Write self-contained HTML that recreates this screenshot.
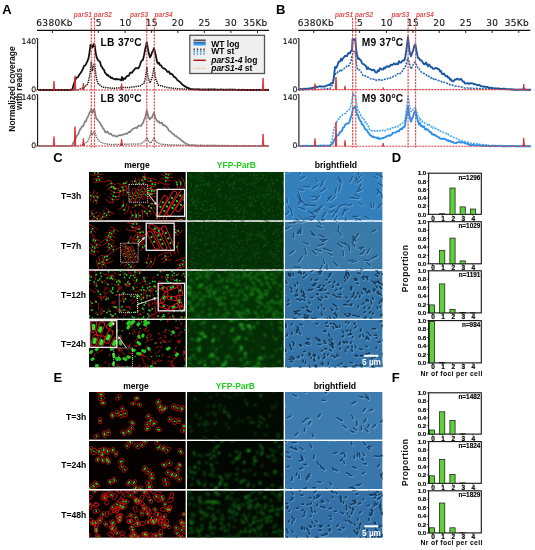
<!DOCTYPE html>
<html><head><meta charset="utf-8"><title>Figure</title>
<style>html,body{margin:0;padding:0;background:#fff;width:535px;height:550px;overflow:hidden}svg{display:block}</style>
</head><body>
<svg width="535" height="550" viewBox="0 0 535 550">
<rect x="0" y="0" width="535" height="550" fill="#fff"/>
<text x="2.3" y="13.8" font-family="'Liberation Sans', Arial, sans-serif" font-size="13" font-weight="bold" font-style="normal" text-anchor="start" fill="#000" >A</text>
<line x1="37" y1="30.4" x2="269" y2="30.4" stroke="#111" stroke-width="1.3"/>
<line x1="52.4" y1="30.4" x2="52.4" y2="33" stroke="#111" stroke-width="0.9"/>
<line x1="98.3" y1="30.4" x2="98.3" y2="33" stroke="#111" stroke-width="0.9"/>
<line x1="125.1" y1="30.4" x2="125.1" y2="33" stroke="#111" stroke-width="0.9"/>
<line x1="151.6" y1="30.4" x2="151.6" y2="33" stroke="#111" stroke-width="0.9"/>
<line x1="177.9" y1="30.4" x2="177.9" y2="33" stroke="#111" stroke-width="0.9"/>
<line x1="204.4" y1="30.4" x2="204.4" y2="33" stroke="#111" stroke-width="0.9"/>
<line x1="230.9" y1="30.4" x2="230.9" y2="33" stroke="#111" stroke-width="0.9"/>
<line x1="257.5" y1="30.4" x2="257.5" y2="33" stroke="#111" stroke-width="0.9"/>
<text x="54.5" y="25.6" font-family="'DejaVu Sans', sans-serif" font-size="9" font-weight="normal" font-style="normal" text-anchor="middle" fill="#111" letter-spacing="0.3" stroke="#111" stroke-width="0.12">6380Kb</text>
<text x="98.7" y="25.6" font-family="'DejaVu Sans', sans-serif" font-size="9" font-weight="normal" font-style="normal" text-anchor="middle" fill="#111" letter-spacing="0.3" stroke="#111" stroke-width="0.12">5</text>
<text x="125.5" y="25.6" font-family="'DejaVu Sans', sans-serif" font-size="9" font-weight="normal" font-style="normal" text-anchor="middle" fill="#111" letter-spacing="0.3" stroke="#111" stroke-width="0.12">10</text>
<text x="151.8" y="25.6" font-family="'DejaVu Sans', sans-serif" font-size="9" font-weight="normal" font-style="normal" text-anchor="middle" fill="#111" letter-spacing="0.3" stroke="#111" stroke-width="0.12">15</text>
<text x="177.9" y="25.6" font-family="'DejaVu Sans', sans-serif" font-size="9" font-weight="normal" font-style="normal" text-anchor="middle" fill="#111" letter-spacing="0.3" stroke="#111" stroke-width="0.12">20</text>
<text x="204.6" y="25.6" font-family="'DejaVu Sans', sans-serif" font-size="9" font-weight="normal" font-style="normal" text-anchor="middle" fill="#111" letter-spacing="0.3" stroke="#111" stroke-width="0.12">25</text>
<text x="230.9" y="25.6" font-family="'DejaVu Sans', sans-serif" font-size="9" font-weight="normal" font-style="normal" text-anchor="middle" fill="#111" letter-spacing="0.3" stroke="#111" stroke-width="0.12">30</text>
<text x="255.5" y="25.6" font-family="'DejaVu Sans', sans-serif" font-size="9" font-weight="normal" font-style="normal" text-anchor="middle" fill="#111" letter-spacing="0.3" stroke="#111" stroke-width="0.12">35Kb</text>
<line x1="37.6" y1="38.5" x2="37.6" y2="90" stroke="#111" stroke-width="1.1"/>
<line x1="36" y1="38.5" x2="37.6" y2="38.5" stroke="#111" stroke-width="0.8"/>
<line x1="36" y1="90" x2="37.6" y2="90" stroke="#111" stroke-width="0.8"/>
<text x="36.2" y="44" font-family="'DejaVu Sans', sans-serif" font-size="7.7" font-weight="normal" font-style="normal" text-anchor="end" fill="#111" stroke="#111" stroke-width="0.12">140</text>
<text x="36.2" y="91.8" font-family="'DejaVu Sans', sans-serif" font-size="7.7" font-weight="normal" font-style="normal" text-anchor="end" fill="#111" stroke="#111" stroke-width="0.12">0</text>
<line x1="37.6" y1="94.5" x2="37.6" y2="146" stroke="#111" stroke-width="1.1"/>
<line x1="36" y1="94.5" x2="37.6" y2="94.5" stroke="#111" stroke-width="0.8"/>
<line x1="36" y1="146" x2="37.6" y2="146" stroke="#111" stroke-width="0.8"/>
<text x="36.2" y="100" font-family="'DejaVu Sans', sans-serif" font-size="7.7" font-weight="normal" font-style="normal" text-anchor="end" fill="#111" stroke="#111" stroke-width="0.12">140</text>
<text x="36.2" y="147.8" font-family="'DejaVu Sans', sans-serif" font-size="7.7" font-weight="normal" font-style="normal" text-anchor="end" fill="#111" stroke="#111" stroke-width="0.12">0</text>
<text x="275.9" y="13.8" font-family="'Liberation Sans', Arial, sans-serif" font-size="13" font-weight="bold" font-style="normal" text-anchor="start" fill="#000" >B</text>
<line x1="298.3" y1="30.4" x2="530.3" y2="30.4" stroke="#111" stroke-width="1.3"/>
<line x1="313.7" y1="30.4" x2="313.7" y2="33" stroke="#111" stroke-width="0.9"/>
<line x1="359.6" y1="30.4" x2="359.6" y2="33" stroke="#111" stroke-width="0.9"/>
<line x1="386.4" y1="30.4" x2="386.4" y2="33" stroke="#111" stroke-width="0.9"/>
<line x1="412.9" y1="30.4" x2="412.9" y2="33" stroke="#111" stroke-width="0.9"/>
<line x1="439.2" y1="30.4" x2="439.2" y2="33" stroke="#111" stroke-width="0.9"/>
<line x1="465.7" y1="30.4" x2="465.7" y2="33" stroke="#111" stroke-width="0.9"/>
<line x1="492.2" y1="30.4" x2="492.2" y2="33" stroke="#111" stroke-width="0.9"/>
<line x1="518.8" y1="30.4" x2="518.8" y2="33" stroke="#111" stroke-width="0.9"/>
<text x="315.8" y="25.6" font-family="'DejaVu Sans', sans-serif" font-size="9" font-weight="normal" font-style="normal" text-anchor="middle" fill="#111" letter-spacing="0.3" stroke="#111" stroke-width="0.12">6380Kb</text>
<text x="360" y="25.6" font-family="'DejaVu Sans', sans-serif" font-size="9" font-weight="normal" font-style="normal" text-anchor="middle" fill="#111" letter-spacing="0.3" stroke="#111" stroke-width="0.12">5</text>
<text x="386.8" y="25.6" font-family="'DejaVu Sans', sans-serif" font-size="9" font-weight="normal" font-style="normal" text-anchor="middle" fill="#111" letter-spacing="0.3" stroke="#111" stroke-width="0.12">10</text>
<text x="413.1" y="25.6" font-family="'DejaVu Sans', sans-serif" font-size="9" font-weight="normal" font-style="normal" text-anchor="middle" fill="#111" letter-spacing="0.3" stroke="#111" stroke-width="0.12">15</text>
<text x="439.2" y="25.6" font-family="'DejaVu Sans', sans-serif" font-size="9" font-weight="normal" font-style="normal" text-anchor="middle" fill="#111" letter-spacing="0.3" stroke="#111" stroke-width="0.12">20</text>
<text x="465.9" y="25.6" font-family="'DejaVu Sans', sans-serif" font-size="9" font-weight="normal" font-style="normal" text-anchor="middle" fill="#111" letter-spacing="0.3" stroke="#111" stroke-width="0.12">25</text>
<text x="492.2" y="25.6" font-family="'DejaVu Sans', sans-serif" font-size="9" font-weight="normal" font-style="normal" text-anchor="middle" fill="#111" letter-spacing="0.3" stroke="#111" stroke-width="0.12">30</text>
<text x="516.8" y="25.6" font-family="'DejaVu Sans', sans-serif" font-size="9" font-weight="normal" font-style="normal" text-anchor="middle" fill="#111" letter-spacing="0.3" stroke="#111" stroke-width="0.12">35Kb</text>
<line x1="298.9" y1="38.5" x2="298.9" y2="90" stroke="#111" stroke-width="1.1"/>
<line x1="297.3" y1="38.5" x2="298.9" y2="38.5" stroke="#111" stroke-width="0.8"/>
<line x1="297.3" y1="90" x2="298.9" y2="90" stroke="#111" stroke-width="0.8"/>
<text x="297.5" y="44" font-family="'DejaVu Sans', sans-serif" font-size="7.7" font-weight="normal" font-style="normal" text-anchor="end" fill="#111" stroke="#111" stroke-width="0.12">140</text>
<text x="297.5" y="91.8" font-family="'DejaVu Sans', sans-serif" font-size="7.7" font-weight="normal" font-style="normal" text-anchor="end" fill="#111" stroke="#111" stroke-width="0.12">0</text>
<line x1="298.9" y1="94.5" x2="298.9" y2="146" stroke="#111" stroke-width="1.1"/>
<line x1="297.3" y1="94.5" x2="298.9" y2="94.5" stroke="#111" stroke-width="0.8"/>
<line x1="297.3" y1="146" x2="298.9" y2="146" stroke="#111" stroke-width="0.8"/>
<text x="297.5" y="100" font-family="'DejaVu Sans', sans-serif" font-size="7.7" font-weight="normal" font-style="normal" text-anchor="end" fill="#111" stroke="#111" stroke-width="0.12">140</text>
<text x="297.5" y="147.8" font-family="'DejaVu Sans', sans-serif" font-size="7.7" font-weight="normal" font-style="normal" text-anchor="end" fill="#111" stroke="#111" stroke-width="0.12">0</text>
<text transform="translate(14.9,89) rotate(-90)" font-family="'Liberation Sans', Arial, sans-serif" font-size="8.5" font-weight="bold" text-anchor="middle" fill="#111"><tspan x="0" y="0">Normalized coverage</tspan><tspan x="0" y="7.1">with reads</tspan></text>
<path d="M38,90 L39,90 L40,90 L41,90 L42,90 L43,90 L44,89.9 L45,90 L46,90 L47,90 L48,89.9 L49,90 L50,89.9 L51,90 L52,90 L53,89.9 L54,90 L55,90 L56,90 L57,90 L58,89.9 L59,89.9 L60,90 L61,89.9 L62,89.9 L63,90 L64,89.9 L65,90 L66,90 L67,90 L68,90 L69,90 L70,90 L71,90 L72,90 L73,90 L74,90 L75,90 L76,90 L77,90 L78,90 L79,89.4 L80,89 L81,88.5 L82,88.3 L83,87.8 L84,87.6 L85,86.5 L86,85.7 L87,84.7 L88,83.4 L89,78.6 L90,74.4 L91.3,62 L92.5,70.5 L93.5,65.9 L94.5,63.5 L96,76.1 L97,80 L98,83.5 L99,84.2 L100,85.1 L101,86.2 L102,86.6 L103,86.9 L104,87.5 L105,87.5 L106,87.6 L107,87.9 L108,87.8 L109,87.9 L110,88 L111,88 L112,88.2 L113,88.1 L114,88.3 L115,88.2 L116,88.1 L117,88 L118,87.8 L119,87.9 L120,87.7 L121,87.4 L122,87.6 L123,87.4 L124,87.5 L125,87.6 L126,87.5 L127,87.4 L128,87.6 L129,87.4 L130,87.4 L131,87.4 L132,87.1 L133,87 L134,86.8 L135,86.6 L136,86.6 L137,86.4 L138,86.3 L139,86.1 L140,86 L141,85.4 L142,84.5 L143,83.8 L144,83.2 L145.5,77.8 L146.8,67.6 L148,77.3 L149,80.2 L150,82.9 L151,80.3 L152,78.2 L153,73.4 L154,67.6 L155.5,78.3 L156.8,81.7 L158,85 L159,85.3 L160,85.4 L161,85.7 L162,86.3 L163,86.3 L164,86.8 L165,86.9 L166,87.3 L167,87.4 L168,87.5 L169,87.7 L170,88.1 L171,88 L172,88.1 L173,88.3 L174,88.5 L175,88.5 L176,88.5 L177,88.8 L178,88.7 L179,88.8 L180,88.9 L181,89 L182,89 L183,89 L184,89.1 L185,89.2 L186,89.2 L187,89.3 L188,89.4 L189,89.5 L190,89.4 L191,89.5 L192,89.5 L193,89.4 L194,89.5 L195,89.5 L196,89.7 L197,89.7 L198,89.8 L199,89.7 L200,89.8 L201,89.8 L202,89.8 L203,89.8 L204,89.9 L205,89.7 L206,89.8 L207,89.9 L208,89.9 L209,89.9 L210,89.9 L211,89.9 L212,89.9 L213,89.8 L214,89.9 L215,89.9 L216,89.9 L217,89.8 L218,89.9 L219,89.9 L220,89.9 L221,89.9 L222,89.8 L223,89.9 L224,89.9 L225,89.8 L226,89.9 L227,90 L228,90 L229,89.9 L230,89.9 L231,89.9 L232,89.9 L233,89.9 L234,90 L235,89.8 L236,90 L237,89.8 L238,89.9 L239,89.9 L240,89.9 L241,90 L242,89.9 L243,89.9 L244,90 L245,89.9 L246,89.8 L247,89.9 L248,90 L249,89.9 L250,89.9 L251,90 L252,90 L253,89.9 L254,90 L255,89.9 L256,90 L257,89.9 L258,90 L259,90 L260,90 L261,90 L262,90 L263,90 L264,90 L265,89.9 L266,90 L267,90 L268,90 L269,90" fill="none" stroke="#111" stroke-width="1.5" stroke-dasharray="1.3,0.9" stroke-linejoin="round" opacity="1"/>
<path d="M38,90 L39,90 L40,90 L41,89.9 L42,89.8 L43,90 L44,89.9 L45,90 L46,90 L47,90 L48,90 L49,90 L50,89.9 L51,90 L52,89.9 L53,90 L54,89.8 L55,90 L56,89.8 L57,90 L58,89.9 L59,90 L60,90 L61,89.8 L62,89.8 L63,90 L64,90 L65,89.8 L66,90 L67,90 L68,89.8 L69,90 L70,89.9 L71.2,89.7 L72.3,89.6 L73.7,84.6 L75,80.7 L76,78.4 L77,77.3 L78,77.1 L79,75.1 L80,73.8 L81,72.5 L82,70.6 L83,68.7 L84,65.8 L85,65.6 L86,64.2 L87.2,61.7 L88.5,58.4 L89.5,52.6 L90.5,44.6 L91.3,45 L92.5,47.5 L93.7,44 L94.5,44.3 L95.5,51.6 L96.5,56.8 L97.7,59.7 L98.8,60.9 L100,61.8 L101,65.8 L102,66.8 L103,68.8 L104,69.9 L105,72.8 L106,73.6 L107,75.3 L108,74.9 L109,76.6 L110,76.6 L111,78.1 L112,77.6 L113,78.7 L114,78.9 L115,79.5 L116,78.7 L117,79.4 L118,79.1 L119,79.3 L120,79.6 L121,80.4 L122,77 L123,80.2 L124,78.3 L125,78.9 L126,77.3 L127,76 L128,76.1 L129,75.5 L130,72.8 L131,72.5 L132,72.9 L133,71.2 L134,70.1 L135,68.8 L136,67.8 L137,68.3 L138,68.3 L139,67.3 L140,65 L141,61.8 L142,60.5 L143,59.7 L144,55.4 L145,50.4 L146.8,42.3 L148.5,52.1 L150,57.4 L151,55.6 L152,52.4 L153,51.2 L154,48 L155.5,54.1 L157,61.5 L158,63.6 L159,62.8 L160,65.2 L161,65.3 L162,67 L163,68.3 L164,68.3 L165,69.1 L166,69.7 L167,71.4 L168,72.1 L169,71.5 L170,73.8 L171,73.6 L172,74.1 L173,75.3 L174,77.1 L175,77.1 L176,78.2 L177,79.6 L178,80.7 L179,81.3 L180,81.9 L181,83 L182,84.2 L183,85 L184,85.7 L185,86.4 L186,86.9 L187,87.7 L188,88 L189,88.2 L190,89.1 L191,89.2 L192,89.2 L193,89.3 L194,89.4 L195,89.3 L196,89.4 L197,89.3 L198,89.2 L199,89.4 L200,89.4 L201,89.7 L202,89.6 L203,89.5 L204,89.6 L205,89.4 L206,89.6 L207,89.6 L208,89.5 L209,89.5 L210,89.5 L211,89.5 L212,89.7 L213,89.5 L214,89.4 L215,89.5 L216,89.7 L217,89.7 L218,89.7 L219,89.8 L220,89.6 L221,89.5 L222,89.7 L223,89.7 L224,89.6 L225,89.8 L226,89.6 L227,89.6 L228,89.7 L229,89.9 L230,89.5 L231,89.7 L232,89.7 L233,89.6 L234,89.7 L235,89.7 L236,90 L237,89.8 L238,89.9 L239,89.7 L240,89.8 L241,89.9 L242,90 L243,89.7 L244,89.8 L245,90 L246,90 L247,89.8 L248,89.9 L249,90 L250,89.9 L251,90 L252,90 L253,90 L254,90 L255,90 L256,89.9 L257,90 L258,89.9 L259,90 L260,89.9 L261,89.9 L262,89.9 L263,89.9 L264,90 L265,89.9 L266,89.8 L267,90 L268,89.9 L269,90" fill="none" stroke="#111" stroke-width="1.8" stroke-linejoin="round" opacity="1"/>
<path d="M38,146 L39,146 L40,146 L41,146 L42,146 L43,146 L44,145.9 L45,146 L46,146 L47,145.9 L48,146 L49,146 L50,146 L51,146 L52,146 L53,146 L54,145.9 L55,146 L56,145.9 L57,146 L58,146 L59,146 L60,146 L61,146 L62,146 L63,146 L64,146 L65,146 L66,146 L67,146 L68,146 L69,146 L70,146 L71,146 L72,146 L73,145.9 L74,146 L75,146 L76,146 L77,146 L78,146 L79,145.8 L80,145.4 L81,145.3 L82,145 L83,144.7 L84,144.4 L85,143.6 L86,142.7 L87,141.9 L88,141 L89,138.5 L90,135.8 L91.3,131 L92.5,134.8 L93.5,132.8 L94.5,130.8 L96,135.9 L97,137.8 L98,140.1 L99,140.9 L100,141.5 L101,142.3 L102,143.1 L103,143.1 L104,143.3 L105,143.6 L106,143.8 L107,144 L108,144 L109,144.3 L110,144.6 L111,144.6 L112,144.5 L113,144.4 L114,144.5 L115,144.4 L116,144.4 L117,144.3 L118,144.5 L119,144.4 L120,144.4 L121,144.3 L122,144.3 L123,144.3 L124,144.3 L125,144.2 L126,144.3 L127,144.2 L128,144.2 L129,144.1 L130,144.2 L131,144.1 L132,144.1 L133,144 L134,144.1 L135,144.1 L136,144.1 L137,143.9 L138,144 L139,144 L140,143.9 L141,143.4 L142,143.1 L143,142.4 L144,141.9 L145.4,139.8 L146.8,137.7 L147.9,139.7 L149,142 L150,142.5 L151,143.1 L152,141.1 L153,139.4 L154,137.7 L155,140 L156,142 L157,142.5 L158,143 L159,143.4 L160,143.9 L161,144.1 L162,144.3 L163,144.4 L164,144.3 L165,144.5 L166,144.7 L167,144.7 L168,144.8 L169,144.9 L170,145 L171,145 L172,145 L173,145 L174,145 L175,145 L176,145 L177,145.1 L178,145.1 L179,145 L180,145.2 L181,145.1 L182,145.1 L183,145.1 L184,145.1 L185,145.1 L186,145.1 L187,145.1 L188,145.2 L189,145.1 L190,145.3 L191,145.2 L192,145.2 L193,145.2 L194,145.2 L195,145.2 L196,145.2 L197,145.3 L198,145.4 L199,145.4 L200,145.2 L201,145.3 L202,145.3 L203,145.4 L204,145.3 L205,145.4 L206,145.4 L207,145.3 L208,145.3 L209,145.4 L210,145.5 L211,145.4 L212,145.4 L213,145.4 L214,145.4 L215,145.5 L216,145.4 L217,145.5 L218,145.5 L219,145.6 L220,145.5 L221,145.6 L222,145.5 L223,145.5 L224,145.6 L225,145.6 L226,145.6 L227,145.5 L228,145.5 L229,145.6 L230,145.7 L231,145.6 L232,145.6 L233,145.7 L234,145.6 L235,145.6 L236,145.6 L237,145.6 L238,145.7 L239,145.6 L240,145.7 L241,145.8 L242,145.8 L243,145.8 L244,145.7 L245,145.8 L246,145.8 L247,145.8 L248,145.8 L249,145.8 L250,145.7 L251,145.8 L252,145.9 L253,145.8 L254,145.8 L255,145.9 L256,145.9 L257,145.8 L258,145.8 L259,145.9 L260,145.9 L261,146 L262,145.9 L263,146 L264,146 L265,145.9 L266,146 L267,146 L268,146 L269,146" fill="none" stroke="#666" stroke-width="1.4" stroke-dasharray="1.3,0.9" stroke-linejoin="round" opacity="1"/>
<path d="M38,145.8 L39,146 L40,146 L41,146 L42,145.9 L43,145.9 L44,146 L45,146 L46,145.9 L47,146 L48,146 L49,146 L50,145.9 L51,145.9 L52,146 L53,145.9 L54,145.9 L55,146 L56,146 L57,145.9 L58,146 L59,146 L60,145.9 L61,146 L62,145.9 L63,145.9 L64,145.8 L65,145.9 L66,146 L67,146 L68,146 L69,146 L70,146 L71,145.9 L72,145.6 L73,143.4 L74,141.8 L75,140 L76,137.6 L77,135.4 L78,134.6 L79,132 L80,129.4 L81,128.4 L82,126.3 L83,126.3 L84,124 L85,121.3 L86,121.5 L87,118 L88,116.8 L89.5,112.8 L90.5,111.6 L91.3,109.2 L92.5,113.1 L93.7,109.4 L94.5,110.4 L95.5,115.5 L96.5,118.8 L97.7,119.9 L98.8,121.3 L100,122.5 L101,125.1 L102,126 L103,128.3 L104,129.3 L105,131.9 L106,132.6 L107,131.5 L108,132.3 L109,133.8 L110,134.1 L111,133.6 L112,135.1 L113,135.9 L114,135.5 L115,135.8 L116,136.5 L117,136.8 L118,135.6 L119,135.4 L120,135 L121,135.5 L122,135 L123,134.5 L124,134.4 L125,133.7 L126,133.5 L127,134.1 L128,132.8 L129,131.7 L130,132.3 L131,130.6 L132,129.8 L133,128.8 L134,128.4 L135,127.9 L136,127.4 L137,128.2 L138,126.2 L139,125.5 L140,125.8 L141,126.1 L142,124.1 L143,123.1 L144,119.9 L145,118.2 L146.8,110.4 L148.5,117.2 L150,119.4 L151,117.6 L152,117.4 L153,114.4 L154,112.6 L155.5,118.2 L157,120.8 L158,121.9 L159,121.3 L160,123.3 L161,123.1 L162,122.6 L163,125.4 L164,125.1 L165,125.7 L166,126.4 L167,127.3 L168,128.8 L169,131 L170,131.1 L171,132.1 L172,133.2 L173,134.1 L174,134.6 L175,135.9 L176,136 L177,136.9 L178,137.8 L179,138.3 L180,139.2 L181,139.8 L182,141.1 L183,141.3 L184,142.4 L185,142.8 L186,143.6 L187,144 L188,144.3 L189,145.1 L190,145.4 L191,145.4 L192,145.2 L193,145.4 L194,145.4 L195,145.5 L196,145.8 L197,145.8 L198,145.5 L199,145.8 L200,146 L201,145.8 L202,145.6 L203,146 L204,145.8 L205,146 L206,146 L207,146 L208,146 L209,145.6 L210,145.9 L211,145.8 L212,145.7 L213,145.8 L214,145.9 L215,145.6 L216,145.8 L217,146 L218,145.9 L219,145.9 L220,145.8 L221,146 L222,145.8 L223,145.9 L224,145.9 L225,145.7 L226,146 L227,145.8 L228,146 L229,146 L230,146 L231,146 L232,145.9 L233,145.9 L234,145.8 L235,146 L236,145.7 L237,145.8 L238,146 L239,146 L240,146 L241,146 L242,145.9 L243,146 L244,145.9 L245,146 L246,145.8 L247,145.9 L248,146 L249,146 L250,145.9 L251,146 L252,146 L253,145.9 L254,145.8 L255,145.8 L256,146 L257,146 L258,145.9 L259,146 L260,145.8 L261,145.9 L262,145.9 L263,145.9 L264,146 L265,145.9 L266,145.8 L267,146 L268,146 L269,145.8" fill="none" stroke="#828282" stroke-width="1.7" stroke-linejoin="round" opacity="1"/>
<path d="M299,89.7 L300,89.8 L301,89.8 L302,89.8 L303,89.7 L304,89.8 L305,89.8 L306,89.7 L307,89.7 L308,89.6 L309,89.5 L310,89.6 L311,89.7 L312,89.5 L313,89.7 L314,89.5 L315,89.5 L316,89.4 L317,89.7 L318,89.6 L319,89.6 L320,89.5 L321,89.2 L322,89.2 L323,89.2 L324,89 L325,89.2 L326,88.8 L327,88.7 L328,88.8 L329,88.4 L330,88.7 L331,87 L332,85.5 L333,83.9 L334,76.4 L335,74.8 L336,73.4 L337,73.6 L338,71.7 L339,71.9 L340,70.1 L341,70.9 L342,70.1 L343,69.2 L344,68.6 L345,67.7 L346,67.4 L347,65.6 L348,65.8 L349,65.9 L350,64.1 L351,60.6 L352,55.7 L353.5,51.4 L355,51.3 L356,59.7 L357,67.8 L358,70 L359,69.8 L360,70.1 L361,71.7 L362,74.1 L363,75.2 L364,75.1 L365,75.7 L366,76.5 L367,77.3 L368,77.1 L369,78.1 L370,78.6 L371,78.9 L372,78.7 L373,78.9 L374,79.4 L375,80.3 L376,80 L377,80.5 L378,80 L379,79.7 L380,79.5 L381,80.2 L382,80 L383,79.4 L384,79.5 L385,79.2 L386,79.2 L387,79.1 L388,78.2 L389,78.7 L390,78.4 L391,77.5 L392,77.5 L393,76.6 L394,76 L395,75.4 L396,75.8 L397,74.2 L398,73.6 L399,74.2 L400,73.7 L401,72.1 L402,71.7 L403,69.2 L404,68.6 L405,67.6 L406,64.8 L407,61.2 L408,57.9 L409,61.5 L410,65.7 L411,69 L412,67 L413,65 L414.1,62.7 L415.3,62.3 L417,66.1 L418,68 L419,68.1 L420,70.1 L421,71.9 L422,72.4 L423,73.2 L424,73.4 L425,73.7 L426,74.6 L427,75.7 L428,75.5 L429,76.5 L430,76.8 L431,78.1 L432,77.5 L433,78.7 L434,79.4 L435,78.6 L436,79.6 L437,80 L438,80.6 L439,80.6 L440,80.7 L441,81.2 L442,82.1 L443,82.4 L444,82.1 L445,82.5 L446,82.9 L447,83.2 L448,84 L449,84 L450,84.8 L451,85 L452,84.9 L453,85.5 L454,85.6 L455,86 L456,86 L457,86.1 L458,86.3 L459,86.6 L460,86.9 L461,87.1 L462,87 L463,87.6 L464,87.9 L465,88.1 L466,88.2 L467,87.9 L468,88.1 L469,88 L470,88.3 L471,88.1 L472,88.4 L473,88.3 L474,88.5 L475,88.4 L476,88.3 L477,88.5 L478,88.5 L479,88.8 L480,88.6 L481,88.7 L482,88.8 L483,88.9 L484,88.6 L485,88.8 L486,88.8 L487,88.9 L488,89.1 L489,88.8 L490,89 L491,88.9 L492,89 L493,88.8 L494,89.1 L495,89.2 L496,89 L497,89 L498,89.3 L499,89 L500,89 L501,89 L502,89.3 L503,89.3 L504,89.2 L505,89.3 L506,89.1 L507,89.3 L508,89.3 L509,89.3 L510,89.3 L511,89.3 L512,89.3 L513,89.3 L514,89.4 L515,89.4 L516,89.5 L517,89.6 L518,89.6 L519,89.5 L520,89.5 L521,89.5 L522,89.6 L523,89.7 L524,89.8 L525,89.5 L526,89.7 L527,89.7 L528,89.8 L529,89.9 L530,89.9 L531,89.8" fill="none" stroke="#2262ac" stroke-width="1.5" stroke-dasharray="2,1.1" stroke-linejoin="round" opacity="1"/>
<path d="M299,89.7 L300,89.2 L301,89 L302,89.5 L303,88.9 L304,88.8 L305,89 L306,88.8 L307,89 L308,88.5 L309,88.9 L310,88.4 L311,88.3 L312,88.2 L313,87.7 L314,87.6 L315,87.2 L316,86.5 L317,87.1 L318,86.8 L319,86.4 L320,86.2 L321,86.7 L322,86.4 L323,86.6 L324,86.4 L325,86.5 L326,85.8 L327,85.6 L328,85.2 L329,84.5 L330,85 L331,83.3 L332,83 L333,82.4 L334,76.3 L335,66.9 L336,68 L337,66.5 L338,63.5 L339,61.5 L340,61.5 L341,58.7 L342,60.4 L343,58.1 L344,57.2 L345,55.9 L346,56 L347,56.1 L348,53.4 L349,53 L350,53.2 L351,51 L352,50.6 L352.6,39.1 L353.5,39.8 L355.2,39.1 L356,48.1 L357,54.7 L358,58.9 L359,58.2 L360,59.8 L361,60.6 L362,63.2 L363,64.1 L364,64.3 L365,65.4 L366,66 L367,69.1 L368,67.4 L369,69.1 L370,69.1 L371,69.5 L372,70.2 L373,70 L374,69.8 L375,71.5 L376,72.5 L377,72.3 L378,70.3 L379,71 L380,68.3 L381,68.7 L382,69.6 L383,69.5 L384,67.6 L385,68.4 L386,66.8 L387,66.5 L388,66.2 L389,67 L390,65.8 L391,64.6 L392,65.1 L393,64.5 L394,63.3 L395,64.3 L396,64.2 L397,63.4 L398,64.3 L399,61.1 L400,62.5 L401,62.6 L402,61.3 L403,60.3 L404,60.7 L405,58.6 L406.5,49.3 L408,37 L409.5,51.5 L411,56.3 L412,53.2 L413,51.1 L414.1,46.7 L415.3,44.2 L416.5,51 L418,58.1 L419,58.2 L420,60.2 L421,60.1 L422,61.1 L423,62.9 L424,64.1 L425,64.4 L426,62.5 L427,64.3 L428,66.4 L429,64.5 L430,65.7 L431,67.3 L432,67.2 L433,68.7 L434,68.8 L435,68.3 L436,67.9 L437,68.4 L438,69.1 L439,69.1 L440,71.5 L441,71 L442,73.9 L443,74.2 L444,73.5 L445,75.3 L446,76.3 L447,75.8 L448,77.5 L449,77.4 L450,79.7 L451,79.2 L452,81.1 L453,81.4 L454,80.8 L455,79.4 L456,79.6 L457,78.7 L458,78.9 L459,79.7 L460,79.5 L461,78.8 L462,80.3 L463,81.6 L464,81.7 L465,83.4 L466,83.6 L467,83.3 L468,83.1 L469,83.9 L470,83.5 L471,83.2 L472,83.4 L473,83.4 L474,84.3 L475,84 L476,84.5 L477,85 L478,85.4 L479,84.9 L480,85.4 L481,86.2 L482,86.4 L483,86.3 L484,86.8 L485,86.7 L486,86.9 L487,87 L488,87.4 L489,87.4 L490,87.8 L491,88.2 L492,87.7 L493,88.1 L494,88.4 L495,88.3 L496,88.4 L497,88.6 L498,88.2 L499,88.9 L500,88.8 L501,89 L502,89 L503,88.6 L504,88.7 L505,88.8 L506,89.1 L507,89.4 L508,89.4 L509,89.2 L510,89.4 L511,89.5 L512,89.3 L513,89.7 L514,89.7 L515,89.6 L516,89.8 L517,89.7 L518,89.7 L519,89.6 L520,89.6 L521,89.6 L522,89.5 L523,89.9 L524,89.6 L525,89.5 L526,89.7 L527,89.6 L528,89.7 L529,89.7 L530,89.6 L531,89.8" fill="none" stroke="#1a58a2" stroke-width="1.9" stroke-linejoin="round" opacity="1"/>
<path d="M299,146.3 L300,146.3 L301,146.3 L302,146.1 L303,146.3 L304,146.2 L305,146.3 L306,146.1 L307,146.1 L308,146.2 L309,146.1 L310,146.2 L311,146 L312,146 L313,146.2 L314,146.1 L315,146.1 L316,146.2 L317,146.1 L318,146 L319,146.2 L320,146.1 L321,146.1 L322,146.1 L323,146.2 L324,146 L325,146.1 L326,146 L327,146.1 L328,146.1 L329,145.9 L330,145.9 L331,143 L332,140.2 L333,134.4 L334,128.5 L335,126.6 L336,123.4 L337,121.1 L338,119 L339,119.2 L340,117.1 L341,116.1 L342,115.2 L343,114.3 L344,113.9 L345,113.6 L346,113.2 L347,111.4 L348,110.5 L349,109.5 L350,108.6 L351,105.1 L352,100.1 L353,93.4 L354,95.2 L355.2,95.8 L356.5,103.4 L358,110.9 L359,111.3 L360,113.6 L361,116 L362,117 L363,119.2 L364,119.1 L365,122.2 L366,121.8 L367,124.3 L368,125.4 L369,128.6 L370,130.2 L371,130.8 L372,130.6 L373,131 L374,130.5 L375,131.3 L376,131.1 L377,130.6 L378,131.7 L379,130.9 L380,130.7 L381,130.3 L382,130.7 L383,130.1 L384,131 L385,130.9 L386,129.5 L387,129.1 L388,129.5 L389,128.6 L390,128.9 L391,129.1 L392,127.8 L393,127.8 L394,128.3 L395,127.2 L396,126.4 L397,126.9 L398,126.2 L399,125.9 L400,124.9 L401,123.6 L402,123.4 L403,122.9 L404,121.7 L405,120.2 L406,112.4 L407,104.8 L408,96.3 L409.5,105.1 L411,111.7 L412,111.5 L413,109.2 L414.1,109.1 L415.3,107.3 L417,113.1 L418,115.8 L419,116.8 L420,120.3 L421,119.3 L422,121.1 L423,121.8 L424,121.9 L425,123.4 L426,123.9 L427,124.4 L428,125.4 L429,124.5 L430,125.8 L431,127 L432,126.3 L433,128.1 L434,127.4 L435,128.7 L436,128.3 L437,129.3 L438,129.7 L439,129.7 L440,131.1 L441,131.2 L442,132 L443,132.2 L444,132.7 L445,133.1 L446,133.3 L447,134.5 L448,134 L449,135.4 L450,135.9 L451,136 L452,136.7 L453,137.1 L454,137.5 L455,137.7 L456,138.2 L457,138.6 L458,139.1 L459,140.1 L460,140 L461,140.5 L462,140.9 L463,141.5 L464,141.5 L465,141.8 L466,141.8 L467,142.1 L468,142.3 L469,142.6 L470,142.9 L471,143.3 L472,143.3 L473,143.2 L474,143.5 L475,143.4 L476,143.8 L477,143.8 L478,144.2 L479,144 L480,144.4 L481,144.3 L482,144.7 L483,144.7 L484,144.6 L485,145 L486,144.9 L487,145.1 L488,145.1 L489,145.5 L490,145.4 L491,145.6 L492,145.5 L493,145.6 L494,145.5 L495,145.4 L496,145.8 L497,145.7 L498,145.5 L499,145.8 L500,145.8 L501,145.6 L502,145.6 L503,145.8 L504,145.6 L505,145.9 L506,145.8 L507,145.9 L508,145.9 L509,146 L510,146 L511,145.9 L512,146 L513,145.9 L514,145.8 L515,145.9 L516,146.1 L517,145.9 L518,146 L519,146 L520,146.1 L521,146.1 L522,146.2 L523,146.1 L524,146.1 L525,146.2 L526,146.3 L527,146.3 L528,146.2 L529,146.3 L530,146.3 L531,146.3" fill="none" stroke="#40a4f2" stroke-width="1.5" stroke-dasharray="2,1.1" stroke-linejoin="round" opacity="1"/>
<path d="M299,146.1 L300,146.1 L301,145.8 L302,146.2 L303,145.8 L304,146 L305,145.7 L306,146 L307,145.7 L308,146 L309,146 L310,146 L311,145.8 L312,146 L313,146.1 L314,145.6 L315,145.8 L316,146 L317,145.9 L318,145.7 L319,145.6 L320,145.9 L321,145.5 L322,145.8 L323,145.9 L324,145.5 L325,145.6 L326,145.6 L327,145.7 L328,145.6 L329,145.8 L330,145.8 L331,144.6 L332,144.1 L333,142.7 L334,140.4 L335,138.8 L336,136.9 L337,135.9 L338,135.3 L339,134.1 L340,132 L341,131.7 L342,130.9 L343,127.6 L344,127.3 L345,125.1 L346,123.9 L347,123.8 L348,123.3 L349,123.1 L350,119.7 L351,116.8 L352,114.3 L353,107.7 L354,108.1 L355.2,106.3 L357,114.4 L358,115.3 L359,118.4 L360,120.4 L361,121.7 L362,124.4 L363,124.9 L364,126.7 L365,129.2 L366,129.4 L367,130.5 L368,132.5 L369,133.4 L370,135.3 L371,135.4 L372,136.8 L373,136.5 L374,137.3 L375,137.3 L376,137.6 L377,138.2 L378,137.4 L379,138.9 L380,138.7 L381,138.6 L382,138.1 L383,138 L384,137.6 L385,137.4 L386,136.6 L387,136.2 L388,135.7 L389,135.3 L390,135.8 L391,135.1 L392,134.3 L393,132.6 L394,132.6 L395,132.6 L396,132.4 L397,131.3 L398,131.2 L399,131.3 L400,129.4 L401,128.8 L402,129 L403,127.1 L404,127.4 L405,125.7 L406,118.8 L407,114.1 L408,106.4 L409.5,115.8 L411,121.7 L412,118.4 L413,117.1 L414.1,112.6 L415.3,110.7 L416.5,116.1 L418,121.4 L419,124.4 L420,123 L421,126.2 L422,125.9 L423,127.1 L424,126.2 L425,129.1 L426,129.7 L427,128.9 L428,129.9 L429,130.7 L430,132.3 L431,132.3 L432,134.2 L433,134.2 L434,135.1 L435,134.8 L436,136 L437,136.2 L438,137.1 L439,137.2 L440,138.6 L441,138.7 L442,139 L443,138.7 L444,138.8 L445,139.1 L446,139.4 L447,140.7 L448,140.3 L449,141.2 L450,140.9 L451,141.7 L452,141.7 L453,142.1 L454,142.8 L455,143.1 L456,143.2 L457,142.5 L458,142.4 L459,142.1 L460,142 L461,142.6 L462,142.1 L463,142.4 L464,142.6 L465,143.3 L466,143.6 L467,143.6 L468,144 L469,144.4 L470,145.2 L471,145.2 L472,144.9 L473,145 L474,145.1 L475,145.3 L476,145.4 L477,145.2 L478,145.3 L479,145.3 L480,145.7 L481,145.6 L482,145.8 L483,145.5 L484,145.8 L485,145.8 L486,146 L487,145.8 L488,145.8 L489,146.1 L490,146.2 L491,146 L492,145.9 L493,145.8 L494,146 L495,146.2 L496,146 L497,146 L498,146.1 L499,145.9 L500,145.9 L501,146.1 L502,146.3 L503,146.3 L504,146 L505,146.2 L506,146.3 L507,146.2 L508,146.1 L509,146 L510,146.2 L511,146.2 L512,146 L513,146 L514,146 L515,146.3 L516,146.3 L517,146.2 L518,146.3 L519,146.3 L520,146.1 L521,146.2 L522,146.2 L523,146.3 L524,146.1 L525,146.3 L526,146.1 L527,146.3 L528,146.3 L529,146.1 L530,146.3 L531,146.1" fill="none" stroke="#2a90e8" stroke-width="1.9" stroke-linejoin="round" opacity="1"/>
<line x1="38" y1="90" x2="269" y2="90" stroke="#e8383a" stroke-width="1.1" stroke-dasharray="2,1"/>
<path d="M53.2,90 L53.9,82 L54,81 L54.1,82 L54.8,90" fill="#d83030" stroke="#d02828" stroke-width="0.8"/>
<path d="M74.2,90 L74.8,76.8 L75,75.8 L75.2,76.8 L75.8,90" fill="#d83030" stroke="#d02828" stroke-width="0.8"/>
<path d="M82.6,90 L83.2,84 L83.4,83 L83.6,84 L84.2,90" fill="#d83030" stroke="#d02828" stroke-width="0.8"/>
<path d="M120.8,90 L121.4,84.6 L121.6,83.6 L121.8,84.6 L122.4,90" fill="#d83030" stroke="#d02828" stroke-width="0.8"/>
<path d="M262.3,90 L263,79 L263.1,78 L263.2,79 L263.9,90" fill="#d83030" stroke="#d02828" stroke-width="0.8"/>
<line x1="38" y1="146" x2="269" y2="146" stroke="#e8383a" stroke-width="1.1" stroke-dasharray="2,1"/>
<path d="M53.2,146 L53.9,137.4 L54,136.4 L54.1,137.4 L54.8,146" fill="#d83030" stroke="#d02828" stroke-width="0.8"/>
<path d="M74.2,146 L74.8,127.6 L75,126.6 L75.2,127.6 L75.8,146" fill="#d83030" stroke="#d02828" stroke-width="0.8"/>
<path d="M82.6,146 L83.2,139.4 L83.4,138.4 L83.6,139.4 L84.2,146" fill="#d83030" stroke="#d02828" stroke-width="0.8"/>
<path d="M120.8,146 L121.4,140 L121.6,139 L121.8,140 L122.4,146" fill="#d83030" stroke="#d02828" stroke-width="0.8"/>
<path d="M262.3,146 L263,135 L263.1,134 L263.2,135 L263.9,146" fill="#d83030" stroke="#d02828" stroke-width="0.8"/>
<line x1="299.3" y1="89.6" x2="530.3" y2="89.6" stroke="#e8383a" stroke-width="1.1" stroke-dasharray="2,1"/>
<path d="M314.2,89.6 L314.9,84.5 L315,83.5 L315.1,84.5 L315.8,89.6" fill="#d83030" stroke="#d02828" stroke-width="0.8"/>
<path d="M335.2,89.6 L335.9,78 L336,77 L336.1,78 L336.8,89.6" fill="#d83030" stroke="#d02828" stroke-width="0.8"/>
<path d="M344.2,89.6 L344.9,86.8 L345,85.8 L345.1,86.8 L345.8,89.6" fill="#d83030" stroke="#d02828" stroke-width="0.8"/>
<path d="M382.4,89.6 L383,88.5 L383.2,87.5 L383.4,88.5 L384,89.6" fill="#d83030" stroke="#d02828" stroke-width="0.8"/>
<path d="M523,89.6 L523.6,85 L523.8,84 L523.9,85 L524.6,89.6" fill="#d83030" stroke="#d02828" stroke-width="0.8"/>
<line x1="299.3" y1="146.3" x2="530.3" y2="146.3" stroke="#e8383a" stroke-width="1.1" stroke-dasharray="2,1"/>
<path d="M314.2,146.3 L314.9,139.4 L315,138.4 L315.1,139.4 L315.8,146.3" fill="#d83030" stroke="#d02828" stroke-width="0.8"/>
<path d="M335.2,146.3 L335.9,123 L336,122 L336.1,123 L336.8,146.3" fill="#d83030" stroke="#d02828" stroke-width="0.8"/>
<path d="M344.2,146.3 L344.9,141.3 L345,140.3 L345.1,141.3 L345.8,146.3" fill="#d83030" stroke="#d02828" stroke-width="0.8"/>
<path d="M382.4,146.3 L383,144 L383.2,143 L383.4,144 L384,146.3" fill="#d83030" stroke="#d02828" stroke-width="0.8"/>
<path d="M523,146.3 L523.6,138.9 L523.8,137.9 L523.9,138.9 L524.6,146.3" fill="#d83030" stroke="#d02828" stroke-width="0.8"/>
<line x1="91.3" y1="18" x2="91.3" y2="147.5" stroke="#e04444" stroke-width="1.15" stroke-dasharray="2.2,1"/>
<line x1="94.5" y1="18" x2="94.5" y2="147.5" stroke="#e04444" stroke-width="1.15" stroke-dasharray="2.2,1"/>
<line x1="146.8" y1="18" x2="146.8" y2="147.5" stroke="#e04444" stroke-width="1.15" stroke-dasharray="2.2,1"/>
<line x1="154.3" y1="18" x2="154.3" y2="147.5" stroke="#e04444" stroke-width="1.15" stroke-dasharray="2.2,1"/>
<text x="91.9" y="17.2" font-family="'Liberation Sans', Arial, sans-serif" font-size="6.5" font-weight="bold" font-style="italic" text-anchor="end" fill="#e05050" >parS1</text>
<text x="93.8" y="17.2" font-family="'Liberation Sans', Arial, sans-serif" font-size="6.5" font-weight="bold" font-style="italic" text-anchor="start" fill="#e05050" >parS2</text>
<text x="148.2" y="17.2" font-family="'Liberation Sans', Arial, sans-serif" font-size="6.5" font-weight="bold" font-style="italic" text-anchor="end" fill="#e05050" >parS3</text>
<text x="154.6" y="17.2" font-family="'Liberation Sans', Arial, sans-serif" font-size="6.5" font-weight="bold" font-style="italic" text-anchor="start" fill="#e05050" >parS4</text>
<line x1="352.6" y1="18" x2="352.6" y2="147.5" stroke="#e04444" stroke-width="1.15" stroke-dasharray="2.2,1"/>
<line x1="355.8" y1="18" x2="355.8" y2="147.5" stroke="#e04444" stroke-width="1.15" stroke-dasharray="2.2,1"/>
<line x1="408.1" y1="18" x2="408.1" y2="147.5" stroke="#e04444" stroke-width="1.15" stroke-dasharray="2.2,1"/>
<line x1="415.6" y1="18" x2="415.6" y2="147.5" stroke="#e04444" stroke-width="1.15" stroke-dasharray="2.2,1"/>
<text x="353.2" y="17.2" font-family="'Liberation Sans', Arial, sans-serif" font-size="6.5" font-weight="bold" font-style="italic" text-anchor="end" fill="#e05050" >parS1</text>
<text x="355.1" y="17.2" font-family="'Liberation Sans', Arial, sans-serif" font-size="6.5" font-weight="bold" font-style="italic" text-anchor="start" fill="#e05050" >parS2</text>
<text x="409.5" y="17.2" font-family="'Liberation Sans', Arial, sans-serif" font-size="6.5" font-weight="bold" font-style="italic" text-anchor="end" fill="#e05050" >parS3</text>
<text x="415.9" y="17.2" font-family="'Liberation Sans', Arial, sans-serif" font-size="6.5" font-weight="bold" font-style="italic" text-anchor="start" fill="#e05050" >parS4</text>
<text x="100.6" y="45.8" font-family="'Liberation Sans', Arial, sans-serif" font-size="10.2" font-weight="bold" font-style="normal" text-anchor="start" fill="#000" letter-spacing="0.3">LB 37<tspan dy="-4.3" font-size="6.6">o</tspan><tspan dy="4.3">C</tspan></text>
<text x="100.6" y="102.3" font-family="'Liberation Sans', Arial, sans-serif" font-size="10.2" font-weight="bold" font-style="normal" text-anchor="start" fill="#000" letter-spacing="0.3">LB 30<tspan dy="-4.3" font-size="6.6">o</tspan><tspan dy="4.3">C</tspan></text>
<text x="361.7" y="45.7" font-family="'Liberation Sans', Arial, sans-serif" font-size="10.2" font-weight="bold" font-style="normal" text-anchor="start" fill="#000" letter-spacing="0.3">M9 37<tspan dy="-4.3" font-size="6.6">o</tspan><tspan dy="4.3">C</tspan></text>
<text x="361.7" y="102.1" font-family="'Liberation Sans', Arial, sans-serif" font-size="10.2" font-weight="bold" font-style="normal" text-anchor="start" fill="#000" letter-spacing="0.3">M9 30<tspan dy="-4.3" font-size="6.6">o</tspan><tspan dy="4.3">C</tspan></text>
<rect x="189.8" y="35.3" width="74.7" height="38.2" fill="#efefef" stroke="#555" stroke-width="1.3"/>
<line x1="193.5" y1="40.2" x2="205.7" y2="40.2" stroke="#222" stroke-width="1.2"/>
<line x1="193.5" y1="41.4" x2="205.7" y2="41.4" stroke="#aaa" stroke-width="0.8"/>
<line x1="193.5" y1="42.9" x2="205.7" y2="42.9" stroke="#1a66bc" stroke-width="1.7"/>
<line x1="193.5" y1="44.6" x2="205.7" y2="44.6" stroke="#2c9cee" stroke-width="1.7"/>
<line x1="194.2" y1="48.4" x2="194.2" y2="50.4" stroke="#333" stroke-width="1.3"/>
<line x1="194.2" y1="51" x2="194.2" y2="55" stroke="#2a8ee6" stroke-width="1.3" stroke-dasharray="1.5,0.7"/>
<line x1="197.5" y1="48.4" x2="197.5" y2="50.4" stroke="#333" stroke-width="1.3"/>
<line x1="197.5" y1="51" x2="197.5" y2="55" stroke="#2a8ee6" stroke-width="1.3" stroke-dasharray="1.5,0.7"/>
<line x1="200.8" y1="48.4" x2="200.8" y2="50.4" stroke="#333" stroke-width="1.3"/>
<line x1="200.8" y1="51" x2="200.8" y2="55" stroke="#2a8ee6" stroke-width="1.3" stroke-dasharray="1.5,0.7"/>
<line x1="204.1" y1="48.4" x2="204.1" y2="50.4" stroke="#333" stroke-width="1.3"/>
<line x1="204.1" y1="51" x2="204.1" y2="55" stroke="#2a8ee6" stroke-width="1.3" stroke-dasharray="1.5,0.7"/>
<line x1="193.5" y1="60.3" x2="205.7" y2="60.3" stroke="#b01010" stroke-width="1.4"/>
<line x1="193.5" y1="68.4" x2="205.7" y2="68.4" stroke="#f0b090" stroke-width="1" stroke-dasharray="1.5,1"/>
<text x="211.2" y="46.7" font-family="'Liberation Sans', Arial, sans-serif" font-size="8.5" font-weight="bold" font-style="normal" text-anchor="start" fill="#000" >WT log</text>
<text x="211.2" y="54.2" font-family="'Liberation Sans', Arial, sans-serif" font-size="8.5" font-weight="bold" font-style="normal" text-anchor="start" fill="#000" >WT st</text>
<text x="211.2" y="62.6" font-family="'Liberation Sans', Arial, sans-serif" font-size="8.5" font-weight="bold" font-style="normal" text-anchor="start" fill="#000" ><tspan font-style="italic">parS1-4</tspan> log</text>
<text x="211.2" y="70.5" font-family="'Liberation Sans', Arial, sans-serif" font-size="8.5" font-weight="bold" font-style="normal" text-anchor="start" fill="#000" ><tspan font-style="italic">parS1-4</tspan> st</text>
<defs><filter id="b3" x="-5%" y="-5%" width="110%" height="110%"><feGaussianBlur stdDeviation="0.35"/></filter><filter id="b6" x="-5%" y="-5%" width="110%" height="110%"><feGaussianBlur stdDeviation="0.6"/></filter><filter id="b9" x="-5%" y="-5%" width="110%" height="110%"><feGaussianBlur stdDeviation="0.9"/></filter></defs>
<clipPath id="c1"><rect x="89" y="172" width="96.8" height="48.5"/></clipPath>
<g clip-path="url(#c1)"><rect x="89" y="172" width="96.8" height="48.5" fill="#030000"/>
<path d="M102.8,181.3Q98.4,182 94,182.3M102.7,177.9Q97.9,178.7 93,178.9M101.3,174.2Q96.6,174.9 91.9,175.2M100.3,170.8Q96.3,171.6 92.1,171.7M99.9,195.1Q96.9,199 96.3,203.9M97.5,192.3Q94,197.1 93.1,202.9M94.5,190.6Q91.3,195.1 90.4,200.6M89.5,192.7Q86.6,196.4 86,201.1M103.6,221.4Q98.5,223.9 93.9,227.3M101.7,218Q97.9,219.6 94.8,222.2M99.8,215.1Q94.9,217.4 90.5,220.6M97.7,212.1Q93,214.3 88.8,217.4M93.4,210.2Q89.4,212 85.9,214.7M116.9,188.2Q111.9,185 107.6,189.1M115.7,184.8Q110.7,181.6 106.4,185.7M112.2,181.8Q107.6,178.6 103.7,182.7M111.6,185.8Q114.3,190.7 119.3,188.2M109.3,189Q113.5,194.3 119.9,192.3M110.8,193.4Q114.2,198.4 119.7,196.1M108.5,196.3Q112.4,201.5 118.6,199.4M105.9,199.5Q108.9,204.4 114.1,202M105.3,207.6Q108.7,212 113.9,213.9M102.9,210.4Q105.7,214.4 110.3,215.9M100,212.7Q102.8,216.6 107.4,218.1M98.2,215.7Q102,220.4 107.5,222.6M96.9,219.5Q100.8,224.2 106.4,226.5M128.2,187.8Q123.9,192.8 117.8,190.4M130.1,183.7Q125.9,188.7 119.9,186.2M127.7,181Q123.6,186 117.5,183.5M129,186.8Q132.6,191.1 129.9,196.1M124.8,184.7Q128.4,189.6 125.8,195.2M121.8,187.3Q125.4,191.3 122.7,196M118.1,189.5Q121.6,193.2 118.9,197.5M128.8,205.8Q129.2,211.5 124.1,214.3M126.6,203Q127.3,208.2 122.5,210.4M123.6,201.4Q124.1,206.9 119.2,209.4M144.6,173.2Q144.4,178.3 148.1,181.9M142.4,176.3Q142.3,181.6 146,185.3M138.7,177.8Q138.8,183.6 142.8,188M135.4,177.9Q135.2,183 138.9,186.5M132.1,180.3Q132.2,186 136,190.1M143.6,205.6Q137.1,203.3 131.9,207.9M144.2,201.7Q138,199.4 133,203.9M138.5,199.4Q133.6,196.8 130.1,201M139.6,195.4Q133.7,193 129,197.5M140.8,191.2Q134.9,188.8 130.3,193.2M142.3,210Q143.6,215.8 141.7,221.5M138.2,212.2Q139.7,216.3 137.8,220.2M135,210.4Q136.4,215.3 134.5,219.9M131.1,210.8Q132.5,215.6 130.6,220.3M145.5,177.5Q151.1,178.2 156.6,179.7M148.3,181.4Q153.8,182 159.1,183.5M147.9,185.4Q152,185.8 156,186.9M145.2,188.1Q150.6,188.8 155.8,190.2M145.5,192.1Q150,192.6 154.3,193.8M149.4,188.3Q153.3,191.6 157.9,189.7M146.4,191.7Q150.9,195.1 156.2,193.3M145.3,195Q150.2,198.4 155.8,196.7M149.1,198.7Q155.2,200.5 157.8,206.4M147.5,202.1Q153.1,203.5 155.2,209M147.5,206.5Q152.7,207.5 154.3,212.6M142.4,206.8Q148.7,208.7 151.4,214.7M141.5,210.8Q146.7,211.7 148.2,216.7M161.5,167.2Q166.3,171 172.2,170M163.5,171.7Q166.9,175.1 171.5,173.7M161.6,174.6Q166.6,178.4 172.9,177.5M161.2,178.1Q165.2,181.6 170.4,180.5M158.6,181.5Q163.5,185.3 169.6,184.3M167.5,186Q169.7,190.8 171.9,195.6M164,186.6Q166.3,191.5 168.5,196.4M162.4,191.7Q164.6,196.4 166.7,201.1M165.6,211Q168.2,215.1 166.4,219.7M162.2,210.3Q164.9,215.6 163.3,221.4M158.4,210.5Q161.2,216.1 159.5,222.2M155.1,212.7Q157.8,216.7 156,221.2M181.3,177.2Q186.2,182 183.6,188.3M177.9,179.3Q182.5,183 179.7,188.3M174.6,180Q179.5,184.6 176.8,190.6M172.2,190.3Q177.3,193.8 183.4,193.2M172.8,194Q176.7,197.2 181.7,196.3M170.8,197.2Q174.6,200.3 179.4,199.5M169.8,200.7Q174.1,204 179.5,203.2M185.1,221.2Q181,225.1 176,222.3M185.8,217.4Q181,221.4 175.3,218.7M185.3,213.5Q181.1,217.5 176,214.7M185.3,209.9Q180.9,213.9 175.7,211.2" fill="none" stroke="#e01818" stroke-width="0.75" stroke-linecap="round" filter="url(#b3)"/>
<path d="M99.4,179.9h0M96.6,180.2h0M98.3,176.6h0M98.1,172.7h0M94.7,173.1h0M97.2,197h0M95.8,200.4h0M93.7,196.7h0M90.5,195.6h0M97.6,223h0M97.2,218.6h0M94,216.4h0M92.1,213.4h0M113.4,186.7h0M111.3,186.9h0M111.3,183.4h0M114.1,188.5h0M115.2,188.8h0M114.2,192.4h0M113.3,196h0M115.7,196.8h0M112.5,199.5h0M108.5,212.2h0M104.2,213.6h0M106.4,215.3h0M102.7,216.9h0M101.5,220.4h0M122.6,187.3h0M125.8,182.9h0M123.8,183.4h0M127.8,192.4h0M123.5,190h0M120.4,191.2h0M124.5,209.9h0M123.4,205.1h0M122.8,206.2h0M144.1,176.9h0M145,179h0M142,180.2h0M143.3,183.3h0M139,183.3h0M134.8,181.2h0M136,184.2h0M139.6,204.5h0M135.6,205.3h0M140.5,200.6h0M137.5,201.2h0M133.3,198.6h0M135.7,194.3h0M131.8,195.1h0M140.2,215.7h0M136.3,215h0M136.2,217h0M132.9,215.5h0M150.8,180.4h0M152.3,184h0M155.2,184.5h0M150.8,187.8h0M148.8,190.6h0M151.7,191.2h0M151.8,190.5h0M154,190.9h0M150.2,194.1h0M151.7,194.4h0M152,203.7h0M148.9,205.8h0M151.3,207.9h0M149.9,211.1h0M144.9,211.4h0M147.2,213.4h0M166.4,170.4h0M166.1,174.2h0M168.4,174.8h0M165.7,177.5h0M167.8,178h0M165.8,181.1h0M167.3,190h0M168.6,192.7h0M164,190.9h0M165.4,194h0M164.2,215.6h0M160.9,215.8h0M157,215.1h0M157.3,217.9h0M180.5,182.1h0M180.8,183.9h0M176.7,182.4h0M177.1,184.6h0M176.2,193.2h0M178.2,193.7h0M176.6,196.9h0M174.7,200.1h0M181,219.9h0M182.5,216h0M178.3,216.6h0M180.5,212.3h0" stroke="#2ad82a" stroke-width="1.8" stroke-linecap="round" filter="url(#b3)"/>
</g>
<clipPath id="c2"><rect x="128.9" y="184.5" width="18.7" height="17.7"/></clipPath><g clip-path="url(#c2)">
<rect x="128.9" y="184.5" width="18.7" height="17.7" fill="#000"/>
<g fill="none" stroke="#d81818" stroke-width="0.7" filter="url(#b3)"><rect x="-8.8" y="-1.6" width="17.7" height="3.1" rx="1.6" transform="translate(130.9,196.3) rotate(-62)"/><rect x="-10.2" y="-1.6" width="20.4" height="3.1" rx="1.6" transform="translate(136.4,194.4) rotate(-60)"/><rect x="-10.2" y="-1.6" width="20.4" height="3.1" rx="1.6" transform="translate(141.8,193.1) rotate(-58)"/><rect x="-8.8" y="-1.6" width="17.7" height="3.1" rx="1.6" transform="translate(147.3,191.7) rotate(-56)"/></g>
<path d="M129.3,199.5h0M130.9,196.3h0M132.6,193.2h0M133.9,198.6h0M135.6,195.8h0M137.2,193h0M138.8,190.1h0M139.2,197.2h0M141,194.4h0M142.7,191.7h0M144.4,188.9h0M145.3,194.7h0M147.3,191.7h0M149.2,188.8h0" stroke="#2ad82a" stroke-width="1.5" stroke-linecap="round" filter="url(#b3)"/>
</g>
<rect x="128.9" y="184.5" width="18.7" height="17.7" fill="none" stroke="#e8e8e8" stroke-width="0.9" stroke-dasharray="1,1"/>
<line x1="147.3" y1="192.5" x2="154.9" y2="202.7" stroke="#f0f0f0" stroke-width="0.9"/>
<path d="M156.8,205.3 L153.6,203.7 L156.2,201.8 Z" fill="#f0f0f0"/>
<clipPath id="c3"><rect x="157.1" y="189.4" width="27.5" height="26.9"/></clipPath>
<g clip-path="url(#c3)"><rect x="157.1" y="189.4" width="27.5" height="26.9" fill="#000"/>
<g fill="none" stroke="#e21a1a" stroke-width="0.95" filter="url(#b3)"><rect x="-13" y="-2.3" width="26" height="4.6" rx="2.3" transform="translate(160.1,207.4) rotate(-62)"/><rect x="-15" y="-2.3" width="30" height="4.6" rx="2.3" transform="translate(168.1,204.4) rotate(-60)"/><rect x="-15" y="-2.3" width="30" height="4.6" rx="2.3" transform="translate(176.1,202.4) rotate(-58)"/><rect x="-13" y="-2.3" width="26" height="4.6" rx="2.3" transform="translate(184.1,200.4) rotate(-56)"/></g>
<path d="M157.3,212.6h0M160.4,206.8h0M162.8,202.3h0M164.3,211.1h0M166.9,206.5h0M169.2,202.4h0M171.9,197.9h0M172.6,208h0M174.4,205.1h0M176.9,201.2h0M180.3,195.7h0M181.1,204.8h0M184.4,200h0M186.5,196.9h0" stroke="#2ee02e" stroke-width="2.3" stroke-linecap="round" filter="url(#b3)"/>
</g>
<rect x="157.1" y="189.4" width="27.5" height="26.9" fill="none" stroke="#ececec" stroke-width="1.3"/>
<clipPath id="c4"><rect x="89" y="221.6" width="96.8" height="47.9"/></clipPath>
<g clip-path="url(#c4)"><rect x="89" y="221.6" width="96.8" height="47.9" fill="#030000"/>
<path d="M88.9,224.3Q93.8,226.1 97.7,229.5M88,227.8Q92.3,229.3 95.7,232.3M87,231.6Q91.7,233.2 95.4,236.5M91.6,236.8Q95.1,239.7 99.6,240.8M92.1,240.9Q96.3,244.2 101.4,245.5M90.4,243.9Q93.9,246.8 98.3,247.8M89,247.4Q93.3,250.7 98.5,252.1M86.7,250.7Q90.6,253.7 95.5,255M102.7,257.6Q103.7,262.8 106.2,267.5M98.6,256.9Q99.8,262.7 102.5,268M96.2,260.2Q97.4,265.9 100.1,271.1M110.9,226.9Q114.9,228.8 118.5,231.5M108.8,229.8Q112.5,231.5 115.7,233.9M106.7,232.4Q111,234.5 114.9,237.4M106.5,236.5Q110.6,238.5 114.3,241.2M119.3,247.5Q114.5,250.2 110.3,253.8M115.3,245.6Q110.6,248.1 106.6,251.7M113.7,242.5Q109.8,244.6 106.5,247.5M112,238.9Q107.4,241.5 103.4,244.9M108.9,236.8Q104.1,239.5 99.9,243.1M112.6,260.9Q108.3,264.5 103.1,262.4M110.8,257.7Q107.1,261.3 102.4,259.1M110.2,253.9Q106.2,257.5 101.3,255.4M137.5,229.1Q132,232.6 126.5,229.1M140.4,225.7Q135.2,229.2 130,225.7M137.4,221.9Q132,225.3 126.6,221.9M133.3,238.8Q132.8,244.9 127.3,247.5M130.7,236.2Q130.4,241.9 125.2,244.1M135.3,265.2Q132.9,269.2 128.9,271.6M134.1,262.1Q131.1,266.7 126.6,269.6M131.4,259.1Q128.7,263.4 124.4,266.1M127.1,258.2Q124.6,262.2 120.5,264.7M144.4,241.3Q139.3,245.4 133.5,242.5M143.2,237.8Q139,241.8 134.1,238.8M146.2,233.6Q142.1,237.6 137.2,234.6M142.9,230.6Q139.2,234.5 134.7,231.5M142.2,226.8Q138.1,230.8 133.2,227.8M149.2,245.2Q143.9,246.4 140.3,250.5M143.7,243.9Q139.3,244.5 136.8,248.1M143.1,240.5Q138.1,241.5 134.8,245.5M143.1,235.9Q137.9,237 134.5,241.1M140.6,233.2Q135.8,234.1 132.7,238M155.2,257.1Q155,263.5 150.3,267.9M150.9,258.3Q151.1,263.9 146.8,267.5M148.7,254.1Q148.9,259.5 144.7,262.9M172,221.4Q174.1,225.4 172.6,229.8M168.3,217.8Q170.5,222.4 169,227.3M164.9,221.3Q167.1,225.9 165.6,230.8M161.1,218.7Q163.3,223.2 161.8,228M171.7,246.6Q167.2,251.1 160.9,250.9M168.7,243.9Q165.9,247.8 161.2,246.9M169.2,240.3Q165.3,244.7 159.5,244.2M169.3,235.9Q165.4,240.2 159.7,239.8M171,259.7Q166.3,259.3 162.7,262.2M169.1,256.7Q164.5,256.3 161,259.2M169,252.6Q163.3,252.5 158.7,255.8M182.5,230.6Q179.1,235.1 173.5,236M178.4,229.2Q175.5,233.3 170.5,233.9M176.3,225.9Q173.5,230.1 168.5,230.7M178.7,242.2Q175.4,247.6 178.7,253M175.1,242Q171.8,248 175.2,254M171.5,244.1Q168.1,250 171.5,255.8M187.6,264.6Q182.7,267.5 177.2,268.4M188.6,260.5Q183.5,263.4 177.6,264.5M184.8,257.4Q180.6,260 175.8,260.7" fill="none" stroke="#e01818" stroke-width="0.75" stroke-linecap="round" filter="url(#b3)"/>
<path d="M92.7,228.7h0M91.2,231.8h0M93.5,239.8h0M95.4,240.7h0M96.5,245.1h0M92.4,246.9h0M94.7,248h0M91.9,250.9h0M94.2,252h0M102.3,261.9h0M103.2,264.3h0M99,263.4h0M113.9,230.8h0M109.9,232.6h0M111.7,233.6h0M108.7,235.7h0M110.6,236.9h0M113.3,249.6h0M111.6,246h0M109.1,247.7h0M108.8,243.8h0M107,240.2h0M106.8,260h0M107.2,256.5h0M104.7,256.9h0M132.4,227.3h0M136.9,223.9h0M133.2,223.9h0M128.6,242.4h0M131,267h0M129,264.7h0M128.1,259.9h0M126.1,261.8h0M139.1,240h0M137.9,236.6h0M143.1,232.1h0M140.3,232.4h0M139,229.2h0M145,245.6h0M142.6,247.1h0M138.7,244.8h0M138.1,241.4h0M137.4,237.3h0M151.1,261.8h0M146.9,262.8h0M170.4,224.4h0M170.5,226.3h0M166.7,220.9h0M167,224.6h0M163.3,224.7h0M163.6,228.2h0M165.2,247.2h0M164.8,243.5h0M163.3,244.1h0M164.6,240.2h0M162.4,241.1h0M165.9,259.4h0M165.2,256h0M178.3,231h0M175.7,232.6h0M174.7,229.3h0M172.7,230.5h0M176.9,246.8h0M173.3,247.4h0M182.7,264.5h0M180,265.5h0M183.1,260.6h0" stroke="#2ad82a" stroke-width="1.8" stroke-linecap="round" filter="url(#b3)"/>
</g>
<clipPath id="c5"><rect x="120.5" y="243.3" width="17.6" height="18.9"/></clipPath><g clip-path="url(#c5)">
<rect x="120.5" y="243.3" width="17.6" height="18.9" fill="#000"/>
<g fill="none" stroke="#d81818" stroke-width="0.7" filter="url(#b3)"><rect x="-5" y="-1.4" width="10.1" height="2.9" rx="1.4" transform="translate(126.8,247.5) rotate(30)"/><rect x="-6.3" y="-1.4" width="12.6" height="2.9" rx="1.4" transform="translate(124.9,255.2) rotate(62)"/><rect x="-7.5" y="-1.4" width="15.1" height="2.9" rx="1.4" transform="translate(129.3,254.5) rotate(64)"/><rect x="-8.2" y="-1.4" width="16.3" height="2.9" rx="1.4" transform="translate(134.3,253.8) rotate(66)"/></g>
<path d="M125.6,246.8h0M127.9,248.2h0M124.1,253.7h0M125.7,256.6h0M128,251.7h0M129.3,254.5h0M130.6,257.2h0M133,250.8h0M134.3,253.8h0M135.7,256.7h0" stroke="#2ad82a" stroke-width="1.5" stroke-linecap="round" filter="url(#b3)"/>
</g>
<rect x="120.5" y="243.3" width="17.6" height="18.9" fill="none" stroke="#e8e8e8" stroke-width="0.9" stroke-dasharray="1,1"/>
<line x1="138.1" y1="243.8" x2="142.9" y2="239" stroke="#f0f0f0" stroke-width="0.9"/>
<path d="M145.2,236.8 L144,240.2 L141.8,237.9 Z" fill="#f0f0f0"/>
<clipPath id="c6"><rect x="146.2" y="223.2" width="28" height="27.1"/></clipPath>
<g clip-path="url(#c6)"><rect x="146.2" y="223.2" width="28" height="27.1" fill="#000"/>
<g fill="none" stroke="#e21a1a" stroke-width="0.95" filter="url(#b3)"><rect x="-8" y="-2.3" width="16" height="4.6" rx="2.3" transform="translate(156.2,229.2) rotate(30)"/><rect x="-10" y="-2.3" width="20" height="4.6" rx="2.3" transform="translate(153.2,240.2) rotate(62)"/><rect x="-12" y="-2.3" width="24" height="4.6" rx="2.3" transform="translate(160.2,239.2) rotate(64)"/><rect x="-13" y="-2.3" width="26" height="4.6" rx="2.3" transform="translate(168.2,238.2) rotate(66)"/></g>
<path d="M155.1,228.6h0M158.8,230.7h0M151.5,237.1h0M154.1,241.8h0M158.4,235.5h0M160.4,239.6h0M162.5,243.8h0M165.9,233.1h0M168.3,238.4h0M170.4,243.1h0" stroke="#2ee02e" stroke-width="2.3" stroke-linecap="round" filter="url(#b3)"/>
</g>
<rect x="146.2" y="223.2" width="28" height="27.1" fill="none" stroke="#ececec" stroke-width="1.3"/>
<clipPath id="c7"><rect x="89" y="270.6" width="96.8" height="48.2"/></clipPath>
<g clip-path="url(#c7)"><rect x="89" y="270.6" width="96.8" height="48.2" fill="#030000"/>
<path d="M94.9,300.1l1.1,2.6M174.9,274.8l-0.5,1.5M109.4,311.8l-1.6,-0.5M99.9,295.9l0.8,1.6M128.3,306.9l-2.7,-0.1M144.7,311.8l-1.7,0.9M124.2,298.9l-2.2,0.1M112.3,283.3l-1.4,1.2M186.4,314.9l-1.7,1.9M116.9,293.7l-0.5,1.6M129.4,281.8l-1,-1.3M168.9,305.1l0.4,1.6M135.9,320.6l0.3,-2.6M158.4,283.8l0.7,2.2M147.2,289.2l-0.9,2.5M93.5,291.8l1.5,0.3M152.2,314.2l-1.5,1.9M110.1,288.8l-0.6,2.3M152.1,288.4l1.2,2M155.1,285.7l0.3,2.5M172.6,296.6l2.6,1.2M105.3,287.6l-0.3,2.7M90.3,300.7l0.6,2.5M121.8,285.9l-1.1,2.2M93.7,270.1l-1.7,0.2M130.2,283.7l-2.4,1.4M115.9,306.4l-1.8,0.5M139.5,289.5l-0.6,2.3M120.1,310.1l-2.6,-0.4M177.2,304.2l1.9,1.4M174.9,317.3l-1.1,1.1M120.6,281.2l-2.2,-0.3M155.3,313.5l-2.4,1.8M165.8,297.3l1.5,0.6M92.3,317.4l0.1,2.7M162.7,310.6l0.1,1.9M111.8,291.2l-1.3,2.3M145.4,293.5l1.1,1.4M154.2,302.7l2.2,2M182.1,274.2l-0.1,1.9M148.8,304.6l-0.5,2.1M164.1,271.3l-1.9,-0.1M89.3,309.9l2.2,1M119.8,287.2l-1.6,1.3M107,274.2l-2.2,0.3M158.5,282.9l1,1.9M119.6,285.5l-1.9,1M98.1,303.6l0.7,1.8M184.3,293.8l2.7,-0.4M157.6,302.1l1.2,0.9M101.3,307.8l1.2,2.1M170,307.5l-0.1,2.9M153.3,317.5l-1.5,0.8M112.5,315.3l-1.9,-1.6M91.4,270.1l-0.6,1.9M89,282.3l0.9,2.7M160.1,311.3l-0.5,1.7M117.4,318.5l0.2,-1.8M116.5,280l-2.1,-1.2M172.8,292.8l2.6,-1.2M165.3,284.2l1.3,1.7M166.6,302.6l1.1,2.4M147.8,282.4l-1.5,1.9M158.7,280.8l1.5,0.7M132.2,299.6l-1.8,1.5M95.9,271.1l-0.9,1.4M119.1,281.3l-1.9,-0.5M170.1,317.4l-1.9,2.3M161.3,269.2l-2.2,1.2M173.5,279l-1.7,0.7M96.9,296l1.5,0.8M89.6,288.8l1.8,2.3M152.8,298.4l-0.2,2M150.6,289.6l-0.1,2.7M114.7,306.6l-2.7,0.1M173,284.4l1.5,1M183.9,299.5l0.5,2.3M117.2,295l-2,0.5M145.2,290.2l0.5,1.9M170.7,307.6l0.3,2.9M102.5,313.5l-2.6,1.1M137.6,277.9l-1.8,-0M187.7,310.5l-0,1.6M157.2,301.6l-1.2,2.5M178.5,306.8l1.4,2.5M130.3,306.6l-2.5,0.9M127.7,311.4l-2,-1.3M136,299.7l-0.8,1.3M157.7,289.3l1,1.2M133.9,302l-1.8,2M141.5,314.6l-1.8,-1.1M153.3,308.6l-1.1,1.2M147.3,286.9l-0.2,1.7M151.2,286.4l-0,3M138.1,286.8l-2,1M112.8,319.2l-0.6,-2.2M164.9,304.3l1.7,2.4M147.3,277.2l-2.2,1M92.8,290.7l1.6,1.5M171.6,308.2l1.3,2.6M165.5,300.8l1.6,-0.6M139.4,297l0.2,1.5M175.2,304.1l2.2,0.2M160.2,297.3l0.8,2.7M137.9,273.3l-1.7,-1.6M181.1,306.4l1.4,0.7M171.5,319l-0.3,2.2M140.6,271l-1.9,-2M151.8,289.5l0.3,2.8M173.6,293.4l1.6,-0.4M132.2,274.1l-1.8,-1.4M128.3,285.5l-2.2,0.8M140.9,314.6l-2.6,0.1M103.5,296.6l0,1.8M136.9,295.2l-2,0M173.1,288l1.8,-0.7M147.1,284.4l-1.5,0.2M186.2,315l0,1.7M153.5,297.7l0.1,1.5M121.8,295.1l-2.7,0.5M128,283.6l-1.7,1.2M96.7,312.4l-1.3,1.3M105.8,280l-2.2,1M144.7,280.5l-2.4,1.2M105,274.5l-1.3,-0.8M149,302.9l-0.6,1.5M184.6,275.7l0.6,1.8M165.5,305l-0,2.6M124.9,283l-1.3,0.9M96.3,282.8l-0.1,1.6M163,319.4l-0.9,1.9M175.3,306.4l1.8,1.5M151.2,316.3l-2.7,0.9M91.4,275.9l-0.3,1.8M125.6,298.7l-2.5,1.2M187.3,314.2l0,2.7M144.1,292.2l-0.8,1.6M123.4,272.2l-0.4,-2.9M129.2,273.4l-0.4,-1.6M154.7,284.6l-0.7,2.4M121.3,288.9l-2.8,0.7M155.1,307.6l0.1,2.6M143.5,285l-1.2,1.4M168.1,312.7l0.1,1.5M165.9,292.1l2,1.2M112,316.5l-0,-1.6M158.2,306.5l0.2,1.9M109.2,308.3l-1.4,1.8M89.7,304.8l1.5,1.7M155.7,300.2l2.5,0.9M114.1,280l-1.5,-0.2M155.6,309.5l-0.5,2.8M186.1,272.5l-1.2,1.2M115.5,273.3l-1.3,-0.8M101.9,297.7l-0.6,1.4M109.1,277.3l-1.6,-0.4M87,295.2l1.4,0.6M171,276.9l0.1,2.1M165,276.2l0.8,2.3M100.7,295.8l-0.5,2.7M141.4,282.8l-2,0.5M106.8,283l-2.4,-0.1M173.3,303.1l1.8,0.2M155,287.3l1,1.6M161.9,316.6l-2,1.7M141.4,272.1l-2.4,-1.2M141.8,293.8l-1.7,1.4M170.3,316l-0.8,1.5M178.6,289.2l1.7,2.1M167,276.6l-0.3,2.6M180.7,318.4l0.3,1.6M176.4,299.2l1.8,1.7M163.9,282.1l1,2.4M90.4,269.7l-2,1.4M137.2,320.4l-0.3,-1.8M167.9,318.4l-2.4,1.7M98.6,306.8l0,2.2M160.2,306.2l0.6,2.1M95.5,288.6l2.1,2M149.1,301.5l-0.7,1.3M121.5,308.9l-1.8,-0.6M101,298.7l0.5,1.9M169.9,309.4l2.5,1.3M181.6,318.7l-2.5,1.3M181.7,292.7l2.3,1M88.8,320.5l-1.7,1.8M92.1,318.9l-1.3,1.8M184.1,316.5l-0,1.7M111.3,277.8l-2.3,-0.6M152.5,308.9l-1.7,2.1M157.7,317.1l-1.7,-1.3M163.6,299.8l2,1.7M154.3,276.7l-1.8,2.1M161.7,284.4l1,1.7M120.1,274.8l-2,-0.2M130.4,313.8l-2,-1.6M101.6,280.4l-1.5,0.8M134.3,288l-1.4,2M173.3,310.2l0.8,1.5M114.3,302.6l-2.3,0.9M139.1,307.6l-1.7,-0.1M158.6,302.7l0.7,2M174,283.2l0.1,1.8M155.3,301.7l1.3,1.4M112.9,275l-2,0.4M166.4,287.7l1.5,2M120.9,300.4l-1.2,1.5M95.7,277.2l-0.2,2.4M139,271.9l-1.3,-1.1M175.9,290.5l2.1,-0.2M152,294.1l1.9,1.6M137.3,291.4l-2.4,-0.2M169.6,289l2.7,0.9M186.8,310.6l-0.2,2.4M152.8,302.4l-0.6,2M106.6,296.3l-0.4,2.9M164.8,286.6l2.3,-0.5M116.2,301l-1.6,0.7M168.2,288.6l1.7,-0.3M135.5,275.3l-0.7,-1.9M122.2,319.6l-0.5,-1.6M103.9,291.7l1.1,2.2M178.5,294.1l2.4,0.2M157.4,311.8l-1.1,1.3M95.4,274.2l-0,2M111,275.6l-2.2,-0.5M114.5,302.6l-0.5,1.7M143.8,295.5l-0.9,2.3M114.4,276.5l-2.4,-1.5M141.9,296.8l-1.9,1.3M181.3,285.8l1.3,1.5M107.4,287l-1.1,2.3M186.6,268.7l-2,1.7M116.8,284.8l-2.3,0.4M105.2,295.1l-0.7,2.7M138.7,301.8l-1.5,1.2M102.5,311.7l-1.4,1.9M165.7,306.6l0.9,1.6M178.3,289.6l2.9,0.1M142.6,297.3l-1.5,2.5M94.7,283.6l-0.3,1.5M180.1,295.2l2.7,0.6M173.6,316.6l-0.1,2.5M181.3,283.5l0.7,2.4M166.8,296.9l0.9,1.3M129.7,283.9l-2.1,-0.4M176.5,318.5l-1.3,0.8M146.1,297l1,2.3M130.5,309.8l-1.1,-2.6M135,297.2l-1.3,0.8M170,311.5l-0.4,1.7M185.1,307.2l0.7,2.7M140.9,310.2l-2.4,-0.3M173.6,286.6l1,1.1M134.7,280.4l-2.7,-0.6M129.8,286l-2,0.1M146.2,294.7l1,2.6M123.4,295.1l-0.6,2.7M162,276l0.1,2.4M113.1,301.3l-1.4,1.8M149.7,304l-0.2,1.6M152.8,314.2l-1.8,0.2M124.2,276.3l-1.2,-2.7M136,282.5l-1.8,1.4M120,288l-1.5,1M120.3,311l-2.4,0.2M173.5,309.8l0.2,2.5M124.8,292.4l-2.1,1.4M113.1,271.6l-1.6,-1.8M90.9,275l-1.9,1.7M162.3,300.3l2.5,1.3M100.7,310.2l-0.8,2.4M163.6,319.3l-1.5,1.7M107.7,291.7l-1.1,2M122.3,311.6l-2,-1.6M125.6,315.7l0.4,-2.8M95.8,283.6l2.1,1.5M154.9,306l0.4,2.2M178.1,272.7l0.2,2.3M89.6,273l-0.2,2.5" fill="none" stroke="#d81414" stroke-width="0.75" stroke-linecap="round" filter="url(#b3)"/>
<path d="M147.4,295.7h0M141.3,270h0M142,318.4h0M148.9,315.8h0M88.5,315.5h0M136.9,298h0M170.6,282.8h0M152.3,308.7h0M181.8,297.4h0M118.8,280.4h0M89.9,280.5h0M89.3,316h0M162.4,319.4h0M152.7,281.4h0M109.8,311.2h0M172.6,275.5h0M155.3,286.7h0M98.1,280.4h0M126.7,275h0M174.1,310.9h0M144.2,278.8h0M157.7,298.2h0M162.9,316.5h0M165.5,310.2h0M164.7,310.6h0M106,299.4h0M129.6,277.8h0M149.9,310.7h0M157.8,274.9h0M113.2,315.8h0M98.3,291.5h0M111.6,278.1h0M166.8,275h0M169.7,288.4h0M149.9,283.3h0M160.8,293.7h0M164.9,299.3h0M175.4,290.9h0M108.6,271.8h0M145.8,303h0M146.9,269.8h0M158.2,315.9h0M133.5,289h0M92.6,318.1h0M122.8,270.2h0M111.6,276.7h0M181.9,311.5h0M176.9,281h0M94.3,281.9h0M154.9,281.5h0M123.7,301.5h0M133.5,275.5h0M116.9,282h0M139.7,273.2h0M107.1,278.1h0M112.8,287.7h0M102.3,282.3h0M138.1,295.6h0M172.8,315.9h0M118.4,284.3h0M145.2,281.4h0M97.5,314.3h0M88.9,276.3h0M174.4,305h0M158,294h0M144.2,305h0M137.4,318.8h0M169.5,283.2h0M174.5,295.3h0M125.6,298.8h0M185.3,306.6h0M131,296h0M124,310h0M120.7,310.8h0M123.9,318.4h0M167.9,277.4h0M117.7,291.4h0M134.2,296.6h0M143.5,309.3h0M130.6,275.6h0M159.8,270.2h0M124.9,270h0M182.4,300.8h0M123.3,293.5h0M100.6,272.9h0M100.6,272.8h0M123.7,292.6h0M156.1,291.1h0M180,280.6h0M108.1,298.4h0M149.7,286.7h0M106.8,312.6h0M107.9,284.4h0M161.5,318.8h0M141.8,302.6h0M124.5,277.6h0M180.6,306.2h0M138.4,318.5h0M141.4,290h0M110.2,278.4h0M164.3,316.6h0M101.4,276.3h0M168.1,275h0M147.8,318.2h0M96.3,274.7h0M166.6,279.9h0M128.5,312h0M135,272h0M185.2,299.4h0M88.6,317.6h0M112.6,289.3h0M178,309.9h0M182.5,301.7h0M185.1,276.7h0M149.8,295.8h0M137.8,311.2h0M176.9,274.9h0M154,286.2h0M111.2,291.4h0M112.2,316.1h0M163.7,314.7h0M112.8,293.1h0M122,306.7h0M115.9,306.9h0M149.3,290.4h0M177.7,307.6h0M184.9,305.6h0M175,280.3h0M186.2,286.7h0M168.8,284h0M147.8,287.8h0M173.6,318.9h0M104.9,318.1h0M181.5,317.2h0M112.5,278.8h0M169,295.8h0M148.7,310.2h0M114.3,307.1h0M141.4,294.6h0M96,301.7h0M181.3,292h0M186,272.4h0M132.5,316.7h0M136.9,279.7h0M134.7,312.1h0M134.2,317.8h0M119.9,282.1h0M184.8,318.4h0M134.8,277.6h0M174.2,273.1h0M183.7,273.7h0M115.3,314.1h0M99.8,278.8h0M110.6,314.6h0M137.4,306h0M116.4,307.7h0M165.7,286.1h0M147.8,314h0M138.7,303.6h0M96.2,302.1h0M167.8,281.7h0M176.9,279.6h0M88.8,277.9h0M92.1,310h0M141.4,299.7h0M172.1,271.5h0M129.7,283.9h0M133.1,287.2h0M91.2,277.1h0M104,311.1h0M100.4,294.3h0M137,295.8h0M96.5,286.1h0M180.6,290.2h0M139.2,296.3h0M125,273.6h0M143.6,317h0M174.5,286h0M136.5,280.9h0M142.4,308.1h0M143.9,277.5h0M120.4,271h0M125.7,284.5h0M92.1,303.2h0M142.5,287.3h0M120.2,274.7h0M143.5,298.1h0M127.8,282.2h0M143.9,290h0M160.3,271.5h0" stroke="#22cc22" stroke-width="1.8" stroke-linecap="round" filter="url(#b3)"/>
</g>
<rect x="119.2" y="294.3" width="18.3" height="18.3" fill="none" stroke="#e8e8e8" stroke-width="0.9" stroke-dasharray="1,1"/>
<line x1="137.5" y1="304.5" x2="154" y2="298.8" stroke="#f0f0f0" stroke-width="0.9"/>
<path d="M157,297.8 L154.5,300.4 L153.5,297.3 Z" fill="#f0f0f0"/>
<clipPath id="c8"><rect x="158.2" y="283.3" width="26.4" height="27.5"/></clipPath>
<g clip-path="url(#c8)"><rect x="158.2" y="283.3" width="26.4" height="27.5" fill="#000"/>
<g fill="none" stroke="#e21a1a" stroke-width="0.95" filter="url(#b3)"><rect x="-5" y="-1.8" width="10" height="3.6" rx="1.8" transform="translate(163.2,288.3) rotate(30)"/><rect x="-5.5" y="-1.8" width="11" height="3.6" rx="1.8" transform="translate(172.2,287.3) rotate(-20)"/><rect x="-5.5" y="-1.8" width="11" height="3.6" rx="1.8" transform="translate(180.2,290.3) rotate(80)"/><rect x="-6" y="-1.8" width="12" height="3.6" rx="1.8" transform="translate(164.2,297.3) rotate(-60)"/><rect x="-5" y="-1.8" width="10" height="3.6" rx="1.8" transform="translate(172.2,298.3) rotate(10)"/><rect x="-6" y="-1.8" width="12" height="3.6" rx="1.8" transform="translate(179.2,301.3) rotate(70)"/><rect x="-5.5" y="-1.8" width="11" height="3.6" rx="1.8" transform="translate(164.2,306.3) rotate(20)"/><rect x="-5.5" y="-1.8" width="11" height="3.6" rx="1.8" transform="translate(173.2,307.3) rotate(-30)"/><rect x="-4.5" y="-1.8" width="9" height="3.6" rx="1.8" transform="translate(183.2,309.3) rotate(40)"/></g>
<path d="M162.7,288h0M170.9,287.8h0M173.3,286.9h0M180.2,290.5h0M163.5,298.5h0M164.6,296.7h0M171.2,298.1h0M178.9,300.4h0M179.6,302.4h0M163.7,306.1h0M172.8,307.5h0M174.4,306.6h0M183.7,309.7h0" stroke="#2ee02e" stroke-width="2.3" stroke-linecap="round" filter="url(#b3)"/>
</g>
<rect x="158.2" y="283.3" width="26.4" height="27.5" fill="none" stroke="#ececec" stroke-width="1.3"/>
<clipPath id="c9"><rect x="89" y="320" width="96.8" height="47.5"/></clipPath>
<g clip-path="url(#c9)"><rect x="89" y="320" width="96.8" height="47.5" fill="#030000"/>
<path d="M159,359.5l-2.5,2.1M98.9,351.7l-1.7,1.3M152.1,362.4l0.5,2.1M149.6,350.4l1.5,1.8M134,345.6l2.5,0.8M97.1,348.8l-3,0.9M170.5,331l-2.2,-0.3M186.9,328.3l-2.5,-2M91.1,352.4l-2.3,1.5M179.1,369.3l-1.7,0.8M139.7,320.1l-1,1.5M150,322.4l-1.8,-0.4M88,359.9l-2.1,1.7M159.3,350.5l-1.5,2.1M140.9,355.1l2.9,0M173.5,363.9l-2.6,-1.8M139.3,344.9l1.4,0.7M179.4,328.3l-2.4,-0.7M132.6,322.8l-0.1,3.1M148.7,333.8l-1.3,2.3M183.7,350.8l-0.7,2.8M108.3,326.4l-1.7,-1.3M104.9,322.4l-0.8,-1.8M167.5,322.3l0.2,-1.9M92.5,344.1l-1.9,0.5M106.8,343.1l-1.6,0.2M176.2,347l-1.6,3M136.8,338.3l0.4,1.9M125.3,357.8l3.3,0.4M100.4,336.3l-3,-0.5M179.2,341.6l-2.3,-0.4M90,336l-3,-1.3M90.8,327.2l-0,-2.1M156,352.8l-1.1,1.1M131.1,324.1l-1.4,1.7M168.9,360.3l-1,1.3M96.6,334.6l-2.1,-1.1M185,352.6l-1.6,3M149.3,330l-2.2,1.5M101.4,365.9l-2.1,0.3M177.1,329.3l-1.7,-2.7M170.5,356.4l-2.5,0.8M101.7,330.3l0.6,-1.7M159.1,318l-1,-1.8M147.8,327.4l-1.8,-1M87.7,354.3l-3,1.8M142,319.8l-0.7,1.9M129,356.2l2.5,1.2M170.8,366.9l-0.9,1.5M139.2,352.8l3.4,0.2M134.4,340.5l0.7,1.5M132.5,331.9l0.7,2.7M169.3,320.4l-1.6,-2.7M166,338l-1.6,-3M172.5,360.2l-0.9,1.5M90.6,318.8l-0.7,-1.4M138.4,366.7l2.9,0.9M182.2,332.2l-2.5,0.1M180.2,335l-1.8,-0.1M107.5,336.5l-1.4,0.7M175.9,336.3l-1.4,-0.6M163.8,341.2l-1.4,-1M127.1,368.8l-0,1.9M146.6,328.2l-2.9,1.3M123.7,366.9l0.2,1.5M91.5,327.4l-0.5,-2.6M142.5,355.4l3.1,1.6M119.4,330.1l-1.9,0.1M184.3,350.8l0.6,1.6M109.7,354l-0.4,2M138.8,364.6l1.6,2.5M162,360.6l-3.2,0.7M145.2,329.6l0.3,1.9M116.6,328.2l-3.1,0.9M96.8,325.8l-1.6,-1.7M162.5,354.4l-0.5,2.2M94.4,353.6l-0.3,2.9M93.3,328.1l-1.9,-0.9M160.2,333.9l-1.9,-0.7M137.1,354.5l3,1.2M97.1,346.4l-1.7,0M152.9,360.5l-0,1.6M95.5,333.8l-1.4,-1M129.5,367.2l1.1,2.4M114.9,367.4l-0.8,1.5M89.4,365.2l-2.6,-0.2M185.9,345.8l-1.3,1.8M103,322.1l-0.5,-2.8M174.8,366.1l-2,-0.1M172.1,365l-1.3,-0.8M106.2,362.7l-1.6,-0.3M147.5,357.7l1.7,2M141.8,357.9l1.9,2.9M142.4,336.6l-0.3,1.7M176.8,352.5l-2.8,-0.7M173.1,360.1l-2.1,2.1M128.9,352.9l3,0.5M147.8,337.5l0,2.4M179.6,321.4l-0,-1.7M173.2,365.4l-2.2,-0.3M122.4,352l1.9,2.7M121.4,342.1l2.1,1.9M161.8,337.7l-2.5,1.2M140.7,331l-1.9,1.1M95.6,330.6l-0.7,-2.6M143.3,361.8l1.4,2.2M121.4,335.9l-0.4,1.8M131.9,325.5l-0.9,2.1M103,349.8l-2.6,1.6M87.2,323.6l-1.3,-1.2M166,332.2l-2.6,-0.1M127.9,346.2l2.8,-0M146.9,346l-0.7,2.9M175.6,358.6l-1.9,-0.4M131.7,348.8l2.2,1.2M145.8,365.2l-1,1.9M121.2,348.6l1.1,1.6M184.9,350.9l-0.9,3M151.2,334.5l-0.7,2.6M148.2,340.1l-2.6,2.1M110,363.1l-1.3,3.2M136.3,345.4l2.2,-0.7M154.8,361.8l-1.3,2.8M90.3,351.2l-0.8,1.6M119.2,347.3l0.5,2.8M165.3,342.7l-3,-0.9M162,346.1l-1.7,2.1M115.5,325.2l-2.6,0.7M180.3,342.2l-1.8,0.4M152.3,356l-0.6,1.8M117,340.9l0.8,3.3M147.6,366l1,1.7M112.5,368l-1.3,1M112.5,339l-0.5,1.5M148,365.1l0.5,2M127.3,349.3l1.7,1.2M91.8,321.4l0.6,-1.7M128.9,356.7l2.2,-0.3M153.3,369.4l-1.1,1.4M157.6,342.6l-2.4,1M118.1,350.1l3,0.4M95.2,324.4l-1.6,-1.7M106.4,327.3l-0.6,-1.6M166.5,342.2l-2.5,-1.7M133.5,329.7l1.5,2.6M152.6,339.2l-2.8,1M102.1,341.9l-2.7,1.6M103.3,332.5l-1.4,-2.2M117,364.5l0,2.1M115,339.2l-0.7,1.3M180.8,339.8l-2.2,1.1M117.7,364.4l0.9,1.6M139.1,332.2l-0.4,3.4M118.4,354.2l1.5,2.6M179.3,341l-1,2.4M110.5,336.5l-3.2,1M118.4,349.1l1.4,2.4M165.2,368.5l-2.1,1.2M121.6,338.5l0.3,3.2M113.6,326l-2.9,0.3M119.2,357l1.4,2M158.9,346.1l-2.8,1.9M181.1,324.6l0.5,-2M128.8,346.8l1.5,-3.1M112.5,333.3l-3.4,-0M133.4,369.2l1.4,1.6M122.8,357.3l1.4,1.4M140.4,355.8l2.8,-1M184.2,357.4l0.3,2.8M170.9,340.5l-2.4,1.5" fill="none" stroke="#d01414" stroke-width="0.8" stroke-linecap="round" filter="url(#b3)"/>
<path d="M141.4,322.1h0M129.6,333.6h0M122.7,320.2h0M171.3,334.8h0M140.3,328.4h0M135.1,356.4h0M151.1,356.5h0M152.9,366.9h0M145.9,326.2h0M96.6,365.8h0M145.4,350h0M159.3,355.9h0M122.2,330.7h0M141.6,336h0M140.2,338.3h0M184.3,365.7h0M155.6,363.2h0M146.9,337.2h0M120.1,335.9h0M143.7,322h0M95.6,367.8h0M104.7,328.9h0M155.3,342.9h0M161,320.2h0M89.8,337h0M165.8,330h0M132.7,358.4h0M160.7,342.8h0M99.3,326.6h0M105.2,339.5h0M184.6,329.7h0M156.9,356.1h0M128.7,358.3h0M101.9,367.4h0M95.5,336.7h0M93,330.8h0M92.8,345.7h0M116.6,367.9h0M139.3,324.1h0M176.1,320.9h0" stroke="#22cc22" stroke-width="1.4" stroke-linecap="round" filter="url(#b3)"/>
<path d="M143.1,335.1l-0.2,1M138.8,323.7l-0.9,1.2M142.7,350.6l1.8,0.9M93.1,358.8l-1.1,0.7M133.7,321.5l-0.6,1M118.7,357.9l1,1.4M173.4,332.6l-0.6,-0.7M132.7,321.6l-0.4,0.6M127,367.9l0.9,1.9M110.1,319.5l-0.6,-0.5M97.4,365.5l-1.1,-0M113.6,363l-0.4,1.5M145.7,321.3l-0.6,0.2M111.6,334.7l-1.4,0.4M148.5,348.2l0.6,1.1M88.5,328.2l-1.4,-2.1M116.6,358.5l0.5,1.1M146.5,323.9l-1.9,0.7M124,358.5l1.9,1.1M113.5,354.3l0.5,2.4M131.8,322.4l-0.8,1.3M116.5,330.9l-2.3,1M97.8,330.4l-0.7,-1.1M111.1,327.7l-1,-0.4M137.6,353.5l2.4,0.3M129,321.8l-1.3,1.8M151.3,366.6l-1,1.9M91.6,351.6l-0.9,0.8M148.5,322.8l-0.6,0.1M137.9,342.4l1.8,1.5M111.7,347.8l-0.2,1.6M132.6,350l1.8,0.2M138.7,336.4l0.2,0.7M93.4,346.2l-1.3,0.6M127.9,356.8l1.2,0.3M120,341.8l0.6,2.3M128.8,326.3l-0.9,1.6M177.4,354l-1.1,1.3M169.1,348.1l-1.7,1M97.2,349.1l-0.8,0.6" stroke="#22cc22" stroke-width="3.0" stroke-linecap="round" filter="url(#b6)"/>
</g>
<rect x="113.7" y="348" width="18.9" height="19" fill="none" stroke="#e8e8e8" stroke-width="0.9" stroke-dasharray="1,1"/>
<line x1="126.5" y1="348" x2="119.9" y2="338.8" stroke="#f0f0f0" stroke-width="0.9"/>
<path d="M118,336.2 L121.2,337.9 L118.6,339.7 Z" fill="#f0f0f0"/>
<clipPath id="c10"><rect x="89.6" y="320.6" width="27.2" height="26.8"/></clipPath>
<g clip-path="url(#c10)"><rect x="89.6" y="320.6" width="27.2" height="26.8" fill="#000"/>
<g fill="none" stroke="#e21a1a" stroke-width="0.95" filter="url(#b3)"><rect x="-6" y="-2.5" width="12" height="5" rx="2.5" transform="translate(93.6,326.6) rotate(-80)"/><rect x="-7" y="-2.5" width="14" height="5" rx="2.5" transform="translate(100.6,328.6) rotate(-70)"/><rect x="-6" y="-2.5" width="12" height="5" rx="2.5" transform="translate(94.6,340.6) rotate(-75)"/><rect x="-6" y="-2.5" width="12" height="5" rx="2.5" transform="translate(101.6,341.6) rotate(-70)"/><rect x="-7" y="-2.5" width="14" height="5" rx="2.5" transform="translate(108.6,336.6) rotate(-65)"/><rect x="-6" y="-2.5" width="12" height="5" rx="2.5" transform="translate(114.6,342.6) rotate(-60)"/><rect x="-5" y="-2.2" width="10" height="4.5" rx="2.2" transform="translate(110.6,324.6) rotate(-50)"/></g>
<path d="M93.2,328.6l0.5,-3M99.8,330.8l1,-2.8M94.2,342.2l0.8,-2.9M100.9,343.7l1,-2.8M107.6,338.7l1.3,-2.7M113.8,344.1l1.5,-2.6M110.2,325.1l1.9,-2.3" stroke="#2ee02e" stroke-width="3.6" stroke-linecap="round" filter="url(#b6)"/>
</g>
<rect x="89.6" y="320.6" width="27.2" height="26.8" fill="none" stroke="#ececec" stroke-width="1.3"/>
<circle cx="113.3" cy="324" r="1" fill="#fff"/>
<clipPath id="c11"><rect x="187" y="172" width="96.8" height="48.5"/></clipPath>
<g clip-path="url(#c11)"><rect x="187" y="172" width="96.8" height="48.5" fill="#043005"/>
<path d="M254,183.9l-3.3,-1M209.4,220.6l0.3,-0.2M231.5,198.2l-2.9,1.6M270.8,185.4l-1.3,1.8M271.5,177.8l-0.1,2.9M266.5,220.4l0.7,0.4M261,193.9l-3.3,0.2M262.5,169.3l0.3,3.3M269.2,183.7l-2.3,2.4M200.6,220.1l1.6,-1.4M186.8,212.5l1.1,0.2M192.2,178.5l0.1,0.3M232.1,185l-3.2,0.2M223.7,175.6l-0,0M257.6,174.7l-2.7,2M261.5,199.3l-1.6,1.2M212.7,217.6l1,-0.3M198.5,199.3l2.2,2.1M282.7,189.5l0.1,0.8M232.4,174.9l-1.5,1.5M206.8,184.2l0.5,2.7M279.8,202.3l0.8,0.6M279.8,200.6l1.3,1.4M225.4,212.9l0.7,0.9M201.1,188.2l0.2,1.1M200.5,176l2.1,1.3M208.5,215.9l2,-1M269.7,205l0.1,0.2M266,170.8l0.5,1.4M269.9,197.3l-0.8,3.1M236.7,209.9l-0.4,1.3M219.2,202.7l0.5,1.6M220,211.1l1.2,0.7M279.7,196.3l0.5,1.4M280.8,197.4l0.6,1.2M246.5,196.5l-0.1,-0M208.4,184.3l0.3,2.1M231.8,191.8l-1.2,-0.1M264.6,188.6l-0.6,0.2M205.1,211.6l1,-0.4M218.8,177l0,0.1M281,171.4l0.9,0.1M208.3,182.6l0.7,2.9M190,220.4l1.6,-0.5M234.7,196.9l-3.1,0.2M201.4,194.8l0.2,0.6M257.1,181.9l-3,-0M242.5,220.3l-0.6,3.2M251.6,170.4l-0.8,1M253.9,198.3l-2.1,-0.1M198.9,175.5l1.5,0.8M256.4,170.1l-1.3,2.4M216,186.2l-0.7,1.9M246.9,179.6l-2.3,-0.3M270.3,185.8l-2.2,2.4M265.9,213.4l1.6,1.1M245,170.2l-1.2,1.2M285.7,221.1l0.1,-0.1M283.1,178.6l0.9,1.1M201.7,180l1.2,1.8M270.2,188.1l-1.8,1.9M236.8,179.3l-0.4,0M268,192.8l-2.6,2.1M214.6,174l1.8,2.5M263.3,221.4l0.8,0.8M272.8,178.8l-0.1,3M250.9,184.8l-0.5,-0.2M239.7,204.5l-1.5,1M276.8,180.1l0.3,1.3M190.3,175.3l1.8,2.2M264.9,208.2l0.6,1.3M239,179.6l-0.2,-0M260.3,178.3l-2.3,1.3M275.4,172.3l0.9,0.6M196.8,178.3l2,2.6M251.7,203.3l-1.2,0.6M248.3,196.6l-0.7,-0.3M208.7,181.3l0.4,1M235.6,201.5l-0.5,0.2M213.5,207.4l1.9,0.8M193.9,192.1l0.2,2.2M273,180.8l-0,0.5M244.6,212.8l-0,0.1M215,203.6l0.8,0.9M188.4,217.4l2.3,-0.5M208.3,174.2l0.9,0.4M245.5,206.2l-2.6,2.3M185.9,199.2l0.3,2.8M198.3,181.9l1.2,3M248.3,216.9l-0.1,0.8M272.1,216.5l1.6,-0M185.1,216.4l2.8,0.1M267.9,202.8l0.4,2.4M196.6,172.6l3.1,0.6M250.6,202l-2.3,0.5M202.8,211.5l3,-1.1M274.9,189l-0.2,0.6M244,179l-3,-0.2M285.3,190.6l0.4,2.1M279.9,197.9l1.1,2M274,195.1l-0.3,3M187.4,203.9l2,2.1M234.9,184.1l-3.1,-0.3M254.7,171.3l-0.1,0.1M270.6,170.5l1.7,1.6M228.6,216l0.3,0.4M271.5,196.7l-0.5,2.1M221.8,185.1l-1,1.1M189.3,191.5l-0.4,1.4M230.1,217.2l1.3,2.7" stroke="#083e0a" stroke-width="2.2" stroke-linecap="round" filter="url(#b9)"/>
<path d="M202.4,202.5l0.6,0.3M261.4,187.9l-0.5,0.1M237.8,197.7l-0.1,-0M240.6,209.7l-0.5,0.8M253.5,191.5l-0.6,-0.3M227.9,215.4l0.4,0.6M277.5,179.1l0.5,1.4M185,175.4l0.1,0.4M237.9,198l-1.1,-0.1M263.1,202.4l-0.1,0.1M272.7,183.1l-0.4,1.3M250.4,174.5l-0.6,0.3M278.4,198.2l0.3,0.6M281.4,218.2l0.3,-0.2M211.1,212.7l0.6,-0.1M266,170.7l0.1,0.3M219.7,207.6l1,1.1M204.8,170.5l1.2,-0.1M230.9,204.2l-0.4,0.6M209.3,193.8l0,0.3M258.2,180.9l-0.1,0M275.7,218.2l0.1,-0M259.4,193.2l-0.2,0M273.3,171.5l0.2,0.1M200.8,177.3l0.1,0.1M249.9,196.9l-0.9,-0.3M207.2,219.5l0.2,-0.2M246.2,178.4l-0,-0M248.1,171.7l-0.5,0.4M250.6,198l-1.2,-0.2M266,195.4l-0.7,0.6M259.8,191.2l-0.2,-0M268.5,210.3l1,0.8M194.9,203.5l0.5,0.3M268.4,209l0.5,0.6M185.2,206.9l0.7,0.7M283.1,202.2l0.5,0.4M282.6,221.5l0.8,-0.6M193.8,201l1,1M254.4,171.5l-0.6,0.8M189.7,212.1l1.4,-0.1M192.5,203.2l0.9,0.7M244.1,211.5l-0.4,0.9M228.6,202.1l-0.2,0.2M285.6,187.3l0.1,0.5M203.6,220.7l0.6,-0.5M202.2,204.4l1.2,0.3M243.9,214l-0,0M275.4,218.4l0.1,-0M192.7,197.2l0.2,0.8M233.1,188.7l-0.8,-0.2M252.7,202.5l-0.6,0.2M238,212.5l-0.1,0.5M263.9,170.5l0.1,0.2M278.3,205.8l1.2,0.5M230,199.1l-0.8,0.5M239.4,211.4l-0.3,0.9M221.2,194.5l-0.2,0.3M273.1,215.2l0.2,0M283.5,212.2l1.3,-0.6M236.5,211.7l-0,0.1M199.8,214.2l0.5,-0.3M267.5,189.9l-0,0M202.9,183.5l0.5,1.3M207.4,210l0.8,-0.1M264,213.3l0.7,0.8M188.1,174.1l0.7,0.9M197.3,204.6l0.9,0.3M219.1,188.7l-0.5,0.8M211.1,205l1,0.6M190.3,177.3l0.1,0.1M202.2,172.2l0.1,0M263.4,211.3l0.8,1.2M279.7,190.1l-0,0M244,220.4l-0,0.2M186,171.8l0.4,0.4M200.2,180.1l0.5,0.8M235.1,188.5l-0.4,-0.1M189.1,204.6l0.3,0.3M201.6,204.8l1.2,0.3M226.1,211.5l0.4,0.6M285.1,206.4l0.4,0M185.5,178.2l-0,1.4M210.8,209.7l1.2,0M188.5,211.3l0.3,0M188.8,195.4l-0.1,1.5M278.5,192.9l0,1.3M207.2,183.8l0.2,0.7M190.1,217.7l0.8,-0.2M186,196.9l-0.1,0.4M196.8,175.9l0.7,0.4M282.1,174.2l0.2,0.1M284.4,177.4l0.1,0M210.8,185.9l0,0.2M276.6,179.5l0.3,1.1M225.6,170.2l0.2,0.6M277.3,215.1l0.9,-0.3M271.2,188.9l-0.9,1.2M269.5,170l0.7,0.7M185.6,199.1l-0,0.5M215.8,179.9l0,0.1M255.7,213l0,0.7M197.3,198.2l0.8,1.1M195.7,206.2l0.9,0.2M212.9,173l0.3,0.2M234.6,204.8l-0.8,0.9M194.6,189.6l0,1.4M254.5,215.2l0.1,1M233,187.9l-0.3,-0.1M227.8,180.3l-0.4,0.3M197,213.4l0.5,-0.2M239.6,204.4l-0.3,0.2M186.2,195.3l-0,0.1M265.2,220.5l0.3,0.2M194.9,188l0,1.3M253.8,196.3l-0.9,-0.2M250.7,193.1l-0.4,-0.2M227.6,182.6l-0.5,0.3M282.6,214.2l0.7,-0.4M195.2,208.5l0.9,-0M190.9,199.4l0.4,0.9M258.4,216l0.1,0.4M233.5,183.1l-0.2,-0M277.7,194.8l0,0.5M187.5,194.5l-0.3,1.2M206.5,183.3l0.4,1.2M235.5,178.6l-0.2,0.1M221.3,173.2l0.2,0.7M246.9,193.3l-0.2,-0.1M243.9,216l-0.2,1.2M188.8,181.6l-0,1.1M236.5,190.2l-0.2,-0.1M281.9,181.7l0.4,1.1M283.3,204.9l0.4,0.1M250.1,204.9l-0.3,0.2M251.3,198.5l-0.8,-0.1M239.6,217.2l-0,0M242.8,218.7l-0.1,0.9M201.7,213.5l0.2,-0.1M276,192.7l-0,0.1M240.2,222.1l-0.1,0.5M243.9,173l-0.7,0.4M218.9,213.4l0.1,0M240.6,180l-1.4,-0.2M190.3,215.6l0,-0M262.8,174.5l-0.3,0.9M263.5,195l-0.9,0.4M208.6,216.6l0.7,-0.4M243.9,195l-1.1,-0.6M223.7,182.2l-0.2,0.2M207.8,218.6l0.7,-0.5M279.7,209.6l1.5,-0.1M225,218.9l0,0M256.1,200.7l-1.1,0.4M263.6,206.9l0.1,0.8M234.8,181.6l-0.7,0M219.3,195.1l-0.4,0.9M192.2,198.2l0.5,1.1M213.2,183.6l-0,0.1M270.5,171.9l0.3,0.4M262.1,205.2l-0.1,0.5M219.2,195.9l-0.1,0.1M226.1,197.5l-0.3,0.2M266.4,178.8l-0.4,0.8M217,219.6l1,-0M259.8,196.8l-0.8,0.2M191.1,175.2l0.2,0.2M235.5,207.8l-0.4,0.8M254.9,183.8l-0.6,-0.1M251.5,205.2l-1.1,0.8M266.9,194.6l-0.9,0.8M219.3,171.6l0,0M284.2,172.3l0.3,0M233.3,174.8l-1.1,1M213,214.2l1,-0.2M257.7,174.9l-1,0.9M284.7,207.6l0.6,-0M217.5,190.8l-0.6,1.2M265,180.7l-0.4,0.4M222.6,181.9l-0.4,0.6M232.7,175.4l-1.1,1M257.5,196.8l-1.1,0.1M280.9,216l0.2,-0.1M201.4,172.9l1.3,0.2M244.3,199.8l-0.2,-0M185.6,182.5l-0.3,0.7M186.1,213.2l0.9,0.2M263.8,175.4l-0.3,0.9M241.9,199.3l-0.8,-0.1M214.8,199.5l0,0.1M254.1,186.1l-0.1,-0M196.4,213.7l0.1,-0M272.8,206.3l0.7,0.6M202.3,172.6l1.4,0.2M220,189.6l-0.6,0.7M215.3,175.8l0.6,1.2M230.5,177.6l-0.5,0.4M194.1,205.4l0.7,0.3M204.3,184.7l0.3,0.9M278,199.5l0.1,0.2M204,180.7l0.5,0.9M249.5,203.6l-0.6,0.2M234.2,183l-0.7,-0M191.7,177.7l0,0.1M195.6,185.7l0.1,0.9M194.4,213.4l0.1,-0.1M185.4,201.8l0,0.1M252.4,213.8l-0.1,1.2M262.8,197l-0.1,0.1M240.1,173l-0.8,0.5M229.7,186.9l-0.6,0M211.1,208.8l0.3,0M266.4,190.7l-0.4,0.3M217.6,219.2l0.1,-0M247.4,212.2l-0.2,0.4M203.9,209.6l0.8,-0.2M216.8,214.2l0.3,0M241.1,190l-0.7,-0.5M269.7,193.7l-0.8,1.1M191.4,183.5l0,0.9M229.4,210.8l0.1,0.3M261.5,203.4l-0.4,0.9M197.1,189.7l0,0.1M234.9,216.3l0.2,1.2M220.9,216.3l0.5,0.2M207.4,201.8l0.4,0.3M214.7,216.9l0.6,-0.1M254.2,198.8l-0.4,0M198,191.8l0.1,0.8M272.7,211l0.4,0.1M253.2,175.8l-0.2,0.1M236.9,207.4l-0.7,1.1M264.8,197.7l-0.5,0.5M225.8,173.7l-0.2,1.2M285.7,188l0.1,0.3M187.6,186.5l-0.4,1M256.8,178.6l-0.8,0.3M197.6,178.3l0.4,0.4M257.1,189.6l-0.2,-0M226.4,194.8l-0.2,0.1M244.4,182.5l-1,-0.4M218.4,193.5l-0.2,0.4M215.7,171.1l0.4,0.3M264,207.5l0.1,0.7M230.1,184.8l-0.7,0.1M192.3,201.9l0.7,0.8M214.6,209.6l1.3,0.4M276.7,207.6l0.9,0.3M261.3,178.4l-0.5,0.4M229.7,176.9l-0.5,0.5M204.4,200.6l0.8,0.7M200.5,208.5l1.4,-0.2M218.4,184.4l-0.5,1.1M253.5,205.4l-0.4,0.4M244.9,209.3l-0.5,0.7M228.1,204.1l-0.2,0.6M218.7,209.7l0,0M255,174.8l-0.9,0.6M185.5,174l0.3,0.5M194.7,200.9l0.6,0.7M197.5,216.8l0.8,-0.6M236.4,173l-0.1,0.1M197.5,184.7l0.3,1.1M204.9,200.8l0.9,0.8M280.7,212.9l1.2,-0.4M236.9,201.9l-0.2,0.1M198.8,189.1l0.2,1.3M276.1,220.9l0.1,-0M273.6,182.7l-0.1,0.7M197.6,201.4l1.2,0.9M221.3,197.5l-0.3,0.7M285.3,218l0.6,-0.5M240,188.3l-0.5,-0.3M266.8,175.6l-0.1,0.7M216,213.2l0.9,0.1M271.6,190.9l-0.5,0.8M282.3,177.4l1.1,1M235.1,170.1l-0.4,0.9M262.5,177.5l-0.4,0.5M283.6,203.8l1,0.4M201.2,189.5l0.3,1.3M213.8,207.6l1.2,0.5M208.4,183.5l0.3,1.2M191.3,185.7l-0.1,1.3M269.2,173.2l0.4,1.1M274.7,190.4l-0.5,1.4M254.3,178.2l-1.1,0.2M247.8,184.7l-1.2,-0.7M205.1,192.7l0.3,1.4M200.5,184.9l0.2,0.5M262.4,218.3l0,0M232,206.1l-0.2,0.4M192,204.5l0.2,0.1M253.6,186.3l-0.3,-0.1M227.4,219.9l0.8,1M284.7,188.9l0.1,0.9M194,176.2l0.5,0.4M185.5,202.8l0.5,1.1M262.7,177.9l-0.2,0.3M222.8,170.7l0.3,0.5M233.4,175.8l-0.2,0.2M197,222.2l0.9,-0.6M215.5,174.9l0.8,1.2M225.5,198.6l-0.1,0.1M244,219.1l-0.1,0.5M210.5,205.5l0.4,0.2M255.7,187.6l-0.4,-0.1M260.1,173.8l-0.5,0.9M197.6,208.2l0,-0M220.7,216.1l0.3,0.1M218.9,188.4l-0.8,1.2M204,178.3l0,0M215,210.7l0.2,0M187.4,186.7l-0.5,1.1M280.8,202l0.2,0.1M274.8,174.3l0.1,0.1M280.4,175.9l0.3,0.2M194.8,199.7l0.1,0.2M196.7,185.8l0.2,1.1M250.6,218.6l-0.1,1.4" stroke="#0d500f" stroke-width="1.3" stroke-linecap="round" filter="url(#b3)"/>
</g>
<clipPath id="c12"><rect x="187" y="221.6" width="96.8" height="47.9"/></clipPath>
<g clip-path="url(#c12)"><rect x="187" y="221.6" width="96.8" height="47.9" fill="#042e05"/>
<path d="M189.5,239.7l-1.4,1M262.6,235.6l1.1,3.2M196.4,253.7l-0.1,-0.1M207.3,224.5l-0.3,3.4M253.6,246.8l-0.2,3M282.3,238.4l-2.6,1.5M215.7,256.3l-2.9,-0.4M224.1,252.8l-2,1.6M194.2,259.4l-0.5,-0.5M214.1,231.6l0.3,1M281.6,241.8l-2.9,0.6M198.8,232.5l-0,0M232.1,268.2l1.1,1.5M257.4,228.1l0.2,0M208.7,268.7l-2.3,0.7M279.1,260.1l-0.7,-0.6M204.5,251.5l-0.4,-0.3M233.7,247.1l0.2,0.9M283.6,221.2l-1.5,2.9M189.7,269.6l-1.3,0.5M201.2,252.9l-1.8,-1.7M225,243.1l-0,2.3M212.8,234.6l-0.4,2.4M231,262.1l-0.1,1.6M258.3,247.5l-0.3,0.8M222.3,247.9l-1.1,1.2M256.7,253.6l-1.4,2M211.2,264.7l-3.2,-0.1M221.5,265.7l-0.8,1.5M212.2,221.6l0.3,2.4M254.7,253.1l-0.7,1.3M195.4,218.9l-1.3,1.7M250.1,267.9l1.7,2.3M240.2,270.3l0,0M280.2,246.4l-1.6,-0.4M246.2,237.7l1.7,0.3M275.2,256.2l-2.8,-1.5M233.9,229.5l1.6,-0.6M259.9,235l1.4,1.7M252.7,238.5l0,0M254.9,234.4l3.1,1.6M187.2,256.5l-1.9,-0.9M275.7,263.7l-3,-0.6M259.1,252.8l-1.8,1.9M259,243.9l-0.2,1.3M203,239.6l-1.7,0.8M276.1,230.5l-0.7,3M263.4,236.7l0.5,2.3M284.9,266l-2.5,-0.9M218.9,238.8l0,1.4M214.3,242.2l-2.3,1.8M258.1,233.6l1.9,1.3M243.4,224.9l0.7,-0.4M210.8,222.5l0.1,2.4M247.6,238l3.1,1.1M225.3,229.4l1.5,0.3M226.4,228.8l1.2,0.1M255.9,251.9l-0.2,0.3M251.7,250.3l-0,0.3M215.1,256.8l-2.7,-0.4M263.7,235.5l0.8,3M238.9,253.1l0,1M217.2,226.7l0.3,0.4M255,224l2.3,0.4M226.7,235.8l1.4,0.8M271.6,251.1l-1.5,-0.2M243.9,249.4l0,0.1M209.2,265.6l-2.8,-0.2M254.3,268.4l1,2.2M250.3,264.5l0.1,0.6M229.6,259.3l-0.2,0.6M250.8,223.4l0.2,-0M221,255.9l-2.6,1M230.4,253.8l-0.5,1.3M218,228.8l0.9,1M280.7,252.5l-1.2,-1M242,249.8l0.4,2.6M237,247.2l0.4,1M260.7,266.2l-0.6,2M196,238.1l-2,1.2M203.6,265.2l-0.4,-0.1M277.8,258.8l-1.6,-1.2M241.8,265.3l0.9,1.4M277.1,270.6l-0.4,0.2M278.9,246.7l-2.9,-0.5M200.6,262.6l-1.4,-1M255.3,239.7l0.2,0.3M242,266.9l0.8,1M219.4,256.5l-1.5,0.4M186.8,240.2l-0.5,0.5M272.2,255.4l-2.1,-0.7M231.1,234l1.5,0M262.6,236l0.8,2.2M208.9,234.1l-1.5,3.1M213.7,234.1l0,1.8M265.2,267.6l-0.5,0.8M284,245.6l-0.7,-0.2M189.7,227l-0.1,1.2M224.6,250.9l-2.1,2.1M284.3,270.2l-2.5,0.5" stroke="#083e0a" stroke-width="2.2" stroke-linecap="round" filter="url(#b9)"/>
<path d="M249.7,260.5l-0.1,1.4M217.3,247.2l-0.1,0.1M257.2,269.2l0.4,1.4M238,249.7l0.2,1.2M211.3,265.4l-0.5,0.1M268.3,241.3l-0.5,0.8M277.5,223.4l-0.3,1.1M209.8,251.2l-0.5,-0.2M235.5,226.9l1,-0.4M264.6,230.7l0.6,0.8M279.6,242.2l-0.4,0.1M194.3,243.4l-1.4,0.1M281.5,240.6l-1,0.3M188.7,234.9l-0.5,1.1M274.8,253.5l-0.3,-0.2M230,230.2l0.1,-0M240.8,256.1l0,0.6M196.8,264.1l-1.1,-0.6M226.2,222.3l0.5,0.1M235.6,224.8l1.1,-0.5M185.7,268.9l-0.9,0.5M195.1,267.1l-0.5,-0.1M209,269.3l-0.1,0.1M240.7,240.2l0.6,0.2M236.6,236.5l0.5,0M264.5,228.6l0.8,0.9M227.6,264.4l-0.1,1.3M200.1,256.9l-0.1,-0.2M258.1,251.8l-0.7,0.9M186.6,227l0.1,1.2M196.7,247.5l-0.1,-0.1M198.9,270l-0.9,0.1M236.1,259.2l-0,0.2M208.5,251.1l-1.3,-0.5M238.3,269.9l0.1,0.1M246.8,249l0.1,0.8M266.4,245.1l-1.1,1M195,219.8l-0.1,0.2M232.7,251.1l-0,0.2M246.5,233.1l0.2,-0M245.1,250.7l0.1,0.7M206.3,228.2l-0.2,1.1M271.7,252.7l-1.4,-0.3M199.1,256.2l-0.8,-1M216.5,220.9l0.1,0.3M238.1,220.6l1.4,-0.3M273.3,233.3l-0.2,1.2M235.8,236.1l0.7,0M217.4,243.6l-0.6,0.7M231.6,221.5l0.3,-0M284.8,248.2l-0.6,-0.3M202,228l-0.4,1.3M248.8,247.2l0,0.1M232.6,237l0.5,0.1M186.8,247.9l-0.1,-0M226.1,250.1l-0.4,0.7M231.9,223.5l1,-0.2M189.9,237.3l-0.2,0.2M189.1,222.4l-0.2,0.8M206.5,243.8l-0.9,0.1M252.6,234.9l0.2,0M200.1,239.2l-0.3,0.2M244.8,224.2l1.2,-0.5M206.5,232.1l-0,0.1M268.3,221.1l0.2,0.7M204.9,244.3l-1,0M261.6,237.1l0.3,0.7M194.7,262.6l-0.5,-0.3M245.8,224.7l1.1,-0.5M283.6,270.4l-0.3,0.1M193.5,247.8l-0.3,-0.1M193.6,223.5l-0.4,1.2M285.6,265.9l-0,-0M256.2,244.4l0,0.2M201.2,240.5l-0.8,0.3M276.5,243.3l-0.1,0M225.4,230.2l0,0M278.6,229.1l-0.1,0.3M229.7,258.1l-0.2,0.5M280.2,261.1l-0.2,-0.2M235.9,250.4l0,0.2M259.5,257.1l-1,0.9M219.4,232.6l0.8,1M205.9,245.3l-0.5,-0M192.1,244.8l-0.8,-0M264.1,246.1l-1,1.1M238.2,258.8l0,0.1M204.9,259.5l-0.8,-0.6M185.8,222.1l-0,0.8M280.3,223.7l-0.4,1.1M275,244.7l-0.7,0.1M193.2,252.9l-1,-0.8M208.9,257.6l-0,-0M283.6,224.8l-0.1,0.2M230,242.3l0.5,0.8M216,248.5l-0.5,0.2M278.3,260.9l-0.8,-0.5M202,225.8l-0.3,1.1M263.7,225.6l0.3,0.3M253.9,244.4l0.2,1M264.7,239.2l-0.1,1.2M276.5,248.4l-0.6,-0.2M230.6,254.2l-0.5,1.4M214.4,242.4l-0.8,0.8M210.6,230.8l0,1M260.1,222.8l1.1,0.8M276.1,240.4l-1,0.6M215.8,254.6l-1.2,-0M186.1,260.1l-0.6,-0.2M268.1,226.9l0.3,0.7M231.8,237.8l0.6,0.2M192.3,265l-0.9,-0.3M246.3,240l1,0.4M257.5,268.9l0.1,0.5M244.2,259.5l0,0.7M239.1,256.6l-0,1.3M245.4,265.6l0.1,0.2M276.2,229.1l-0.1,1M264.5,245.4l-0.2,0.2M265.8,237.3l0,0.7M242,266.8l0.8,0.9M247,242.7l0.5,0.5M202.5,270.1l-0.3,0.1M200.5,226.3l-0.1,0.2M270.3,234.1l0,0M253.2,271l0,0M238,260.3l0.1,0.8M270.5,224.4l0.3,1.4M209.6,228.1l0,0.4M192.9,263.8l-0.6,-0.3M187.6,230.5l-0,0.5M277.3,246.3l-0.8,-0.1M258,249.4l-0.1,0.2M273.1,256.7l-0.2,-0.1M194.7,243.3l-1.4,0.1M237.7,241.1l0.6,0.3M190,242.9l-1.4,0.4M205.4,223.5l-0.3,1.1M271.4,222.7l0.1,0.8M186.4,256.4l-1,-0.5M233.2,236.3l1.1,0.1M229.7,247.2l-0,1.2M256,239.1l0,0M267.4,253.9l-0.4,0M271.2,222.2l0.1,0.7M242.5,221.2l1.1,-0.3M251.6,257.9l-0.4,1.4M285,249l-0.4,-0.3M243.1,241.9l0.2,0.1M231.1,245.4l0.3,1.2M232.5,224.8l0.6,-0.2M186,242.1l-0.1,0.1M196.6,270.5l-0.3,0.1M260.1,268.7l-0,0.6M214,229l0.2,0.5M276.9,265.6l-1.5,-0.2M243.6,264.6l0.3,0.6M247.9,234.9l0.5,-0M250.4,234.4l0.6,0M214.3,235.9l-0,0.3M245,259.1l0,0.4M233.3,248.5l0.1,1.2M249.6,235.2l1.3,0.1M193.8,258.3l-0.9,-0.9M276.8,251.7l-0.4,-0.3M263.1,231.4l0.6,0.7M252.6,228.9l0.7,-0.1M249.9,245.4l0,0M283,232.2l-0.6,1.1M230.3,236.2l0.1,0M264.7,219.6l0.6,1.3M270.7,261.3l-1,-0.1M186.1,254.8l-1.2,-0.5M226.6,260.9l-0.5,0.9M264.3,222.4l0.3,0.4M189,267.6l-0.4,0.1M272.9,268.5l-1.2,0.6M264.8,244.2l-0.8,1.1M283.3,259.1l-0,-0M284,234.8l-0.2,0.3M267.2,242l-0.8,1.1M204.4,269.5l-1,0.2M236.2,232.3l0.2,-0.1M267.2,260.8l-0.7,0.1M260.7,251.5l-0,0M195.9,248.7l-0.6,-0.3M186.4,259.6l-0.5,-0.2M195.1,243.4l-0.9,0M213.4,258.7l-0.8,-0.1M281.4,250.3l-0.1,-0.1M252.6,267.3l0.2,0.5M203.7,268.2l-0.2,0M191,235.9l-0.8,1M218,268.2l-0.1,0.2M255,222.3l0.9,0.2M231.9,271.1l0.7,0.5M250.8,232.1l0.5,-0.1M266.7,220.6l0.3,0.8M248,257.1l-0.1,1.4M204.6,220.7l-0.3,0.6M231.9,258.4l-0.2,1M241.1,222l0.5,-0.2M235.4,255.2l-0.1,0.6M208.4,235l-0,0.1M256.3,261.6l-0.3,0.6M241.3,221.3l0.6,-0.2M222,248.4l-0.8,0.8M197.4,232.7l-0.2,0.4M221.3,225.4l1.1,0.7M214.4,269.9l-0.8,1M220.5,235.1l0,0M247.2,233.1l0.5,-0.1M241.6,255.7l0,0.5M231.7,265.5l0.1,0.5M207.7,243.5l-1.1,0.2M250.3,233.6l0.8,-0M192.4,230.5l-0.3,0.8M243.6,269.2l1,0.7M198.8,248.9l-0.3,-0.2M220,259.3l-0.7,0.3M204,254.8l-0.6,-0.6M191.3,258.9l-0.1,-0.1M213,262l-0.6,-0M274,232.5l-0.1,0.7M195.4,227l-0.1,0.3M193.2,222.8l-0.4,1.1M231.4,266.7l0.6,1.3M243.1,231.7l0.1,-0M192.4,262.9l-0.4,-0.2M260.9,233.2l0.6,0.6M202.9,232.6l-0.4,0.9M206.6,219.3l-0.4,0.8M279.1,235.1l-0.9,1.2M277,266.6l-0.1,-0M276.3,255.1l-1.1,-0.8M196.6,241.1l-0.6,0.2M270.3,269.8l-0.4,0.4M202.3,266.6l-0.2,-0M206.4,239.7l-1.1,0.7M213,231.3l0.2,0.8M226.7,265.5l-0,0.2M279.6,265l-0.7,-0.2M223.2,257.4l-0.2,0.1M279.4,251.1l-1,-0.6M258.2,231.3l1.1,0.5M255.8,258.2l-0.4,0.7M239.1,268.7l0,0M254.6,267.3l0,0.1M278,231.9l-0.2,0.6M275.7,237.4l-0,0M233.9,244.7l0.4,0.8M255.8,219.7l1.3,0.6M190.1,240.1l-0.5,0.3M194.4,241.4l-0.5,0.1M195.8,237.7l-0.8,0.6M254.3,255l-0.6,1.2M220,227.3l0.5,0.3M241.7,247.2l0.5,1.3M238.8,242.6l1,0.8M242.5,231.2l0.1,-0" stroke="#0c4a0e" stroke-width="1.3" stroke-linecap="round" filter="url(#b3)"/>
</g>
<clipPath id="c13"><rect x="187" y="270.6" width="96.8" height="48.2"/></clipPath>
<g clip-path="url(#c13)"><rect x="187" y="270.6" width="96.8" height="48.2" fill="#043205"/>
<path d="M210.9,295.8l0.3,-0.5M225.7,309.8l1.2,-0.1M210.6,297.4l0.5,-0.9M245.1,274.7l-0.4,0.4M234.3,316.4l0.9,0.9M253.1,282.5l-0.2,1.4M208,286.3l0.2,-0.1M244,309.7l0.7,0.8M267.9,305.2l1,0.2M209.7,319.1l1.2,-0.8M258.7,320l0.3,1.3M272.8,308.1l1.2,-0M255.1,274.8l-0.8,0.9M219.9,302.5l1.2,-0.7M234.6,282.3l0.2,0.8M272.5,312.4l1.5,0.2M276.1,310.7l0.7,-0.1M203.4,317.3l0,-0M280.3,302.1l0.3,-0.2M201.7,306.1l0,-0.1M228.5,274.1l-0,0.2M210.3,302.7l0,-0M270.9,301.5l0.4,0M257.2,271.8l-0.3,0.2M235.4,312.9l0.8,0.6M188.9,318.8l0.1,-0.2M203.6,298.8l0,-0.1M226.3,279.3l0.3,0.6M220,290.6l0.5,-0.1M233.1,302.8l0.6,0.2M238.3,283.8l0.1,0.6M192.8,292.9l0.2,-0.7M200.8,285.4l0.6,-0.6M233.8,301.5l0.4,0.1M267.8,275.7l-0.2,1.4M219.1,282.6l0.5,0.2M279.8,305.2l1.2,-0.8M284.4,293.2l1,-0.6M189.4,311.2l0,-0.4M218.4,303.8l0.6,-0.5M240.6,285l0.1,0.6M277.7,270l0,0M250,272.8l-0.3,0.2M212.2,269.8l0.4,0.4M283.1,313.5l0.1,-0M284.1,316l1.2,-0.6M202.8,285.3l0.2,-0.2M259.2,306l0.3,0.3M281.3,306.9l0.9,-0.6M227.3,313.2l0.8,0.2M263.5,316.3l0.1,0.1M189.2,281.3l1.2,-0.7M217.7,288.3l0.8,-0.1M239.9,291.6l0.7,1M231.6,308.5l0.2,0.1M260.3,292.6l0.5,0.6M198.6,314.1l0.1,-0.2M262,295.8l0,0M281.4,307.7l0.1,-0.1M202.8,317.7l0.4,-0.6M242.4,290.5l0,0M192.5,282.7l0.2,-0.1M225.3,288.8l1.1,0.4M188,303.6l-0,-0.4M248.2,286.4l0,0.1M258.1,271.8l-0.9,0.8M217.4,274.2l0.6,0.7M252.8,320.1l0,0.3M194.7,317.1l0.1,-0.4M247.5,297.6l1,1.1M244.8,310.8l0.2,0.2M264.7,293.5l0.9,0.7M249.4,275.6l-0.4,0.5M246.9,278.2l-0.2,0.4M213.8,293l1.1,-0.8M279.5,302.4l0.9,-0.5M279,313.7l0.8,-0.2M188.5,286.8l0.3,-0.3M246.6,289.3l0.1,0.2M250.9,290.3l0.2,0.7M273.8,311.1l0.2,0M236.1,304.3l0.3,0.1M217.8,310.4l1.2,-0.8M256,290.2l0.4,0.9M275.5,273.3l0,0.1M245.9,317.1l0.4,1.3M207.3,287.3l0.9,-0.7M225.8,277.1l0.2,0.7M245,283l-0.1,1.1M242.9,292.4l0.2,0.3M282.6,271.5l0.2,0.4M223.3,292.8l0.4,-0M275.7,282.6l0.9,0.8M240.9,306.3l1,0.8M228.8,270.2l-0.2,0.6M186.8,269.2l0.1,0M196.9,315.2l0.3,-1.1M210.2,272.7l0,0M227.7,291.9l1.3,0.4M223.5,298l0.9,-0.2M206,281.4l0.3,-0.1M220.3,301.2l0.5,-0.3M272.2,300.5l0.3,-0M218.8,315.5l0,-0M224.5,293.1l0.2,0M262.4,317.9l0.2,0.4M222.5,281.7l0.8,0.7M185.4,293l0,-0.1M255.3,299.1l0.6,0.6M254.9,275.8l-0.8,1.1M272.7,282.1l0.5,0.7M238.7,315.8l0.5,0.8M234.5,278.3l-0,0.4M237.3,268.5l-0.4,0.4M219.3,303.2l0.8,-0.6M194,284.3l0.9,-0.9M190.4,287.7l0.1,-0.1M211.8,319.5l0.6,-0.3M275.4,271.9l0.1,0.9M238.4,280.9l-0.1,1.1M200.1,302.3l-0,-1M193.9,299.4l-0,-0.4M277.2,317l0.4,0M277.3,288.9l0.7,0.1M241.5,304.6l0.7,0.6M281.5,284.7l1.3,0.2M194.7,293l0,-0.2M203.6,317.7l0.2,-0.3M275,303.5l0.6,-0.1M236,297.1l0.4,0.2" stroke="#0b4e0e" stroke-width="2.6" stroke-linecap="round" filter="url(#b9)"/>
<path d="M220.1,304.8l0.6,-0.3M198.8,286.3l0.3,-0.4M271,273.9l-0.1,0.8M258.2,297.4l0.1,0.1M209.8,309.5l0.3,-0.6M200.6,298.8l0,-0.4M264.7,272.3l-0.2,0.2M203.5,304.6l0.1,-0.8M281.9,291.7l0.5,-0.2M278.3,318.1l0.6,0.1M205.1,296.6l0.2,-0.6M266.6,277.4l-0.1,0.7M254,282.7l-0,0.2M284.3,286.9l0.5,-0.1M207.9,268.5l0.4,0.3M253.7,282.6l-0.1,0.4M265,290.5l0.3,0.3M214.7,298.3l0.7,-0.7M209.1,293l0.1,-0.2M200.5,286.6l0.3,-0.4M243.4,299.6l0.5,0.5M201.1,276.9l0.2,-0M196.7,279.1l0.1,-0.1M266.5,293.6l0.7,0.4M261.5,295.3l0.7,0.6M236.5,284.5l0.2,0.8M215.3,290.9l0.6,-0.3M242.1,278l-0.1,0.2M280.8,303.2l0.7,-0.5M186.6,272.9l0.7,0.1M262.2,311.3l0.2,0.1M276,276.6l0.1,0.3M233.9,290.1l0.3,0.3M205.6,288.4l0.5,-0.5M284.7,282.3l0.5,0.1M192.6,308.5l-0,-0.8M223,315.4l0.3,0M222.1,304.1l0.8,-0.4M231.5,273.4l-0.2,0.9M210.6,288.4l0.5,-0.3M219.7,304.8l0.3,-0.2M210.7,291.2l0.1,-0.1M190.7,305.8l-0,-0.2M255.3,288.4l0.1,0.2M207.6,291.2l0.6,-0.7M256.1,278.1l-0.3,0.5M251.2,277.3l-0.4,0.6M227.2,319.7l0.6,0.4M206.5,273.6l0.7,0.2M241.8,289.5l0,0.1M285.5,319.3l0.2,-0.1M246.3,287.1l0.1,0.8M248.7,312.4l0.4,0.7M281.6,299.8l0.3,-0.2M242.6,270.5l-0.1,0.1M198.3,287.4l0,-0M269,285.8l0,0M202.4,312.3l0.1,-0.3M237.9,300.6l0.1,0.1M225,308.5l0.1,-0M225,304.4l0.6,-0.1M258,290.2l0.2,0.4M283.8,294.8l0.7,-0.5M269.7,308l0.4,0.1M232.6,308l0.2,0.1M244.6,294.9l0.4,0.5M276.9,302.4l0.8,-0.3M273.4,279.1l0,0.1M238.6,312.9l0.4,0.5M271.4,300.7l0.7,0M191.3,308.6l-0,-0.1M189.2,295.1l0.2,-1M282.3,269.7l0.4,0.9M206.6,269.9l0.1,0.1M285,279.1l0.9,0.3M267.6,290.9l0.2,0.2M209.7,318.8l0.3,-0.2M254.9,278.3l-0,0M232.3,295l0.2,0.1M231.4,273.4l-0.2,0.8M227.6,280.7l0.4,0.7M241.3,319.4l0.2,0.7M283.8,279.7l0.1,0M250.9,287.8l0,0.1M211.1,273.2l0.3,0.2M255.3,285.9l0,0.2M283.5,296.2l0.6,-0.5M229.9,291.5l0.2,0.1M220.4,318.6l0.5,0M197.8,304.6l-0,-0.8M205.2,276.3l0.7,0.1M216.3,313.8l0.7,-0.4M207.3,270.5l0.4,0.2M193.2,299.2l-0,-0.7M222.8,286.8l0.1,0M277,312.7l0.7,-0.1M246,314l0,0M202.5,300l0,-0.3M202.1,285l0.4,-0.3M254.9,312l0.5,0.7M284.3,306.3l0,-0M262.5,315.6l0.1,0.1M273.5,313.9l0.4,0.1M188.2,292.9l0.1,-0.4M199,316.9l0.3,-0.7M252.7,289.6l0.2,0.7M210.2,295.7l0,-0M266.7,282.5l0.1,0.3M269.9,307.6l0.5,0.1M209.1,296.3l0.1,-0.2M274.2,282.4l0.6,0.6M226.4,286.8l0.6,0.4M200.4,284.2l0.2,-0.2M284.8,291.4l0,-0M254.9,268.8l-0.2,0.1M266.8,312l0.6,0.3M213.7,270.8l0.1,0.2M195.4,274.1l0.7,-0M244.9,274.5l-0.2,0.2M248.4,310.4l0.2,0.3M199.4,275.4l0.7,-0M257.8,316l0.4,0.8M232.7,274.4l-0.1,0.4M271.6,319.5l0.3,0.3M213.7,318.8l0.5,-0.2M189.9,310.5l0,-0.1M265.2,306.7l0.8,0.3M238.8,274.7l-0,0M186.7,288.9l0.4,-0.5M238.3,276.9l-0.3,0.8M189.6,293.1l0.2,-0.8M232,281.5l0.1,0.4M246,295.5l0.3,0.4M224.6,297.9l0.6,-0.1M260.1,280.1l-0.1,0.5M220.4,280.7l0.1,0M186,273.6l0.9,0.1M281.3,300.2l0.4,-0.3M231.3,303l0.3,0.1M265.2,275.3l-0.2,0.6M231.9,303.2l0.1,0M229.6,277.4l0.1,0.6M238.6,314.9l0.4,0.5M188.4,275.9l0.7,-0.1M265.3,294.3l0.5,0.3M210.5,285.1l0.7,-0.2M189.3,287.1l0.2,-0.3M252.3,293.8l0.5,0.8M251.7,272.7l-0.7,0.5M223.8,293.6l0,-0M273.4,302.8l0.6,-0.1M196.7,295l0,-0.3M274.1,315.1l0.2,0M225.7,316.9l0.8,0.3M193.5,311.7l0,-0.4M244.7,271l-0.8,0.6M272.2,274l-0,0.4M258.6,291.2l0.5,0.8M261.9,284.6l0.2,0.9M228.5,313.2l0.9,0.2M280.7,319.7l0.9,0M208.5,314.7l0.3,-0.4M269.9,287.5l0.6,0.6M261.6,303.6l0.5,0.3M279.1,273l0.1,0.3M190.2,295.4l0,-0.2M240.9,317.4l0.2,0.5M237.7,295l0.7,0.6M279.5,285.3l0.7,0.2M208.1,278.2l0.3,0M282.7,320.5l0.2,-0M258.2,298.4l0,0M191.2,280.2l0.5,-0.2M265.5,278.7l-0,0.3M202.2,271.2l0.7,0.2M267.6,303.1l1,0.2M219.2,276.1l0.6,0.7M250.3,294.1l0.4,0.7M236.9,303.1l0.2,0.1M241.4,312.8l0.3,0.4M210.8,314.5l0.5,-0.5M237,270.8l-0.4,0.4M246.3,299l0.4,0.4M231.1,290.8l0.1,0.1M200.3,299.5l0,-0M189,302l-0,-0M237.1,311.6l0.4,0.3M189.2,318.8l0.5,-0.8M213.7,293.8l0.6,-0.5M248.5,275.1l-0.4,0.5" stroke="#1a861c" stroke-width="2.0" stroke-linecap="round" filter="url(#b9)"/>
<path d="M192,308.9l-0,-0.4M227,286.9l0,0M216.5,281.3l0.5,0.2M225.2,270.4l-0,0.7M280.5,319.9l0,0M202.8,295.7l0,-0.1M196.7,297l0,-0.1M277.9,269.4l0,0.3M259.8,302.4l0.3,0.2M198.5,272.5l0.1,0M234.2,301.1l0,0M284.5,307l0.4,-0.5M263.7,271l-0,0M188.9,292.1l0,-0.1M217.2,300l0.3,-0.3M258.1,274.1l-0.4,0.5M252.1,292.6l0,0.1M259.4,296.8l0.3,0.3M276.7,296.2l0.5,-0.1M250.7,279.6l-0.1,0.2M199.3,293l0.2,-0.6M222.2,279.2l0.4,0.5M257.8,307.6l0.1,0.1M190,302.9l-0,-0.7M238.6,291.4l0,0M282.1,314l0.1,-0M191.1,272.8l0,0M261.5,283.1l0,0.1M231.3,295.5l0,0M234,269.7l-0.1,0.1M207.7,275.9l0.7,0.1M247.1,310l0.4,0.5M257.8,301.1l0.5,0.4M267.8,282.9l0.1,0.2M256,313.6l0.1,0.1M243,313.2l0.4,0.6M232.6,279.4l0,0.3M190.7,288.6l0.1,-0.1M195.9,306l-0,-0.2M269.4,310l0.3,0.1M190.5,292.2l0,-0M244.7,275.5l-0.3,0.4M225.6,313.7l0,0M196.9,278.4l0.6,-0.2M214,293.5l0.4,-0.4M219.1,299.5l0.5,-0.3M220.5,297.2l0.1,-0M274.2,317l0.6,0.2M270.5,279l0,0.2M234.6,276.1l-0,0.1M261.4,297.7l0.6,0.4M261.6,272.9l-0.3,0.4M258.5,289.3l0.1,0.3M193.2,296.2l0,-0.1M241.8,317.9l0.2,0.4M260.3,292.9l0.3,0.4M258.2,280.3l-0.2,0.6M185.4,294l0,-0.1M187.8,287l0.5,-0.6M207.4,269.7l0.2,0.1" stroke="#22a024" stroke-width="1.8" stroke-linecap="round" filter="url(#b9)"/>
</g>
<clipPath id="c14"><rect x="187" y="320" width="96.8" height="47.5"/></clipPath>
<g clip-path="url(#c14)"><rect x="187" y="320" width="96.8" height="47.5" fill="#042c05"/>
<path d="M252.7,334.3l-0.6,-1M208.2,356.9l0,0.1M214.1,365.8l0.1,0.1M224.6,327.4l-0.6,0.5M242.1,366.2l-0.3,1.9M215.8,357.1l0.8,0.5M195.3,332.1l-0.3,-0.6M224.6,368.7l0.8,1.4M194.9,347.8l-0.6,0.1M211.2,362.9l0.1,0.1M259.1,363.7l-0,0M214.6,358.7l0.1,0.1M222.5,329.6l-1.4,1M267,357.3l-0.5,0.2M196.5,364.4l-0.3,0.3M207.6,322.1l-1.6,0.1M230,327.1l-0,0M231.2,320.1l-0,0M232.9,346.5l0.2,1.1M277.6,320.3l-0.1,-0.1M195,349.3l-1.2,0.5M207.9,347.5l-0,0.1M198,332.3l-0.2,-0.2M212.4,333.1l-0.8,0.3M272.3,356.7l-1.5,0.6M200.9,358.5l-0.1,0.7M277.3,349.7l-1.3,0.3M244.4,319.1l-0.6,0M203.4,332l-1.3,-0.7M225.7,324.4l-1.2,1.1M214.1,323.4l-0.7,0.4M220.5,345.3l0.4,1.2M264.5,348.4l-0.9,-0.2M215.1,352l1,1.1M276.4,351.6l-1.7,0.5M187.4,334.8l-0,-0.6M252.1,360.9l-0.8,1M211.5,348.4l0.1,0.4M239.6,319.4l-1.5,0.7M282.1,328.4l-0.6,-1.2M191.2,324.1l-0.3,-1.2M191.9,339.6l-0.6,-0.7M264.9,364.7l-0.9,0.1M188.4,335l-0,-0.3M236.9,334.6l-0.6,0.2M236.7,338.5l-0.2,0.1M273,336.5l-0.1,-0.3M227.3,358.2l0.6,0.3M190.9,349.7l-1.6,0.2M248.4,340.6l-0.4,-0.1M191.6,350l-0.3,0.1M280.2,336.6l-0.6,-0.8M200.6,346l-0.8,0.5M261.6,368.2l-0.3,-0M272.9,330.1l0.1,-1M274.4,337.9l-0.2,-0.6M229.7,335.8l-0.5,0.5M229.8,348l0.6,1.1M194.6,327l-0.2,-0.6M219.1,339.4l-0.4,1M285.7,359.9l-0.5,1.7M218.9,336.8l-0.9,1.2M193.5,365.8l-1,0.5M218.6,360.5l1.4,0.8M248.3,360.2l-0.3,0.7M205.6,327.6l-1.9,-0.7M224.6,368.3l1,1.5M286.1,337.8l-1.6,-0.7M232,338.9l-0.6,0.9M265.9,326l0,-0.2M250.7,364.4l-1.2,1.4M253.9,324l-0.5,-1M202.2,319.4l-1.1,-0.2M214,335.2l-0.3,0.2M247.9,334l-0.7,-0.6M206.3,327.8l-1,-0.3M262.5,364.6l-1.4,0.2M192.2,358.3l-1.2,0.9M249.2,334.7l-1.1,-1M232.9,345.7l0,0.1M271.5,326l0.1,-0.6M274.4,364.9l-1.7,0.4M269.4,368l-0.1,-0M219.1,326l-0.1,0M284.4,348.5l-1,0.8M188.5,343l-0.6,-0.5M284.9,339.4l-0.4,-0.1M253.6,341l-0.5,-0.3M251.6,350l-1,0.7M261.4,355.7l-1.6,0.6M267.6,321.7l-0,-0.1M212.9,346l-0,0M189.3,330.5l0,-1.9M258.4,345.4l-0.1,-0.1M242.1,368.7l-0.1,0.2M243.2,325.3l-1.5,-0.4M205.6,319.3l-0.5,0.1M247.1,326.9l-0.9,-0.8M272.3,319.9l-0.7,-1.7M254.1,360.5l-0.9,0.9" stroke="#083e09" stroke-width="2.8" stroke-linecap="round" filter="url(#b9)"/>
<path d="M235.6,342.3l-0.3,0.5M222.5,332.9l-0.1,0.1M199.4,347l-1.6,0.9M271.2,323.8l0,-0.1M190.3,363.1l-0.9,0.4M212.7,361.6l1,1.1M261.4,368.8l-0.9,-0.2M247.3,318.7l-0.8,-0.1M193.2,320.9l-1.2,-1.6M245.2,356.9l-0.1,1.2M276.3,339.8l-0.8,-1.1M281.7,348.6l-0.8,0.4M212.7,341.1l-0.5,0.9M246.9,319.7l-1.2,-0.2M216.1,349.1l0.4,0.7M246.9,338.7l-1.8,-0.3M212,355l0.4,0.5M257.9,323.5l-0.4,-1.5M240.8,346l-0.6,1.7M231.4,359.5l0.2,0.1M258.5,366.5l-0.5,0.1M200,348l-0.6,0.5M209.9,355.7l0.5,0.7M217.1,358.3l1.2,0.7M233.5,328.2l-0.4,0.1M200.9,362l-0.1,0.4M240.7,359l0.5,1.7M230.5,319.5l-1,1.3M195.5,358.8l-0.1,0.1M279.4,361.3l-0.6,0.6M265.2,355.6l-0.2,0M263.4,348.1l-0.7,-0.2M272.4,356.1l-0.1,0M280.7,329.5l-0.7,-1.8M225.9,356.8l0.5,0.2M199.8,361.5l-0.8,1.8M241.9,326.6l-1.5,-0.3M209.4,355.7l0.8,1.4M238.9,351.7l0.1,0.2M285.4,334.1l-0.4,-0.3M228.5,355.8l1.3,0.8M265,335.4l0,-1.2M262.8,358.3l-1.2,0.4M198.9,319.1l-0.3,-0.1M251.5,327.7l-0,-0.1M210.9,367.8l0.2,1.1M250.2,330.7l-0.3,-0.5M193.9,355.2l-0.9,0.8M283.7,331.2l-0.2,-0.3M192.9,339.4l-0.6,-0.7M205,360.3l0.1,0.5M201.1,323.9l-0.4,-0.2M236.3,319.4l-0.7,0.5M281.3,323.4l-1,-1.4M238.3,368.9l-0,0.4M197.9,341l-1.2,-0.4M254.5,327.7l-0.4,-1.5M239,338.4l-1.7,1M244.6,364.2l-0.2,0.7M200.2,334.2l-0.6,-0.5" stroke="#147016" stroke-width="2.4" stroke-linecap="round" filter="url(#b9)"/>
<path d="M245.6,352.9l-0.4,1.7M225.9,361.4l0.2,0.1M214.6,326.6l-0.6,0.2M213.8,339.3l-0.9,1.2M189.5,358.4l-0.4,0.2M260.3,357.9l-1.6,0.8M247.4,362.8l-0.1,0.3M250.2,326.9l-1.2,-1.6M199.6,340.1l-0.5,-0.1M256.3,367.2l-2.2,0.5M206.1,336.8l-2.4,-0M258.9,362.9l-1,0.4M241.8,347.5l-0.6,2.1M205,364.6l-0.1,1.4M222.1,364.9l1.5,1.2M239.7,337.2l-1.6,0.6M211.7,354.2l1.4,1.7M200.2,339.1l-1.7,-0.6M242.5,324.7l-2.5,-0.3M203.7,322.8l-0.4,-0.1M199.6,349.7l-0.9,1M243.6,329l-1.4,-0.5M203.1,333.9l-1.5,-0.7M232.4,330.3l-1,0.5M185.1,364.4l-0.1,0M249.4,327.3l-1.4,-1.6M232.4,320l-0.6,0.7M234.4,339.5l-0,0M195.9,318.7l-1.9,-1.2M224.6,363.5l0.7,0.5" stroke="#26a428" stroke-width="2.4" stroke-linecap="round" filter="url(#b9)"/>
</g>
<clipPath id="c15"><rect x="285" y="172" width="97.6" height="48.5"/></clipPath>
<g clip-path="url(#c15)"><rect x="285" y="172" width="97.6" height="48.5" fill="#3480bc"/>
<path d="M324.9,218.6l-4.5,4.7M352.5,176.7l-2.3,5.1M378.1,208.3l3.3,-5M354.7,197.6l-5.2,0.2M281.1,206.6l4.2,-3.3M315.9,205.5l-6.3,-0.2M299.7,199.7l-2.6,-4.3M300.4,197.5l-2.6,-6.1M323.8,180.5l-3.1,6.1M344.8,209l-2.4,6.2M347.9,209.3l-3.6,1.8M316.8,196.9l-5.6,-0.5M337,216l-3,5.6M323.2,205.5l-4.9,3.6M358.2,168.9l0.5,5.9M356.2,220.4l-4.8,3.8M301.3,202.4l-1.5,-4.2M287.4,202.9l-0.4,-4.3M347,203.9l-6.4,1.9M346.5,217.8l-1.5,3.9M301.8,169.9l-2.1,4.2M369,218.6l-4.5,-2.5M351.7,204.5l-4.4,1.2M287.8,171.6l-6.6,2M358.9,215.8l-6.5,1.2M334.9,210l-4.4,2.9M351,167.7l2.3,5M384,225.1l-2.4,-4.1M285.7,214.8l3.3,-3M310.8,218.9l-6.1,-0.1M302.3,167.3l-2.7,3.6M382,197.7l-1.4,-5.5M360.9,184.9l-2.5,4.7M311.6,220.3l-5.2,2.5M281.5,215l1.4,-4.1M313.9,214.6l-5.7,-2.9M303.1,190.3l-4.5,-0.9M315,177.5l2.4,3.8M373.3,207.5l0.6,-4.4M318.6,219.9l-3.4,3.1M292.3,215.8l-0.9,-6.1M304.1,220.6l-4,-4.8M379.6,192.3l-3,-3.4M381.1,175.1l-4.7,-0.5M304.7,176.5l-3.9,2.8M335.9,211.3l-3.2,6M377.2,194.4l1.8,-4.9M384,186.3l-5.7,-2.9M305.1,209.6l-6.5,-2.5M318.6,212.7l-4.3,-2.4M360.6,219.7l-5.6,-1.4M339.6,206l-3.3,6.1M335.1,205.6l-5.3,2.1M361.8,189.4l-4.8,2.3M371.4,207.2l-0.4,-4.4M340.5,185.9l-1.8,5.2M360.2,197.3l-5.5,-2.9M300.5,222l-4.6,-2.6M335.3,196.1l-4.6,4.5M322.7,219l-1,4.8M315.2,217l-5.3,4.1M294.8,167.5l-5.5,3.6M319.6,195.9l-4.1,3.9M356.3,176.6l-0.4,4.8M361.7,179.2l-4.8,3.7M309.9,187.3l-6.5,-0.9M330.7,197.2l-3.3,3.7M305.9,205.8l-2.6,-3.5M358.6,198.7l-5.9,-0.9M360.8,175.4l-3.7,4.3M322,219.3l-2.4,4.8M311.7,205.6l-6.1,-1.3M336.4,187.8l-1.2,5.5M299,204.4l1.6,-6.7M316.6,199.7l-4.7,0.4M338.2,176l2.9,4.6M365,221.8l-4.6,-0.4M331.9,195.9l-3.8,2.4M384.2,177.7l-3.8,-1.5M377.6,178.7l-4.4,-2.6M320.4,209.6l-4.8,0.7M316,216l-6.2,0.9M326,188.3l-5.3,3.4M303.4,202.5l-3.9,-4.1M337,178.3l4.6,4.8M362.4,204.9l-4,-2.2M317.3,185.8l-4.9,3.2M315.1,211.9l-5.8,0.3M291.4,210.2l-3.3,-4.5M326.1,212.2l-3.6,5.2" stroke="#62aade" stroke-width="2.5" stroke-linecap="round" fill="none" filter="url(#b6)" opacity="0.7" transform="translate(0.5,0.6)"/>
<path d="M324.9,218.6l-4.5,4.7M352.5,176.7l-2.3,5.1M378.1,208.3l3.3,-5M354.7,197.6l-5.2,0.2M281.1,206.6l4.2,-3.3M315.9,205.5l-6.3,-0.2M299.7,199.7l-2.6,-4.3M300.4,197.5l-2.6,-6.1M323.8,180.5l-3.1,6.1M344.8,209l-2.4,6.2M347.9,209.3l-3.6,1.8M316.8,196.9l-5.6,-0.5M337,216l-3,5.6M323.2,205.5l-4.9,3.6M358.2,168.9l0.5,5.9M356.2,220.4l-4.8,3.8M301.3,202.4l-1.5,-4.2M287.4,202.9l-0.4,-4.3M347,203.9l-6.4,1.9M346.5,217.8l-1.5,3.9M301.8,169.9l-2.1,4.2M369,218.6l-4.5,-2.5M351.7,204.5l-4.4,1.2M287.8,171.6l-6.6,2M358.9,215.8l-6.5,1.2M334.9,210l-4.4,2.9M351,167.7l2.3,5M384,225.1l-2.4,-4.1M285.7,214.8l3.3,-3M310.8,218.9l-6.1,-0.1M302.3,167.3l-2.7,3.6M382,197.7l-1.4,-5.5M360.9,184.9l-2.5,4.7M311.6,220.3l-5.2,2.5M281.5,215l1.4,-4.1M313.9,214.6l-5.7,-2.9M303.1,190.3l-4.5,-0.9M315,177.5l2.4,3.8M373.3,207.5l0.6,-4.4M318.6,219.9l-3.4,3.1M292.3,215.8l-0.9,-6.1M304.1,220.6l-4,-4.8M379.6,192.3l-3,-3.4M381.1,175.1l-4.7,-0.5M304.7,176.5l-3.9,2.8M335.9,211.3l-3.2,6M377.2,194.4l1.8,-4.9M384,186.3l-5.7,-2.9M305.1,209.6l-6.5,-2.5M318.6,212.7l-4.3,-2.4M360.6,219.7l-5.6,-1.4M339.6,206l-3.3,6.1M335.1,205.6l-5.3,2.1M361.8,189.4l-4.8,2.3M371.4,207.2l-0.4,-4.4M340.5,185.9l-1.8,5.2M360.2,197.3l-5.5,-2.9M300.5,222l-4.6,-2.6M335.3,196.1l-4.6,4.5M322.7,219l-1,4.8M315.2,217l-5.3,4.1M294.8,167.5l-5.5,3.6M319.6,195.9l-4.1,3.9M356.3,176.6l-0.4,4.8M361.7,179.2l-4.8,3.7M309.9,187.3l-6.5,-0.9M330.7,197.2l-3.3,3.7M305.9,205.8l-2.6,-3.5M358.6,198.7l-5.9,-0.9M360.8,175.4l-3.7,4.3M322,219.3l-2.4,4.8M311.7,205.6l-6.1,-1.3M336.4,187.8l-1.2,5.5M299,204.4l1.6,-6.7M316.6,199.7l-4.7,0.4M338.2,176l2.9,4.6M365,221.8l-4.6,-0.4M331.9,195.9l-3.8,2.4M384.2,177.7l-3.8,-1.5M377.6,178.7l-4.4,-2.6M320.4,209.6l-4.8,0.7M316,216l-6.2,0.9M326,188.3l-5.3,3.4M303.4,202.5l-3.9,-4.1M337,178.3l4.6,4.8M362.4,204.9l-4,-2.2M317.3,185.8l-4.9,3.2M315.1,211.9l-5.8,0.3M291.4,210.2l-3.3,-4.5M326.1,212.2l-3.6,5.2" stroke="#1e5488" stroke-width="1.3" stroke-linecap="round" fill="none" filter="url(#b3)"/>
</g>
<clipPath id="c16"><rect x="285" y="221.6" width="97.6" height="47.9"/></clipPath>
<g clip-path="url(#c16)"><rect x="285" y="221.6" width="97.6" height="47.9" fill="#3a7aa8"/>
<path d="M321.8,241.9l5.2,-2.8M300.8,258l-2.1,4.1M344.7,242.8l3.7,3M352.2,242.8l2.7,4M370.3,260.2l-5.9,0.1M310.5,231.2l3.6,3.3M322.4,265.3l-3,5.4M339.3,232.1l2.4,3.4M353,235.6l0,5.6M353.8,259.9l-5.9,1.3M323.3,248.5l5.1,1.3M303.4,242.1l5.3,2.2M306.2,220.6l-6.2,1.5M319.4,235.2l5,2M370.3,265.7l-3.4,-3.2M295.2,222.7l-6.1,0.3M323.3,259.1l1.2,4.5M369.8,248.8l-2.9,4.5M299.5,221.7l-6,-0.1M348.9,245.7l0.7,5.2M340.3,241.9l5,2.3M354,236.9l1.9,4.6M338.7,216l-2.2,5.8M302.5,256.4l-3.7,4.2M299.4,229.9l-2,3.9M320,239.9l6.1,-0.6M327.9,253l4.1,2.4M300.4,267.4l-6.4,-0.4M333.7,262l3.9,4M290.6,226.5l-5.6,2.9M373,220.3l-5.8,-0.4M364.8,250.4l-4.6,4.2M343,250.9l0.4,4.7M315.6,249.4l5.7,1.7M301,227.9l-0.4,5.7M338.9,225.7l-0.9,5.9M365.4,271.7l-4.9,-3.5M300.5,229.8l-2,3.7M355,237.9l-2.1,4.1M304.9,248.3l1.2,6.4M316.6,225.9l5.5,1.8M385.7,243.9l-0.4,4.3M365.9,273.2l-3.8,-2.9M356.9,260.8l-5.3,1.5M294.1,250.7l-4.6,3.2M358.8,233.5l-4,4.9M361.9,246.2l-0.9,3.9M375.8,229.9l-3.9,2.2M293.8,232.8l-0.3,4.7M312.4,250.8l4,3.8M377.3,255.7l-5.7,3M326.8,264.4l0.2,6.5M319.5,245.3l4.8,-1.5M318,245.8l5.8,-1.9M364.6,249.8l-2.5,4.1M363.8,247.5l-5.6,0.7M311.2,234.1l3.9,1.8M326.5,249.7l5.3,1.4M337.8,243.6l4.7,3.4M318.2,220.2l2.7,4.3" stroke="#6ca8d2" stroke-width="2.5" stroke-linecap="round" fill="none" filter="url(#b6)" opacity="0.7" transform="translate(0.5,0.6)"/>
<path d="M321.8,241.9l5.2,-2.8M300.8,258l-2.1,4.1M344.7,242.8l3.7,3M352.2,242.8l2.7,4M370.3,260.2l-5.9,0.1M310.5,231.2l3.6,3.3M322.4,265.3l-3,5.4M339.3,232.1l2.4,3.4M353,235.6l0,5.6M353.8,259.9l-5.9,1.3M323.3,248.5l5.1,1.3M303.4,242.1l5.3,2.2M306.2,220.6l-6.2,1.5M319.4,235.2l5,2M370.3,265.7l-3.4,-3.2M295.2,222.7l-6.1,0.3M323.3,259.1l1.2,4.5M369.8,248.8l-2.9,4.5M299.5,221.7l-6,-0.1M348.9,245.7l0.7,5.2M340.3,241.9l5,2.3M354,236.9l1.9,4.6M338.7,216l-2.2,5.8M302.5,256.4l-3.7,4.2M299.4,229.9l-2,3.9M320,239.9l6.1,-0.6M327.9,253l4.1,2.4M300.4,267.4l-6.4,-0.4M333.7,262l3.9,4M290.6,226.5l-5.6,2.9M373,220.3l-5.8,-0.4M364.8,250.4l-4.6,4.2M343,250.9l0.4,4.7M315.6,249.4l5.7,1.7M301,227.9l-0.4,5.7M338.9,225.7l-0.9,5.9M365.4,271.7l-4.9,-3.5M300.5,229.8l-2,3.7M355,237.9l-2.1,4.1M304.9,248.3l1.2,6.4M316.6,225.9l5.5,1.8M385.7,243.9l-0.4,4.3M365.9,273.2l-3.8,-2.9M356.9,260.8l-5.3,1.5M294.1,250.7l-4.6,3.2M358.8,233.5l-4,4.9M361.9,246.2l-0.9,3.9M375.8,229.9l-3.9,2.2M293.8,232.8l-0.3,4.7M312.4,250.8l4,3.8M377.3,255.7l-5.7,3M326.8,264.4l0.2,6.5M319.5,245.3l4.8,-1.5M318,245.8l5.8,-1.9M364.6,249.8l-2.5,4.1M363.8,247.5l-5.6,0.7M311.2,234.1l3.9,1.8M326.5,249.7l5.3,1.4M337.8,243.6l4.7,3.4M318.2,220.2l2.7,4.3" stroke="#1a4870" stroke-width="1.3" stroke-linecap="round" fill="none" filter="url(#b3)"/>
</g>
<clipPath id="c17"><rect x="285" y="270.6" width="97.6" height="48.2"/></clipPath>
<g clip-path="url(#c17)"><rect x="285" y="270.6" width="97.6" height="48.2" fill="#3272a4"/>
<path d="M358.4,292.9l-1,1.1M369.8,307l-0.8,1.9M373.8,288.9l1.8,0.5M350.6,314.8l-1.9,0.9M375.6,275l2.3,1.3M382.6,298.5l-0.4,1.4M364.6,306.2l-0.1,2.4M361.9,319.9l-2.6,0.4M358.5,267l1.6,1.6M356.6,282.9l1.8,1M319.6,287.5l-2.5,-0.2M381.9,274.1l1.6,-0.2M335.9,314.6l-2.1,-1.2M340.8,297.4l-1.9,-0.8M354.2,292.6l-0.9,2.3M358.6,272.9l1.6,0.7M299.3,271.1l0.3,1.4M358.5,305.6l-0.5,2.1M336.5,306.4l-2,-1.1M379.5,301.9l-0.3,1.5M320.8,285.3l-1.3,0.7M297.1,294.3l-1.8,1.4M288.5,275.4l1.7,1M321.1,300.7l-0.8,-1.4M346.7,272.3l-0.9,1.8M372,281.2l1.5,0.8M377.9,282.3l2,0.5M344.6,276.5l-0.1,1.7M321.8,306l-0.4,-1.6M305.2,318.2l-1.2,-1M285.8,281l1.1,2.3M373.3,312.5l-0.5,1.8M322.1,315.4l-0.7,-2.4M359.3,316.4l-2.6,-0.2M323.1,288.1l-2.1,1.1M332.4,310.7l-1.1,-2M314.1,319l-2.4,-1.1M351.7,288.1l-0.9,2.1M304.7,272.4l-1.3,1.3M334.7,295.2l-2.4,-0.7M327.9,321l-0.5,-2.4M366.6,276.9l1.4,-0M380.9,300.1l0.5,1.6M370.9,311.6l-1.5,1.7M290,267.4l0.4,2.2M301.9,289.8l-0.6,2.4M346.5,315.2l-2.1,-1.3M305.6,297l-1.4,0.7M283.1,298.9l-0.6,2.2M366.5,299.2l-0.1,2.5M372.6,297.8l0.6,1.7M296.8,311.1l-1.7,0.6M349.2,300.6l-1.7,1.3M299.9,266.6l-0.8,2.2M297.2,282.4l0.6,1.6M368.2,290.8l1.9,1.5M333.5,285.4l-0.6,1.9M371.2,317.9l-0.9,1.6M324.4,309.4l-1,-1.5M304.7,294l-1.5,1M356.4,296.2l-1.5,1.9M336.7,317l0.2,-2M376.5,271l1.6,1.3M283.5,321.2l-2,1.2M377.2,292.8l1.8,1.4M301.9,299.2l-1.9,1.3M309.1,310.8l-1.1,-1M365.9,291.3l1.4,1M305.2,300.6l-1.6,-0.8M329.4,293.6l-1.7,-0.1M327.3,279.8l-1.6,0.2M335.5,321.8l-1.5,-2M337.1,289.4l-1.8,1M282.1,282.5l2.3,0.9M357.9,272.6l1.2,0.9M376.5,281.8l2.5,-0.6M348.4,316.6l-1.6,-0.7M355.1,267.6l-1.1,1.6M380.5,306.1l-0.3,1.6M367.1,292.1l0.8,1.1M382.1,314.3l-1.8,1.7M281.5,293.6l1.4,1.2M350.6,313.7l-1.8,-0.5M348.4,272.5l-0,1.4M345.8,268.7l0.7,2.1M314.5,285.1l-1.4,0.9M290.1,287l1.7,1.9M346.6,273.5l0,2.4M368.3,290.4l1.2,0.8M311.1,311.9l-1.8,-0.1M306.9,274.3l-1.3,1M356.4,278.2l0.5,1.9M321.9,290.4l-2.3,0.1M320.3,270.9l-2.2,1.3M307.5,318.2l-1.8,-1.2M351,286.6l-0.3,1.6M288.1,274.3l1.1,1.1M363,289.1l1.3,0.8M317.6,279.5l-2.1,0.8M309.6,289.2l-1.1,1.3M308,311.5l-1.3,-2M318.4,294.1l-1.7,0.3M326.1,289.5l-2,0.7M341.5,294.3l-2.5,0.3M298.8,299.1l-2.2,0.1M304.3,294.2l-0.7,1.7M321,289.7l-2.3,0.6M300.7,272l0.5,2.5M319.2,300l-0.9,-2.3M290.6,273.4l0.1,2.5M363.5,276.3l1.5,0.6M322.8,298l-1.7,-0.9M304,308l-2.3,-0.6M352.3,321.5l-1.4,-0.3M313.2,270.2l-2.1,1.5M375.7,270.5l1.5,0.3M283.3,286.9l0.2,2.4M314.4,284.4l-1.1,1.4M296.7,313.4l-2.1,0.6M291.4,290.7l0.5,1.5M362.3,277.3l1.4,1.9M313,297.1l-1.9,0.5M303.1,295.2l-1.2,0.9M304.4,276.8l-1.3,1M315,285.1l-2.4,0.3M316.1,283.4l-1.9,0.3M300.2,315l-1.7,-1.2M307.6,307.3l-1.8,-0.8M353.5,295.6l-1.7,1.7M365.5,311.5l-1.6,1.1M347.8,304.7l-1.6,-0.4M318.5,308.5l0.1,-1.6M335.9,267l-1.3,1.3M379.7,286.6l1.6,1.8M338.7,285.1l-1.5,0M363.8,288.8l0.9,1.2M330.1,281.8l-1.6,0.6M288.7,273.1l1.5,1.7M366.9,320.4l-0.9,1.3M293,273.4l0.5,2.1M359.3,269.4l2.2,1.3M377.2,291.1l1.6,1M299.8,310.6l-1.9,0.4M349.6,267.2l-1,2.4M322.7,267.6l-1.8,1.4M294.7,284.5l0.9,1.9M351.9,303.9l-1.9,0.8M379.4,283.3l2.5,0.5M348.1,277l-0.8,1.7M347.3,297.6l-1.5,-0.3M355.3,315.4l-2.5,-0.1M284.3,292.8l0.7,1.5M330.6,319.1l-0.9,-2.4M384.1,292.9l0,1.8M308.8,316.8l-1.2,-1.2M345,304.9l-1.5,-0.2M356.4,268.5l1,1.9M377.5,273.2l2,0.4M348.6,273.5l0.7,2M309.7,303.5l-1.1,-1.4M331.3,273.5l-1.7,1.1M297.3,289.9l-0.9,2M376.1,285.9l1,1.8M314.4,319.9l1.2,-2.1M283.1,319l-2,0.3M352,286.9l-1.4,0.9M364.2,288.4l2,0.7M374.1,283l1.3,0.8M351.5,305.4l-1.4,-0.1M321.8,270.7l-1.6,1.7M303.6,291.2l-0.4,1.9M337.3,297l-1.6,-0.4M345.6,279.7l-0.6,1.8M312.8,289.1l-2.2,1.1M320.8,273.6l-1.8,0.6M382.2,284.6l1.6,0.8M316.1,268.6l-2.5,0M281.7,283.7l1.7,1.3M361.9,292.4l0.4,1.8M377.3,306.8l0.4,2M367.5,299.5l1,1.7M346.2,273.6l0,2.3M375.1,281.7l1.9,0M355.6,279l1.6,1.1M334.2,319.4l0.4,-1.6M327,297.1l-1.5,0.1M329.8,275.5l-1,1.5M305.7,315.7l-1.2,-1.1M334.8,305.2l-1.7,-1.4M297.7,295l-2.4,0.9M300.3,272.1l-2.1,1.1M363.9,303.1l-1.8,1.2M371.2,301.4l0.3,2.5M296,318.7l-2.4,-0.1M334.9,281.3l-1,1.7M311.8,278.5l-0.2,1.6M338.8,283.8l-1,1.4M341.5,287.8l-0.9,1.3M337.5,309.6l-0.8,-1.2M380.2,293.7l1.2,1.3M366.5,316.9l-1.9,1.1M335.8,315.2l-0.2,-2.4M324.4,285.5l-1.3,0.6M359.8,295.1l-0.2,2.3M296.5,312.3l-2.5,-0.6M354.5,278.2l0.7,2.1M289,299.9l-1.2,1.3M366.6,277.9l1.4,2M373.4,290l1,1.4M289.3,303.6l-1.7,1.3" stroke="#62a0cc" stroke-width="2.8" stroke-linecap="round" fill="none" filter="url(#b6)" opacity="0.7" transform="translate(0.5,0.6)"/>
<path d="M358.4,292.9l-1,1.1M369.8,307l-0.8,1.9M373.8,288.9l1.8,0.5M350.6,314.8l-1.9,0.9M375.6,275l2.3,1.3M382.6,298.5l-0.4,1.4M364.6,306.2l-0.1,2.4M361.9,319.9l-2.6,0.4M358.5,267l1.6,1.6M356.6,282.9l1.8,1M319.6,287.5l-2.5,-0.2M381.9,274.1l1.6,-0.2M335.9,314.6l-2.1,-1.2M340.8,297.4l-1.9,-0.8M354.2,292.6l-0.9,2.3M358.6,272.9l1.6,0.7M299.3,271.1l0.3,1.4M358.5,305.6l-0.5,2.1M336.5,306.4l-2,-1.1M379.5,301.9l-0.3,1.5M320.8,285.3l-1.3,0.7M297.1,294.3l-1.8,1.4M288.5,275.4l1.7,1M321.1,300.7l-0.8,-1.4M346.7,272.3l-0.9,1.8M372,281.2l1.5,0.8M377.9,282.3l2,0.5M344.6,276.5l-0.1,1.7M321.8,306l-0.4,-1.6M305.2,318.2l-1.2,-1M285.8,281l1.1,2.3M373.3,312.5l-0.5,1.8M322.1,315.4l-0.7,-2.4M359.3,316.4l-2.6,-0.2M323.1,288.1l-2.1,1.1M332.4,310.7l-1.1,-2M314.1,319l-2.4,-1.1M351.7,288.1l-0.9,2.1M304.7,272.4l-1.3,1.3M334.7,295.2l-2.4,-0.7M327.9,321l-0.5,-2.4M366.6,276.9l1.4,-0M380.9,300.1l0.5,1.6M370.9,311.6l-1.5,1.7M290,267.4l0.4,2.2M301.9,289.8l-0.6,2.4M346.5,315.2l-2.1,-1.3M305.6,297l-1.4,0.7M283.1,298.9l-0.6,2.2M366.5,299.2l-0.1,2.5M372.6,297.8l0.6,1.7M296.8,311.1l-1.7,0.6M349.2,300.6l-1.7,1.3M299.9,266.6l-0.8,2.2M297.2,282.4l0.6,1.6M368.2,290.8l1.9,1.5M333.5,285.4l-0.6,1.9M371.2,317.9l-0.9,1.6M324.4,309.4l-1,-1.5M304.7,294l-1.5,1M356.4,296.2l-1.5,1.9M336.7,317l0.2,-2M376.5,271l1.6,1.3M283.5,321.2l-2,1.2M377.2,292.8l1.8,1.4M301.9,299.2l-1.9,1.3M309.1,310.8l-1.1,-1M365.9,291.3l1.4,1M305.2,300.6l-1.6,-0.8M329.4,293.6l-1.7,-0.1M327.3,279.8l-1.6,0.2M335.5,321.8l-1.5,-2M337.1,289.4l-1.8,1M282.1,282.5l2.3,0.9M357.9,272.6l1.2,0.9M376.5,281.8l2.5,-0.6M348.4,316.6l-1.6,-0.7M355.1,267.6l-1.1,1.6M380.5,306.1l-0.3,1.6M367.1,292.1l0.8,1.1M382.1,314.3l-1.8,1.7M281.5,293.6l1.4,1.2M350.6,313.7l-1.8,-0.5M348.4,272.5l-0,1.4M345.8,268.7l0.7,2.1M314.5,285.1l-1.4,0.9M290.1,287l1.7,1.9M346.6,273.5l0,2.4M368.3,290.4l1.2,0.8M311.1,311.9l-1.8,-0.1M306.9,274.3l-1.3,1M356.4,278.2l0.5,1.9M321.9,290.4l-2.3,0.1M320.3,270.9l-2.2,1.3M307.5,318.2l-1.8,-1.2M351,286.6l-0.3,1.6M288.1,274.3l1.1,1.1M363,289.1l1.3,0.8M317.6,279.5l-2.1,0.8M309.6,289.2l-1.1,1.3M308,311.5l-1.3,-2M318.4,294.1l-1.7,0.3M326.1,289.5l-2,0.7M341.5,294.3l-2.5,0.3M298.8,299.1l-2.2,0.1M304.3,294.2l-0.7,1.7M321,289.7l-2.3,0.6M300.7,272l0.5,2.5M319.2,300l-0.9,-2.3M290.6,273.4l0.1,2.5M363.5,276.3l1.5,0.6M322.8,298l-1.7,-0.9M304,308l-2.3,-0.6M352.3,321.5l-1.4,-0.3M313.2,270.2l-2.1,1.5M375.7,270.5l1.5,0.3M283.3,286.9l0.2,2.4M314.4,284.4l-1.1,1.4M296.7,313.4l-2.1,0.6M291.4,290.7l0.5,1.5M362.3,277.3l1.4,1.9M313,297.1l-1.9,0.5M303.1,295.2l-1.2,0.9M304.4,276.8l-1.3,1M315,285.1l-2.4,0.3M316.1,283.4l-1.9,0.3M300.2,315l-1.7,-1.2M307.6,307.3l-1.8,-0.8M353.5,295.6l-1.7,1.7M365.5,311.5l-1.6,1.1M347.8,304.7l-1.6,-0.4M318.5,308.5l0.1,-1.6M335.9,267l-1.3,1.3M379.7,286.6l1.6,1.8M338.7,285.1l-1.5,0M363.8,288.8l0.9,1.2M330.1,281.8l-1.6,0.6M288.7,273.1l1.5,1.7M366.9,320.4l-0.9,1.3M293,273.4l0.5,2.1M359.3,269.4l2.2,1.3M377.2,291.1l1.6,1M299.8,310.6l-1.9,0.4M349.6,267.2l-1,2.4M322.7,267.6l-1.8,1.4M294.7,284.5l0.9,1.9M351.9,303.9l-1.9,0.8M379.4,283.3l2.5,0.5M348.1,277l-0.8,1.7M347.3,297.6l-1.5,-0.3M355.3,315.4l-2.5,-0.1M284.3,292.8l0.7,1.5M330.6,319.1l-0.9,-2.4M384.1,292.9l0,1.8M308.8,316.8l-1.2,-1.2M345,304.9l-1.5,-0.2M356.4,268.5l1,1.9M377.5,273.2l2,0.4M348.6,273.5l0.7,2M309.7,303.5l-1.1,-1.4M331.3,273.5l-1.7,1.1M297.3,289.9l-0.9,2M376.1,285.9l1,1.8M314.4,319.9l1.2,-2.1M283.1,319l-2,0.3M352,286.9l-1.4,0.9M364.2,288.4l2,0.7M374.1,283l1.3,0.8M351.5,305.4l-1.4,-0.1M321.8,270.7l-1.6,1.7M303.6,291.2l-0.4,1.9M337.3,297l-1.6,-0.4M345.6,279.7l-0.6,1.8M312.8,289.1l-2.2,1.1M320.8,273.6l-1.8,0.6M382.2,284.6l1.6,0.8M316.1,268.6l-2.5,0M281.7,283.7l1.7,1.3M361.9,292.4l0.4,1.8M377.3,306.8l0.4,2M367.5,299.5l1,1.7M346.2,273.6l0,2.3M375.1,281.7l1.9,0M355.6,279l1.6,1.1M334.2,319.4l0.4,-1.6M327,297.1l-1.5,0.1M329.8,275.5l-1,1.5M305.7,315.7l-1.2,-1.1M334.8,305.2l-1.7,-1.4M297.7,295l-2.4,0.9M300.3,272.1l-2.1,1.1M363.9,303.1l-1.8,1.2M371.2,301.4l0.3,2.5M296,318.7l-2.4,-0.1M334.9,281.3l-1,1.7M311.8,278.5l-0.2,1.6M338.8,283.8l-1,1.4M341.5,287.8l-0.9,1.3M337.5,309.6l-0.8,-1.2M380.2,293.7l1.2,1.3M366.5,316.9l-1.9,1.1M335.8,315.2l-0.2,-2.4M324.4,285.5l-1.3,0.6M359.8,295.1l-0.2,2.3M296.5,312.3l-2.5,-0.6M354.5,278.2l0.7,2.1M289,299.9l-1.2,1.3M366.6,277.9l1.4,2M373.4,290l1,1.4M289.3,303.6l-1.7,1.3" stroke="#143858" stroke-width="1.6" stroke-linecap="round" fill="none" filter="url(#b3)"/>
</g>
<clipPath id="c18"><rect x="285" y="320" width="97.6" height="47.5"/></clipPath>
<g clip-path="url(#c18)"><rect x="285" y="320" width="97.6" height="47.5" fill="#3474a8"/>
<path d="M315.7,337.9l1.6,0.6M351.7,342.2l-1.1,1M336.7,326l0.9,1.2M299.9,324.5l2.2,0.2M333.6,323.3l1.7,1.6M287.6,334.2l-1.6,2M365.9,345.9l1.3,0.7M290.9,370.2l1.8,-0.5M359.7,349l2.5,0.4M292.3,358.9l2.2,-0.5M367.1,332l1.8,1.6M350.9,329.7l-0.5,1.5M302.3,370.6l0.2,-1.9M307.6,344.2l2.4,-0.2M301.5,319.7l1.8,-0.8M282.3,369.3l1.8,0.9M294,343.3l-0.4,2.4M374.5,368.7l-1,-2.1M351.9,345.7l0.2,1.5M378.3,342.5l2,-1M356.4,326l-1.5,2M382.8,340l1.7,-0.1M307,338.6l2.5,0.6M324,354.8l1,-1.4M306.8,342.2l2.4,0M292.2,323.5l-0.6,1.5M323.6,358.7l1.3,-2.2M325.7,323.7l1.8,-1.7M334.3,357.6l2.1,-1.2M329.8,344.4l1.8,1.3M375.9,338.2l1.5,-0.7M383.5,366.6l-1,-1.3M319,341.1l1.4,-0.5M324.8,348.9l2,-0.3M318.4,344.4l2.3,0M354.8,316.6l-0.6,2.3M313.2,355.7l0.9,-1.6M289.5,344.1l1,2.3M285.9,323.5l-0.6,2.2M315.7,323.7l2.1,-0.1M331.6,356.2l2.2,-0.4M283.3,343.1l-1.7,1.1M283,354.1l1,1.9M366.2,336.9l-0.3,2.4M284.4,323.8l-1.3,1.6M370.3,366.9l0,-2.5M309.2,354.6l-0,-2.3M317.2,340.1l2.4,-0.8M383.7,356.1l-0.4,-1.7M323.7,340.8l1.6,0.2M351.8,349.1l0.4,2.3M298.1,357.9l0.8,-1.6M343.7,341.3l-0.7,1.2M342.4,330.7l1.2,2.3M290.8,347.9l0.9,1.9M383.5,364.3l-0.1,-1.6M297.2,326.9l1.4,1.3M297.4,329.1l1.4,1.5M331.6,343.5l1.3,1.3M339.9,325.3l-0.4,1.8M310,367.6l-0.7,-1.6M367.9,353.8l2.1,-1M383,354.9l0.1,-1.6M336.8,354.2l1.8,1.9M331.7,346.3l1.4,1.4M340.8,363.8l1.5,-0.5M324.8,330.8l1.2,0.9M314,360.3l0.2,-1.4M330.1,323.5l1.8,0.3M366.3,353.7l1.7,0.1M290.6,357.1l2.4,-0.3M334.3,369.1l1,-1.8M339.4,343.7l-0.5,1.3M356.2,355.1l1.3,0.7M373.6,357.1l0.6,-1.5M303.7,351.7l1.7,-0.6M361.4,366.9l1.2,-2M349,322.3l-1.1,1.3M353,369.6l1.2,0.9M321.4,351.2l1.4,-1M289.1,359.2l1.6,0.2M328.2,364.7l0.4,-2.5M343.7,335.6l-1.5,1.6M283.1,368.8l0.7,1.3M350.4,333.2l-1.6,1.9M361.2,329l-0.7,2.1M298.7,368.6l1.9,-1.7M369.6,334.8l1.2,0.9M346.4,321.2l-1,1.3M345.6,341.8l-1.2,1.2M315,361.5l-1.5,-1.8M360.6,329.5l0.1,1.7M348,330.4l-1.8,0.6M292.5,341.5l1.1,1.4M343.9,317.4l0.4,2.2M297.1,357.3l2.3,-0.6M332.7,346.5l0.9,1.3M362.8,334.4l0.7,2.4M332.9,326.6l0.7,2M328.9,339.6l1.4,2.1M367.9,338.2l1.1,1.3M331.1,338.2l1,1.9M384.5,333.2l1.5,0.5M364.7,355.4l1.8,-0.3M355.4,346.1l0.3,1.8M372.7,368.7l-0.6,-2.5M381.9,319l0.5,-2.5M340.3,341.8l-0.4,2.4M337.8,365.3l1.4,-0M296.6,330.3l0.4,2.6M328.7,334.1l1,2.2M337.9,369l2.2,0.4M300.2,344.4l1.3,1.2M338.5,369.1l2.4,-1.1M355.5,365.7l2,-0.4M331.7,342.3l1.8,1.5M354.9,355.4l1.8,0.9M291.9,332.3l0.1,2.1M347.4,341.2l-0.1,1.8M353.4,369.5l2.3,-0.2M343.9,366.6l2.5,0.5M287.8,367.3l2.5,0.4M314.3,356.7l1.2,-1.9M305.7,343.5l1.6,-1M355,322.6l-0.5,1.6M286,325.1l0.4,1.6M309.2,356l1.2,-2M360.3,335.2l-0.6,1.7M373.6,329l2.2,-0.2M319.1,358.6l-0.5,-2M285.6,349.5l0.2,1.6M305.3,363.6l0.4,-2.2M322.5,365l-1.7,-1.5M379.7,365.6l-1.5,-2M335.4,325l0.8,2.3M352.8,366.5l2,1.3M372.1,328.7l2.6,-0M366.9,336.9l1.5,1M323,364.2l-0.2,-1.9M329.3,369.9l0.1,-2.3M354.9,317.5l0,2.1M290.4,361.5l2.1,-0.1M284.6,326.8l0.4,1.7M315.7,367.8l-0.4,-2.1M303.3,362l-0.4,-2M299.3,345.2l2.1,0.7M380,321.9l1.7,-1M339.9,347.6l0.3,1.9M299.6,332.4l1.1,1.9M353,336.4l-0.8,1.5M351.9,333.8l-2,0.8M317,366.3l-1.6,-1.5M350.1,362.3l2.2,0.6M381.8,326.7l1,-1.9M348.6,346.9l-1.4,1.4M374.3,335.2l2.4,-0.1M324.2,342.7l1.9,0.6M323.9,331.2l1.8,-0.3M360.1,355.9l2.6,-0.3M325.8,326.2l2.3,0.2M310.7,358.6l0.7,-1.3M312.3,319.9l0.7,-1.5M345.4,349.7l0.2,2.2M371.9,359l0.6,-1.8M327.5,355.3l0.8,-1.6M302.1,355.9l0.8,-1.3M375.9,348.5l0.8,-1.4M374.8,357.7l0.2,-2.1M329.3,349.9l2.2,1.1M359.7,365.7l1.2,-1.3" stroke="#62a0cc" stroke-width="2.8" stroke-linecap="round" fill="none" filter="url(#b6)" opacity="0.7" transform="translate(0.5,0.6)"/>
<path d="M315.7,337.9l1.6,0.6M351.7,342.2l-1.1,1M336.7,326l0.9,1.2M299.9,324.5l2.2,0.2M333.6,323.3l1.7,1.6M287.6,334.2l-1.6,2M365.9,345.9l1.3,0.7M290.9,370.2l1.8,-0.5M359.7,349l2.5,0.4M292.3,358.9l2.2,-0.5M367.1,332l1.8,1.6M350.9,329.7l-0.5,1.5M302.3,370.6l0.2,-1.9M307.6,344.2l2.4,-0.2M301.5,319.7l1.8,-0.8M282.3,369.3l1.8,0.9M294,343.3l-0.4,2.4M374.5,368.7l-1,-2.1M351.9,345.7l0.2,1.5M378.3,342.5l2,-1M356.4,326l-1.5,2M382.8,340l1.7,-0.1M307,338.6l2.5,0.6M324,354.8l1,-1.4M306.8,342.2l2.4,0M292.2,323.5l-0.6,1.5M323.6,358.7l1.3,-2.2M325.7,323.7l1.8,-1.7M334.3,357.6l2.1,-1.2M329.8,344.4l1.8,1.3M375.9,338.2l1.5,-0.7M383.5,366.6l-1,-1.3M319,341.1l1.4,-0.5M324.8,348.9l2,-0.3M318.4,344.4l2.3,0M354.8,316.6l-0.6,2.3M313.2,355.7l0.9,-1.6M289.5,344.1l1,2.3M285.9,323.5l-0.6,2.2M315.7,323.7l2.1,-0.1M331.6,356.2l2.2,-0.4M283.3,343.1l-1.7,1.1M283,354.1l1,1.9M366.2,336.9l-0.3,2.4M284.4,323.8l-1.3,1.6M370.3,366.9l0,-2.5M309.2,354.6l-0,-2.3M317.2,340.1l2.4,-0.8M383.7,356.1l-0.4,-1.7M323.7,340.8l1.6,0.2M351.8,349.1l0.4,2.3M298.1,357.9l0.8,-1.6M343.7,341.3l-0.7,1.2M342.4,330.7l1.2,2.3M290.8,347.9l0.9,1.9M383.5,364.3l-0.1,-1.6M297.2,326.9l1.4,1.3M297.4,329.1l1.4,1.5M331.6,343.5l1.3,1.3M339.9,325.3l-0.4,1.8M310,367.6l-0.7,-1.6M367.9,353.8l2.1,-1M383,354.9l0.1,-1.6M336.8,354.2l1.8,1.9M331.7,346.3l1.4,1.4M340.8,363.8l1.5,-0.5M324.8,330.8l1.2,0.9M314,360.3l0.2,-1.4M330.1,323.5l1.8,0.3M366.3,353.7l1.7,0.1M290.6,357.1l2.4,-0.3M334.3,369.1l1,-1.8M339.4,343.7l-0.5,1.3M356.2,355.1l1.3,0.7M373.6,357.1l0.6,-1.5M303.7,351.7l1.7,-0.6M361.4,366.9l1.2,-2M349,322.3l-1.1,1.3M353,369.6l1.2,0.9M321.4,351.2l1.4,-1M289.1,359.2l1.6,0.2M328.2,364.7l0.4,-2.5M343.7,335.6l-1.5,1.6M283.1,368.8l0.7,1.3M350.4,333.2l-1.6,1.9M361.2,329l-0.7,2.1M298.7,368.6l1.9,-1.7M369.6,334.8l1.2,0.9M346.4,321.2l-1,1.3M345.6,341.8l-1.2,1.2M315,361.5l-1.5,-1.8M360.6,329.5l0.1,1.7M348,330.4l-1.8,0.6M292.5,341.5l1.1,1.4M343.9,317.4l0.4,2.2M297.1,357.3l2.3,-0.6M332.7,346.5l0.9,1.3M362.8,334.4l0.7,2.4M332.9,326.6l0.7,2M328.9,339.6l1.4,2.1M367.9,338.2l1.1,1.3M331.1,338.2l1,1.9M384.5,333.2l1.5,0.5M364.7,355.4l1.8,-0.3M355.4,346.1l0.3,1.8M372.7,368.7l-0.6,-2.5M381.9,319l0.5,-2.5M340.3,341.8l-0.4,2.4M337.8,365.3l1.4,-0M296.6,330.3l0.4,2.6M328.7,334.1l1,2.2M337.9,369l2.2,0.4M300.2,344.4l1.3,1.2M338.5,369.1l2.4,-1.1M355.5,365.7l2,-0.4M331.7,342.3l1.8,1.5M354.9,355.4l1.8,0.9M291.9,332.3l0.1,2.1M347.4,341.2l-0.1,1.8M353.4,369.5l2.3,-0.2M343.9,366.6l2.5,0.5M287.8,367.3l2.5,0.4M314.3,356.7l1.2,-1.9M305.7,343.5l1.6,-1M355,322.6l-0.5,1.6M286,325.1l0.4,1.6M309.2,356l1.2,-2M360.3,335.2l-0.6,1.7M373.6,329l2.2,-0.2M319.1,358.6l-0.5,-2M285.6,349.5l0.2,1.6M305.3,363.6l0.4,-2.2M322.5,365l-1.7,-1.5M379.7,365.6l-1.5,-2M335.4,325l0.8,2.3M352.8,366.5l2,1.3M372.1,328.7l2.6,-0M366.9,336.9l1.5,1M323,364.2l-0.2,-1.9M329.3,369.9l0.1,-2.3M354.9,317.5l0,2.1M290.4,361.5l2.1,-0.1M284.6,326.8l0.4,1.7M315.7,367.8l-0.4,-2.1M303.3,362l-0.4,-2M299.3,345.2l2.1,0.7M380,321.9l1.7,-1M339.9,347.6l0.3,1.9M299.6,332.4l1.1,1.9M353,336.4l-0.8,1.5M351.9,333.8l-2,0.8M317,366.3l-1.6,-1.5M350.1,362.3l2.2,0.6M381.8,326.7l1,-1.9M348.6,346.9l-1.4,1.4M374.3,335.2l2.4,-0.1M324.2,342.7l1.9,0.6M323.9,331.2l1.8,-0.3M360.1,355.9l2.6,-0.3M325.8,326.2l2.3,0.2M310.7,358.6l0.7,-1.3M312.3,319.9l0.7,-1.5M345.4,349.7l0.2,2.2M371.9,359l0.6,-1.8M327.5,355.3l0.8,-1.6M302.1,355.9l0.8,-1.3M375.9,348.5l0.8,-1.4M374.8,357.7l0.2,-2.1M329.3,349.9l2.2,1.1M359.7,365.7l1.2,-1.3" stroke="#143858" stroke-width="1.6" stroke-linecap="round" fill="none" filter="url(#b3)"/>
</g>
<clipPath id="c19"><rect x="89" y="392" width="96.8" height="47.8"/></clipPath>
<g clip-path="url(#c19)"><rect x="89" y="392" width="96.8" height="47.8" fill="#070000"/>
<g fill="none" stroke="#c81212" stroke-width="0.8" filter="url(#b3)"><rect x="-2.8" y="-1.9" width="5.5" height="3.7" rx="1.9" transform="translate(102.9,403) rotate(172)"/><rect x="-3.4" y="-1.9" width="6.7" height="3.8" rx="1.9" transform="translate(101.4,398.4) rotate(161)"/><rect x="-3.1" y="-1.7" width="6.3" height="3.4" rx="1.7" transform="translate(101.1,394.4) rotate(173)"/><rect x="-2.7" y="-1.7" width="5.4" height="3.4" rx="1.7" transform="translate(98.6,390.2) rotate(161)"/><rect x="-3.1" y="-1.7" width="6.3" height="3.4" rx="1.7" transform="translate(100.1,420.7) rotate(90)"/><rect x="-2.9" y="-1.7" width="5.8" height="3.4" rx="1.7" transform="translate(96.6,436.1) rotate(144)"/><rect x="-3.3" y="-2" width="6.5" height="4" rx="2" transform="translate(118.6,397.6) rotate(149)"/><rect x="-3.4" y="-1.9" width="6.8" height="3.7" rx="1.9" transform="translate(125.3,413.5) rotate(88)"/><rect x="-3.2" y="-1.7" width="6.4" height="3.4" rx="1.7" transform="translate(121.1,414.7) rotate(77)"/><rect x="-3" y="-1.9" width="5.9" height="3.8" rx="1.9" transform="translate(117.2,413.3) rotate(78)"/><rect x="-3" y="-1.8" width="6" height="3.6" rx="1.8" transform="translate(112.3,415.3) rotate(75)"/><rect x="-2.9" y="-1.6" width="5.9" height="3.2" rx="1.6" transform="translate(108.5,432.3) rotate(76)"/><rect x="-3.3" y="-1.7" width="6.6" height="3.4" rx="1.7" transform="translate(104.5,434.2) rotate(77)"/><rect x="-2.5" y="-1.6" width="5.1" height="3.2" rx="1.6" transform="translate(133.2,403.6) rotate(167)"/><rect x="-2.6" y="-1.8" width="5.2" height="3.5" rx="1.8" transform="translate(136.7,398.4) rotate(169)"/><rect x="-2.6" y="-1.7" width="5.2" height="3.4" rx="1.7" transform="translate(122.4,408.7) rotate(63)"/><rect x="-3.2" y="-1.6" width="6.4" height="3.2" rx="1.6" transform="translate(132.3,422.7) rotate(28)"/><rect x="-2.7" y="-1.6" width="5.4" height="3.2" rx="1.6" transform="translate(131.6,427.8) rotate(40)"/><rect x="-3.3" y="-1.9" width="6.7" height="3.9" rx="1.9" transform="translate(128.9,431.4) rotate(36)"/><rect x="-3" y="-2" width="6" height="4" rx="2" transform="translate(123.5,433) rotate(37)"/><rect x="-2.7" y="-1.7" width="5.4" height="3.4" rx="1.7" transform="translate(139.5,404.7) rotate(39)"/><rect x="-3.4" y="-1.8" width="6.9" height="3.7" rx="1.8" transform="translate(153.9,423.5) rotate(152)"/><rect x="-3.4" y="-1.8" width="6.7" height="3.7" rx="1.8" transform="translate(150.5,420.7) rotate(132)"/><rect x="-2.7" y="-1.7" width="5.3" height="3.4" rx="1.7" transform="translate(148.1,416.2) rotate(144)"/><rect x="-3" y="-1.9" width="5.9" height="3.9" rx="1.9" transform="translate(147.5,428.7) rotate(158)"/><rect x="-2.5" y="-1.8" width="5" height="3.7" rx="1.8" transform="translate(147.1,424.3) rotate(157)"/><rect x="-2.9" y="-1.9" width="5.8" height="3.8" rx="1.9" transform="translate(164.8,408.5) rotate(137)"/><rect x="-3.2" y="-1.9" width="6.4" height="3.8" rx="1.9" transform="translate(160.1,406.8) rotate(124)"/><rect x="-2.9" y="-2" width="5.8" height="3.9" rx="2" transform="translate(158.2,401.8) rotate(123)"/><rect x="-3.1" y="-1.8" width="6.1" height="3.7" rx="1.8" transform="translate(161.6,410.1) rotate(100)"/><rect x="-2.9" y="-1.9" width="5.8" height="3.8" rx="1.9" transform="translate(158.5,429.5) rotate(21)"/><rect x="-3.3" y="-1.6" width="6.5" height="3.3" rx="1.6" transform="translate(181.9,408.8) rotate(111)"/><rect x="-3.1" y="-1.6" width="6.2" height="3.3" rx="1.6" transform="translate(177.3,407.9) rotate(117)"/><rect x="-2.8" y="-1.6" width="5.6" height="3.3" rx="1.6" transform="translate(173.6,406.5) rotate(111)"/><rect x="-2.7" y="-1.9" width="5.4" height="3.9" rx="1.9" transform="translate(178.9,420.9) rotate(102)"/><rect x="-3.4" y="-1.8" width="6.7" height="3.6" rx="1.8" transform="translate(174.5,421.4) rotate(87)"/><rect x="-2.5" y="-1.9" width="5.1" height="3.8" rx="1.9" transform="translate(169.9,419.3) rotate(87)"/><rect x="-3.5" y="-1.6" width="6.9" height="3.3" rx="1.6" transform="translate(183.8,430.6) rotate(174)"/><rect x="-2.8" y="-2" width="5.6" height="3.9" rx="2" transform="translate(184.5,426) rotate(174)"/></g>
<path d="M103.6,402.9h0M102.3,403h0M101.4,398.4h0M101.8,394.3h0M100.4,394.4h0M99.2,390h0M98,390.4h0M100.1,420.7h0M96.6,436.1h0M118.6,397.6h0M125.3,413.5h0M121.1,414.7h0M117.2,413.3h0M112.1,414.7h0M112.5,416h0M108.5,432.3h0M104.3,433.4h0M104.7,434.9h0M133.2,403.6h0M137.3,398.2h0M136.1,398.5h0M122.4,408.7h0M131.7,422.4h0M133,423.1h0M131.6,427.8h0M128.3,431h0M129.6,431.9h0M123,432.6h0M124.1,433.5h0M139.5,404.7h0M154.6,423.1h0M153.2,423.9h0M151,420.1h0M150,421.3h0M148.1,416.2h0M148.1,428.4h0M146.8,428.9h0M147.1,424.3h0M165.3,408h0M164.3,408.9h0M160.5,406.2h0M159.7,407.4h0M158.6,401.3h0M157.8,402.4h0M161.6,410.1h0M157.9,429.3h0M159.2,429.8h0M182.1,408.1h0M181.6,409.5h0M177.3,407.9h0M173.6,406.5h0M178.9,420.9h0M174.5,421.4h0M169.9,419.3h0M183.8,430.6h0M185.1,425.9h0M183.8,426h0" stroke="#22d822" stroke-width="1.8" stroke-linecap="round" filter="url(#b3)"/>
</g>
<clipPath id="c20"><rect x="89" y="441" width="96.8" height="48.1"/></clipPath>
<g clip-path="url(#c20)"><rect x="89" y="441" width="96.8" height="48.1" fill="#060000"/>
<g fill="none" stroke="#c81212" stroke-width="0.8" filter="url(#b3)"><rect x="-2.9" y="-1.7" width="5.7" height="3.4" rx="1.7" transform="translate(102.2,454.6) rotate(113)"/><rect x="-3.2" y="-2" width="6.4" height="4" rx="2" transform="translate(99.1,451.5) rotate(115)"/><rect x="-3.3" y="-2" width="6.7" height="4" rx="2" transform="translate(94,451.3) rotate(106)"/><rect x="-2.9" y="-1.7" width="5.9" height="3.4" rx="1.7" transform="translate(90.7,449.3) rotate(112)"/><rect x="-2.9" y="-2" width="5.8" height="3.9" rx="2" transform="translate(106.9,459.6) rotate(83)"/><rect x="-2.8" y="-1.6" width="5.7" height="3.2" rx="1.6" transform="translate(102.7,460.2) rotate(81)"/><rect x="-2.5" y="-1.9" width="5.1" height="3.8" rx="1.9" transform="translate(97.7,459.4) rotate(92)"/><rect x="-3.4" y="-1.7" width="6.8" height="3.5" rx="1.7" transform="translate(96.6,483.8) rotate(43)"/><rect x="-3.1" y="-2" width="6.1" height="4" rx="2" transform="translate(93.6,486.1) rotate(52)"/><rect x="-3.3" y="-1.7" width="6.7" height="3.3" rx="1.7" transform="translate(89.1,487.9) rotate(34)"/><rect x="-3.2" y="-1.9" width="6.3" height="3.9" rx="1.9" transform="translate(86.5,491.8) rotate(52)"/><rect x="-2.7" y="-1.6" width="5.3" height="3.2" rx="1.6" transform="translate(116.1,453.9) rotate(110)"/><rect x="-2.6" y="-1.9" width="5.3" height="3.8" rx="1.9" transform="translate(112.7,450.1) rotate(105)"/><rect x="-3.2" y="-1.8" width="6.4" height="3.7" rx="1.8" transform="translate(107.5,451.1) rotate(97)"/><rect x="-2.6" y="-2" width="5.2" height="4" rx="2" transform="translate(103.8,449.7) rotate(98)"/><rect x="-2.6" y="-1.8" width="5.2" height="3.6" rx="1.8" transform="translate(108.6,461.7) rotate(93)"/><rect x="-2.8" y="-2" width="5.7" height="4" rx="2" transform="translate(114.2,480.2) rotate(66)"/><rect x="-2.6" y="-1.9" width="5.2" height="3.7" rx="1.9" transform="translate(110.1,482) rotate(63)"/><rect x="-2.9" y="-2" width="5.8" height="4" rx="2" transform="translate(130.1,441.9) rotate(61)"/><rect x="-2.6" y="-2" width="5.2" height="3.9" rx="2" transform="translate(127.3,445.9) rotate(63)"/><rect x="-3.2" y="-1.7" width="6.4" height="3.4" rx="1.7" transform="translate(124.7,469.7) rotate(134)"/><rect x="-2.7" y="-1.7" width="5.4" height="3.5" rx="1.7" transform="translate(121.6,466.7) rotate(138)"/><rect x="-3.4" y="-2" width="6.7" height="4" rx="2" transform="translate(121.2,461.5) rotate(147)"/><rect x="-2.8" y="-1.7" width="5.7" height="3.5" rx="1.7" transform="translate(140.6,488.5) rotate(118)"/><rect x="-3.1" y="-2" width="6.1" height="3.9" rx="2" transform="translate(135.6,488) rotate(121)"/><rect x="-2.9" y="-1.7" width="5.9" height="3.3" rx="1.7" transform="translate(134,482.4) rotate(127)"/><rect x="-3.3" y="-1.8" width="6.6" height="3.6" rx="1.8" transform="translate(128.8,482.6) rotate(128)"/><rect x="-3.2" y="-1.8" width="6.3" height="3.6" rx="1.8" transform="translate(144.7,441.1) rotate(35)"/><rect x="-2.5" y="-1.7" width="5.1" height="3.3" rx="1.7" transform="translate(141.9,444.8) rotate(40)"/><rect x="-3.4" y="-2" width="6.7" height="3.9" rx="2" transform="translate(137.3,446.1) rotate(39)"/><rect x="-3" y="-1.7" width="6" height="3.5" rx="1.7" transform="translate(148.1,471.6) rotate(131)"/><rect x="-3" y="-1.9" width="6" height="3.9" rx="1.9" transform="translate(144.7,468.7) rotate(124)"/><rect x="-3.2" y="-1.6" width="6.4" height="3.3" rx="1.6" transform="translate(149.4,487) rotate(177)"/><rect x="-3.1" y="-1.9" width="6.3" height="3.8" rx="1.9" transform="translate(148.9,482.9) rotate(174)"/><rect x="-2.9" y="-1.9" width="5.9" height="3.9" rx="1.9" transform="translate(151.8,477.9) rotate(193)"/><rect x="-2.6" y="-1.9" width="5.1" height="3.8" rx="1.9" transform="translate(151.4,474.2) rotate(190)"/><rect x="-3.4" y="-1.7" width="6.9" height="3.5" rx="1.7" transform="translate(167.6,450.1) rotate(136)"/><rect x="-3.1" y="-1.7" width="6.1" height="3.4" rx="1.7" transform="translate(163.4,448.3) rotate(131)"/><rect x="-3.1" y="-1.7" width="6.1" height="3.4" rx="1.7" transform="translate(158.9,447.3) rotate(135)"/><rect x="-3.2" y="-1.7" width="6.4" height="3.5" rx="1.7" transform="translate(157.2,441.5) rotate(129)"/><rect x="-3.2" y="-2" width="6.3" height="4" rx="2" transform="translate(169.3,463.2) rotate(41)"/><rect x="-2.8" y="-1.8" width="5.6" height="3.7" rx="1.8" transform="translate(164,464.9) rotate(23)"/><rect x="-3.4" y="-1.8" width="6.7" height="3.5" rx="1.8" transform="translate(166.2,483.8) rotate(180)"/><rect x="-3.1" y="-1.8" width="6.3" height="3.7" rx="1.8" transform="translate(165.2,480) rotate(179)"/><rect x="-3.4" y="-1.7" width="6.7" height="3.5" rx="1.7" transform="translate(180.8,451.6) rotate(58)"/><rect x="-2.6" y="-1.7" width="5.2" height="3.4" rx="1.7" transform="translate(179.8,464.9) rotate(35)"/><rect x="-2.7" y="-1.7" width="5.5" height="3.3" rx="1.7" transform="translate(178.1,469) rotate(40)"/><rect x="-2.7" y="-1.8" width="5.4" height="3.5" rx="1.8" transform="translate(179.4,479.4) rotate(117)"/><rect x="-3.5" y="-1.9" width="7" height="3.8" rx="1.9" transform="translate(176.1,475.7) rotate(121)"/><rect x="-2.7" y="-1.7" width="5.5" height="3.3" rx="1.7" transform="translate(172.1,474.5) rotate(120)"/><rect x="-2.7" y="-1.8" width="5.5" height="3.6" rx="1.8" transform="translate(167.8,472.5) rotate(128)"/></g>
<path d="M102.5,454h0M101.9,455.2h0M99.4,450.8h0M98.8,452.1h0M94,451.3h0M90.7,449.3h0M106.8,458.9h0M107,460.3h0M102.6,459.6h0M102.8,460.9h0M97.7,458.8h0M97.6,460h0M96.1,483.2h0M97.2,484.3h0M93.1,485.6h0M94,486.7h0M88.5,487.4h0M89.8,488.3h0M86.5,491.8h0M116.1,453.9h0M112.9,449.5h0M112.6,450.7h0M107.6,450.4h0M107.4,451.8h0M103.9,449.1h0M103.7,450.3h0M108.6,461.1h0M108.6,462.3h0M114,479.6h0M114.5,480.8h0M109.8,481.4h0M110.4,482.5h0M129.8,441.3h0M130.4,442.5h0M127.3,445.9h0M124.7,469.7h0M121.6,466.7h0M121.9,461.1h0M120.6,461.9h0M140.6,488.5h0M136,487.4h0M135.3,488.6h0M134.4,481.9h0M133.6,483h0M129.3,482h0M128.4,483.2h0M144.1,440.7h0M145.3,441.5h0M141.9,444.8h0M137.3,446.1h0M148.1,471.6h0M145.1,468.2h0M144.3,469.3h0M150.2,487h0M148.7,487h0M148.9,482.9h0M152.4,478.1h0M151.1,477.8h0M151.4,474.2h0M167.6,450.1h0M163.9,447.8h0M162.9,448.9h0M159.4,446.8h0M158.4,447.8h0M157.2,441.5h0M169.3,463.2h0M163.4,464.7h0M164.6,465.2h0M166.2,483.8h0M165.2,480h0M180.4,450.9h0M181.2,452.3h0M179.3,464.5h0M180.3,465.2h0M178.1,469h0M179.4,479.4h0M176.5,475h0M175.6,476.4h0M172.4,474h0M171.7,475.1h0M167.8,472.5h0" stroke="#22d822" stroke-width="1.8" stroke-linecap="round" filter="url(#b3)"/>
</g>
<clipPath id="c21"><rect x="89" y="490.4" width="96.8" height="47.4"/></clipPath>
<g clip-path="url(#c21)"><rect x="89" y="490.4" width="96.8" height="47.4" fill="#060000"/>
<g fill="none" stroke="#d01414" stroke-width="0.8" filter="url(#b3)"><rect x="-2.9" y="-1.5" width="5.8" height="3" rx="1.5" transform="translate(110.5,534.5) rotate(23)"/><rect x="-2.5" y="-1.4" width="4.9" height="2.8" rx="1.4" transform="translate(147.5,513.8) rotate(221)"/><rect x="-2.6" y="-1.7" width="5.2" height="3.4" rx="1.7" transform="translate(114.9,510.5) rotate(107)"/><rect x="-2.5" y="-1.6" width="5" height="3.2" rx="1.6" transform="translate(183.9,526.4) rotate(96)"/><rect x="-3.2" y="-1.5" width="6.4" height="3" rx="1.5" transform="translate(89.9,506.2) rotate(248)"/><rect x="-2.9" y="-1.5" width="5.8" height="3" rx="1.5" transform="translate(148.3,521.9) rotate(189)"/><rect x="-2.9" y="-1.4" width="5.8" height="2.9" rx="1.4" transform="translate(156.3,496.2) rotate(160)"/><rect x="-2.6" y="-1.7" width="5.3" height="3.4" rx="1.7" transform="translate(105.7,524.2) rotate(73)"/><rect x="-2.6" y="-1.4" width="5.1" height="2.9" rx="1.4" transform="translate(89.7,497) rotate(186)"/><rect x="-2.5" y="-1.6" width="5" height="3.3" rx="1.6" transform="translate(117.1,532.9) rotate(-4)"/><rect x="-2.9" y="-1.8" width="5.8" height="3.5" rx="1.8" transform="translate(171.6,495.6) rotate(105)"/><rect x="-2.5" y="-1.6" width="5.1" height="3.1" rx="1.6" transform="translate(134.5,491.9) rotate(194)"/><rect x="-3" y="-1.5" width="5.9" height="2.9" rx="1.5" transform="translate(95.8,522.8) rotate(127)"/><rect x="-2.7" y="-1.6" width="5.4" height="3.2" rx="1.6" transform="translate(119.6,520) rotate(104)"/><rect x="-2.8" y="-1.4" width="5.6" height="2.8" rx="1.4" transform="translate(147.1,494.8) rotate(217)"/><rect x="-2.3" y="-1.8" width="4.6" height="3.5" rx="1.8" transform="translate(181.9,523) rotate(80)"/><rect x="-2.8" y="-1.6" width="5.6" height="3.1" rx="1.6" transform="translate(154.1,536.7) rotate(99)"/><rect x="-2.9" y="-1.4" width="5.8" height="2.8" rx="1.4" transform="translate(150.4,535.2) rotate(138)"/><rect x="-2.5" y="-1.8" width="5.1" height="3.5" rx="1.8" transform="translate(181.7,529.9) rotate(38)"/><rect x="-2.3" y="-1.6" width="4.6" height="3.3" rx="1.6" transform="translate(167,521.4) rotate(76)"/><rect x="-2.3" y="-1.8" width="4.7" height="3.6" rx="1.8" transform="translate(176.3,527.7) rotate(15)"/><rect x="-2.3" y="-1.7" width="4.6" height="3.5" rx="1.7" transform="translate(106.9,502.5) rotate(120)"/><rect x="-2.9" y="-1.8" width="5.7" height="3.5" rx="1.8" transform="translate(164.6,525) rotate(92)"/><rect x="-2.6" y="-1.5" width="5.3" height="3" rx="1.5" transform="translate(129.1,517.9) rotate(188)"/><rect x="-3" y="-1.7" width="6" height="3.3" rx="1.7" transform="translate(122.1,507.4) rotate(185)"/><rect x="-2.5" y="-1.4" width="5.1" height="2.9" rx="1.4" transform="translate(131.7,537.5) rotate(107)"/><rect x="-3.2" y="-1.5" width="6.5" height="2.9" rx="1.5" transform="translate(119.5,515.6) rotate(151)"/><rect x="-3.1" y="-1.8" width="6.1" height="3.6" rx="1.8" transform="translate(170.6,500.1) rotate(147)"/><rect x="-3.2" y="-1.7" width="6.4" height="3.3" rx="1.7" transform="translate(150.2,500.3) rotate(239)"/><rect x="-2.6" y="-1.7" width="5.2" height="3.3" rx="1.7" transform="translate(115.4,539.3) rotate(-7)"/><rect x="-3.1" y="-1.4" width="6.1" height="2.9" rx="1.4" transform="translate(135.7,517.5) rotate(238)"/><rect x="-3" y="-1.4" width="6" height="2.8" rx="1.4" transform="translate(132.6,535.8) rotate(120)"/><rect x="-2.3" y="-1.5" width="4.5" height="3.1" rx="1.5" transform="translate(122.6,533.1) rotate(31)"/><rect x="-3.2" y="-1.5" width="6.3" height="3" rx="1.5" transform="translate(145.9,534.8) rotate(110)"/><rect x="-2.9" y="-1.6" width="5.9" height="3.2" rx="1.6" transform="translate(136.1,499.4) rotate(226)"/><rect x="-3.1" y="-1.5" width="6.2" height="3.1" rx="1.5" transform="translate(149.2,511.9) rotate(252)"/><rect x="-2.5" y="-1.8" width="5.1" height="3.5" rx="1.8" transform="translate(123.4,501.6) rotate(139)"/><rect x="-3.1" y="-1.6" width="6.2" height="3.2" rx="1.6" transform="translate(151.4,489.3) rotate(170)"/><rect x="-2.7" y="-1.7" width="5.4" height="3.4" rx="1.7" transform="translate(112.4,523.5) rotate(49)"/><rect x="-2.3" y="-1.4" width="4.6" height="2.8" rx="1.4" transform="translate(146.3,489.7) rotate(198)"/><rect x="-2.8" y="-1.6" width="5.6" height="3.2" rx="1.6" transform="translate(138.2,537.5) rotate(133)"/><rect x="-2.8" y="-1.7" width="5.5" height="3.3" rx="1.7" transform="translate(156.6,519.7) rotate(167)"/><rect x="-2.6" y="-1.5" width="5.2" height="3.1" rx="1.5" transform="translate(120.1,500.6) rotate(155)"/><rect x="-2.3" y="-1.5" width="4.5" height="3.1" rx="1.5" transform="translate(167.7,509.5) rotate(128)"/><rect x="-2.5" y="-1.7" width="4.9" height="3.4" rx="1.7" transform="translate(173.6,539.1) rotate(0)"/><rect x="-2.3" y="-1.7" width="4.6" height="3.5" rx="1.7" transform="translate(97.7,536) rotate(31)"/><rect x="-2.4" y="-1.7" width="4.8" height="3.3" rx="1.7" transform="translate(103.5,494.9) rotate(89)"/><rect x="-3" y="-1.7" width="6" height="3.5" rx="1.7" transform="translate(114.6,496.7) rotate(115)"/><rect x="-3" y="-1.5" width="5.9" height="2.9" rx="1.5" transform="translate(91.4,488.9) rotate(154)"/><rect x="-2.5" y="-1.8" width="5" height="3.5" rx="1.8" transform="translate(129.9,521.6) rotate(168)"/><rect x="-2.6" y="-1.5" width="5.2" height="3.1" rx="1.5" transform="translate(144.4,534) rotate(177)"/><rect x="-3.1" y="-1.4" width="6.3" height="2.8" rx="1.4" transform="translate(130.2,521.4) rotate(168)"/><rect x="-2.3" y="-1.5" width="4.5" height="3" rx="1.5" transform="translate(122.6,496.8) rotate(125)"/><rect x="-2.9" y="-1.7" width="5.9" height="3.4" rx="1.7" transform="translate(111,511.6) rotate(117)"/><rect x="-2.9" y="-1.6" width="5.7" height="3.2" rx="1.6" transform="translate(124.2,491.6) rotate(160)"/><rect x="-3.2" y="-1.6" width="6.4" height="3.1" rx="1.6" transform="translate(144.3,491.9) rotate(208)"/><rect x="-2.3" y="-1.6" width="4.6" height="3.3" rx="1.6" transform="translate(117.7,489.8) rotate(107)"/><rect x="-3.2" y="-1.8" width="6.5" height="3.6" rx="1.8" transform="translate(137.6,524.5) rotate(173)"/><rect x="-2.4" y="-1.7" width="4.8" height="3.4" rx="1.7" transform="translate(131,515.1) rotate(218)"/><rect x="-2.5" y="-1.8" width="5" height="3.5" rx="1.8" transform="translate(155.1,509.5) rotate(202)"/><rect x="-3.1" y="-1.6" width="6.2" height="3.1" rx="1.6" transform="translate(105.9,496.4) rotate(95)"/><rect x="-2.8" y="-1.5" width="5.7" height="2.9" rx="1.5" transform="translate(169.6,509.7) rotate(117)"/><rect x="-2.3" y="-1.7" width="4.7" height="3.4" rx="1.7" transform="translate(117.2,510.6) rotate(116)"/><rect x="-2.8" y="-1.5" width="5.6" height="3.1" rx="1.5" transform="translate(117.3,509) rotate(149)"/><rect x="-3.2" y="-1.7" width="6.4" height="3.3" rx="1.7" transform="translate(112.7,527.6) rotate(29)"/><rect x="-3.2" y="-1.5" width="6.4" height="3.1" rx="1.5" transform="translate(120.4,505.5) rotate(146)"/><rect x="-2.3" y="-1.7" width="4.6" height="3.4" rx="1.7" transform="translate(185.7,523) rotate(150)"/><rect x="-2.8" y="-1.5" width="5.6" height="3" rx="1.5" transform="translate(160.4,520.2) rotate(113)"/><rect x="-2.5" y="-1.7" width="5" height="3.4" rx="1.7" transform="translate(119.7,519.7) rotate(132)"/><rect x="-3.2" y="-1.7" width="6.4" height="3.3" rx="1.7" transform="translate(158,514.4) rotate(185)"/><rect x="-2.5" y="-1.4" width="5" height="2.9" rx="1.4" transform="translate(137.3,522.4) rotate(181)"/><rect x="-2.4" y="-1.6" width="4.7" height="3.3" rx="1.6" transform="translate(144.1,508.2) rotate(243)"/><rect x="-2.9" y="-1.6" width="5.7" height="3.2" rx="1.6" transform="translate(142.4,487.4) rotate(182)"/><rect x="-2.8" y="-1.7" width="5.7" height="3.3" rx="1.7" transform="translate(154.3,491.2) rotate(154)"/><rect x="-2.8" y="-1.6" width="5.6" height="3.2" rx="1.6" transform="translate(142,503.4) rotate(219)"/><rect x="-2.9" y="-1.6" width="5.8" height="3.1" rx="1.6" transform="translate(160.8,532.1) rotate(75)"/><rect x="-2.7" y="-1.6" width="5.4" height="3.3" rx="1.6" transform="translate(144.8,534.4) rotate(189)"/><rect x="-2.6" y="-1.7" width="5.2" height="3.5" rx="1.7" transform="translate(108.6,494) rotate(84)"/><rect x="-2.9" y="-1.6" width="5.8" height="3.2" rx="1.6" transform="translate(119.9,516.9) rotate(137)"/><rect x="-2.9" y="-1.8" width="5.7" height="3.5" rx="1.8" transform="translate(139.1,539) rotate(202)"/><rect x="-3" y="-1.7" width="5.9" height="3.3" rx="1.7" transform="translate(99.2,488.2) rotate(54)"/><rect x="-2.6" y="-1.7" width="5.1" height="3.3" rx="1.7" transform="translate(115.4,539) rotate(10)"/><rect x="-2.3" y="-1.8" width="4.7" height="3.5" rx="1.8" transform="translate(98.2,537.2) rotate(77)"/><rect x="-2.8" y="-1.5" width="5.5" height="2.9" rx="1.5" transform="translate(153.8,522.8) rotate(160)"/><rect x="-3.1" y="-1.8" width="6.2" height="3.5" rx="1.8" transform="translate(113.1,487.9) rotate(44)"/><rect x="-3" y="-1.7" width="5.9" height="3.4" rx="1.7" transform="translate(123.5,506.9) rotate(147)"/><rect x="-2.7" y="-1.5" width="5.4" height="3" rx="1.5" transform="translate(94.8,491) rotate(137)"/><rect x="-2.4" y="-1.5" width="4.9" height="2.9" rx="1.5" transform="translate(160.1,534.6) rotate(43)"/><rect x="-2.8" y="-1.5" width="5.7" height="3" rx="1.5" transform="translate(89,488.4) rotate(172)"/><rect x="-2.7" y="-1.5" width="5.3" height="3" rx="1.5" transform="translate(106.7,514.3) rotate(102)"/><rect x="-2.3" y="-1.5" width="4.6" height="3" rx="1.5" transform="translate(162.1,518) rotate(161)"/><rect x="-2.7" y="-1.8" width="5.5" height="3.5" rx="1.8" transform="translate(93.5,523) rotate(92)"/><rect x="-3.2" y="-1.8" width="6.4" height="3.5" rx="1.8" transform="translate(114.1,528.1) rotate(43)"/><rect x="-3.1" y="-1.7" width="6.1" height="3.3" rx="1.7" transform="translate(138.6,501) rotate(204)"/><rect x="-2.3" y="-1.5" width="4.6" height="3" rx="1.5" transform="translate(168.7,540.3) rotate(2)"/><rect x="-3" y="-1.7" width="6.1" height="3.4" rx="1.7" transform="translate(142.1,523.5) rotate(175)"/><rect x="-3.2" y="-1.7" width="6.4" height="3.5" rx="1.7" transform="translate(160.5,522.3) rotate(117)"/><rect x="-2.6" y="-1.4" width="5.1" height="2.8" rx="1.4" transform="translate(135.6,500.7) rotate(264)"/><rect x="-2.5" y="-1.4" width="5" height="2.8" rx="1.4" transform="translate(152.7,520.9) rotate(196)"/><rect x="-2.7" y="-1.6" width="5.3" height="3.2" rx="1.6" transform="translate(156,535.7) rotate(74)"/><rect x="-3.2" y="-1.7" width="6.3" height="3.4" rx="1.7" transform="translate(163.4,525.2) rotate(77)"/><rect x="-3.2" y="-1.8" width="6.3" height="3.5" rx="1.8" transform="translate(96.3,511.1) rotate(164)"/><rect x="-3.1" y="-1.6" width="6.2" height="3.2" rx="1.6" transform="translate(136.5,489.5) rotate(188)"/><rect x="-3" y="-1.7" width="5.9" height="3.5" rx="1.7" transform="translate(116.9,504.2) rotate(134)"/><rect x="-3.1" y="-1.8" width="6.2" height="3.6" rx="1.8" transform="translate(120.2,490.4) rotate(130)"/><rect x="-2.6" y="-1.6" width="5.2" height="3.2" rx="1.6" transform="translate(118.1,516.6) rotate(147)"/><rect x="-2.8" y="-1.7" width="5.5" height="3.4" rx="1.7" transform="translate(111.6,494.9) rotate(92)"/><rect x="-2.9" y="-1.4" width="5.9" height="2.8" rx="1.4" transform="translate(103,497.2) rotate(121)"/><rect x="-2.7" y="-1.5" width="5.4" height="3" rx="1.5" transform="translate(96.6,525.9) rotate(111)"/><rect x="-2.4" y="-1.8" width="4.9" height="3.5" rx="1.8" transform="translate(104.7,497.9) rotate(97)"/><rect x="-2.9" y="-1.5" width="5.9" height="2.9" rx="1.5" transform="translate(137.5,501.7) rotate(256)"/><rect x="-3" y="-1.5" width="6" height="3" rx="1.5" transform="translate(128.9,490.2) rotate(148)"/><rect x="-2.3" y="-1.7" width="4.6" height="3.4" rx="1.7" transform="translate(92.7,523.1) rotate(158)"/><rect x="-2.5" y="-1.7" width="5" height="3.3" rx="1.7" transform="translate(87.6,499.3) rotate(226)"/><rect x="-3.2" y="-1.4" width="6.3" height="2.9" rx="1.4" transform="translate(180.3,537.1) rotate(33)"/><rect x="-2.4" y="-1.4" width="4.7" height="2.8" rx="1.4" transform="translate(184,514.2) rotate(178)"/><rect x="-2.5" y="-1.5" width="4.9" height="2.9" rx="1.5" transform="translate(132,534) rotate(132)"/><rect x="-3.1" y="-1.6" width="6.2" height="3.3" rx="1.6" transform="translate(141.8,513.1) rotate(260)"/><rect x="-2.8" y="-1.6" width="5.7" height="3.2" rx="1.6" transform="translate(135.9,538.6) rotate(132)"/><rect x="-2.3" y="-1.7" width="4.6" height="3.3" rx="1.7" transform="translate(162.6,499.5) rotate(141)"/><rect x="-2.8" y="-1.7" width="5.6" height="3.4" rx="1.7" transform="translate(96.1,505.1) rotate(154)"/><rect x="-2.4" y="-1.8" width="4.9" height="3.6" rx="1.8" transform="translate(134.8,534.7) rotate(134)"/><rect x="-2.5" y="-1.6" width="5.1" height="3.1" rx="1.6" transform="translate(122.5,537) rotate(16)"/><rect x="-3.1" y="-1.6" width="6.3" height="3.2" rx="1.6" transform="translate(135.3,509.2) rotate(257)"/><rect x="-2.4" y="-1.5" width="4.7" height="3" rx="1.5" transform="translate(112.5,507.1) rotate(137)"/><rect x="-3.1" y="-1.4" width="6.1" height="2.9" rx="1.4" transform="translate(168,526) rotate(50)"/><rect x="-3" y="-1.6" width="5.9" height="3.1" rx="1.6" transform="translate(89.8,520.1) rotate(175)"/><rect x="-3" y="-1.7" width="6.1" height="3.4" rx="1.7" transform="translate(169.3,508) rotate(129)"/><rect x="-3.2" y="-1.6" width="6.4" height="3.1" rx="1.6" transform="translate(89.3,504.4) rotate(211)"/><rect x="-2.8" y="-1.5" width="5.6" height="3.1" rx="1.5" transform="translate(102.9,514.2) rotate(135)"/><rect x="-2.3" y="-1.5" width="4.7" height="3" rx="1.5" transform="translate(165,504.3) rotate(121)"/><rect x="-2.7" y="-1.8" width="5.5" height="3.5" rx="1.8" transform="translate(142,497.8) rotate(294)"/><rect x="-2.9" y="-1.7" width="5.8" height="3.4" rx="1.7" transform="translate(113.2,522.4) rotate(55)"/><rect x="-2.7" y="-1.7" width="5.5" height="3.5" rx="1.7" transform="translate(153.6,521.4) rotate(183)"/><rect x="-2.5" y="-1.7" width="5.1" height="3.3" rx="1.7" transform="translate(126.2,501.6) rotate(200)"/><rect x="-3.1" y="-1.4" width="6.2" height="2.8" rx="1.4" transform="translate(112.1,528.9) rotate(39)"/><rect x="-2.3" y="-1.6" width="4.6" height="3.3" rx="1.6" transform="translate(156.3,514) rotate(224)"/><rect x="-2.9" y="-1.5" width="5.8" height="3.1" rx="1.5" transform="translate(96.2,529.2) rotate(95)"/><rect x="-3.1" y="-1.7" width="6.2" height="3.4" rx="1.7" transform="translate(151.4,518.1) rotate(192)"/><rect x="-3.1" y="-1.6" width="6.1" height="3.2" rx="1.6" transform="translate(99.7,520.4) rotate(88)"/><rect x="-3.2" y="-1.5" width="6.4" height="3" rx="1.5" transform="translate(157.4,499.6) rotate(213)"/><rect x="-3" y="-1.5" width="6.1" height="2.9" rx="1.5" transform="translate(164.3,516.7) rotate(132)"/><rect x="-2.6" y="-1.8" width="5.3" height="3.5" rx="1.8" transform="translate(163.1,509.4) rotate(177)"/><rect x="-2.5" y="-1.7" width="5.1" height="3.4" rx="1.7" transform="translate(160,490.1) rotate(97)"/><rect x="-2.9" y="-1.4" width="5.8" height="2.8" rx="1.4" transform="translate(119.4,519.2) rotate(115)"/><rect x="-3.2" y="-1.6" width="6.4" height="3.1" rx="1.6" transform="translate(100.1,520.4) rotate(131)"/><rect x="-3" y="-1.7" width="5.9" height="3.3" rx="1.7" transform="translate(181.5,522.5) rotate(75)"/><rect x="-2.7" y="-1.5" width="5.4" height="3" rx="1.5" transform="translate(161.6,496.8) rotate(179)"/><rect x="-2.3" y="-1.4" width="4.6" height="2.9" rx="1.4" transform="translate(112.6,531.2) rotate(41)"/><rect x="-2.3" y="-1.6" width="4.5" height="3.2" rx="1.6" transform="translate(96.3,531) rotate(99)"/><rect x="-3.2" y="-1.6" width="6.4" height="3.2" rx="1.6" transform="translate(149.6,488.7) rotate(176)"/><rect x="-2.9" y="-1.7" width="5.8" height="3.4" rx="1.7" transform="translate(144.3,506.8) rotate(233)"/><rect x="-3.1" y="-1.6" width="6.3" height="3.1" rx="1.6" transform="translate(177,533.2) rotate(47)"/><rect x="-2.8" y="-1.7" width="5.6" height="3.5" rx="1.7" transform="translate(130.5,495.5) rotate(183)"/><rect x="-2.4" y="-1.6" width="4.9" height="3.3" rx="1.6" transform="translate(146.6,536.6) rotate(119)"/><rect x="-3.1" y="-1.7" width="6.1" height="3.3" rx="1.7" transform="translate(185,535.7) rotate(38)"/><rect x="-2.6" y="-1.7" width="5.2" height="3.5" rx="1.7" transform="translate(133.5,488.3) rotate(188)"/><rect x="-3" y="-1.5" width="5.9" height="3" rx="1.5" transform="translate(130.9,538.3) rotate(92)"/><rect x="-3.1" y="-1.5" width="6.3" height="3" rx="1.5" transform="translate(187.6,539) rotate(75)"/><rect x="-3.1" y="-1.7" width="6.3" height="3.4" rx="1.7" transform="translate(147.8,510) rotate(264)"/><rect x="-2.8" y="-1.6" width="5.5" height="3.1" rx="1.6" transform="translate(87.9,535.6) rotate(116)"/><rect x="-3.1" y="-1.7" width="6.2" height="3.4" rx="1.7" transform="translate(137.5,488.7) rotate(168)"/><rect x="-2.5" y="-1.5" width="5" height="3" rx="1.5" transform="translate(132.7,529.8) rotate(108)"/><rect x="-3" y="-1.4" width="6" height="2.8" rx="1.4" transform="translate(131.7,526.9) rotate(139)"/><rect x="-2.3" y="-1.7" width="4.6" height="3.4" rx="1.7" transform="translate(96.2,504.5) rotate(197)"/></g>
<path d="M147.5,513.8h0M183.9,526.4h0M148.3,521.9h0M156.3,496.2h0M105.7,524.2h0M117.1,532.9h0M134.5,491.9h0M95.8,522.8h0M119.6,520h0M181.9,523h0M181.7,529.9h0M176.3,527.7h0M164.6,525h0M122.1,507.4h0M131.7,537.5h0M150.2,500.3h0M135.7,517.5h0M145.9,534.8h0M136.1,499.4h0M123.4,501.6h0M112.4,523.5h0M138.2,537.5h0M156.6,519.7h0M167.7,509.5h0M129.9,521.6h0M144.4,534h0M130.2,521.4h0M144.3,491.9h0M117.7,489.8h0M137.6,524.5h0M131,515.1h0M155.1,509.5h0M169.6,509.7h0M112.7,527.6h0M120.4,505.5h0M185.7,523h0M158,514.4h0M137.3,522.4h0M144.1,508.2h0M119.9,516.9h0M139.1,539h0M99.2,488.2h0M115.4,539h0M98.2,537.2h0M153.8,522.8h0M113.1,487.9h0M123.5,506.9h0M94.8,491h0M160.1,534.6h0M89,488.4h0M138.6,501h0M135.6,500.7h0M152.7,520.9h0M156,535.7h0M96.3,511.1h0M116.9,504.2h0M111.6,494.9h0M104.7,497.9h0M92.7,523.1h0M87.6,499.3h0M180.3,537.1h0M184,514.2h0M141.8,513.1h0M135.9,538.6h0M162.6,499.5h0M134.8,534.7h0M112.5,507.1h0M168,526h0M89.3,504.4h0M102.9,514.2h0M165,504.3h0M113.2,522.4h0M153.6,521.4h0M126.2,501.6h0M112.1,528.9h0M96.2,529.2h0M151.4,518.1h0M99.7,520.4h0M164.3,516.7h0M160,490.1h0M100.1,520.4h0M181.5,522.5h0M161.6,496.8h0M96.3,531h0M149.6,488.7h0M177,533.2h0M130.5,495.5h0M133.5,488.3h0M130.9,538.3h0M187.6,539h0M132.7,529.8h0M131.7,526.9h0" stroke="#22d822" stroke-width="1.9" stroke-linecap="round" filter="url(#b3)"/>
</g>
<clipPath id="c22"><rect x="187" y="392" width="96.8" height="47.8"/></clipPath>
<g clip-path="url(#c22)"><rect x="187" y="392" width="96.8" height="47.8" fill="#020a02"/>
<path d="M201,418.1l-0.9,1M208.2,406.4l-0.6,0.5M258.9,421.8l1.8,0.4M254.3,404.9l2.1,0.2M242.5,421.5l0.7,-0.1M215.5,436.8l1.3,1.4M277.3,403.3l-0.1,0.3M277.3,441l1.8,0.8M238.5,419.8l0.3,0M206.4,430.8l-0,0.1M228.5,427.5l1.4,0.7M186.6,394.1l1,1M205.1,424.8l-0.5,1.1M246.9,404.9l0.8,-0.1M277.2,436.2l1.7,1.4M220,404.6l-0.4,2M263,418.8l1.8,1.3M196.5,416.2l-0.2,0.4M241.8,394.2l0.6,-0.4M247.2,417.9l2.5,-0.1M252.3,422.9l1.8,-0.3M277.7,433.4l1.1,1.4M216.8,420.6l-0.5,1.3M271.9,407.7l0.1,0.5M228.2,415.7l0.4,0.9M213.4,412.6l-0.4,0.4M244.9,400l0.1,-0M284.2,427l-0.2,1.1M260.9,423.1l0.3,0.1M208.4,413.6l-1,0.8M220,409.9l-0.2,0.7M203.2,423.8l-0.1,0.1M224.4,394.9l1.3,1.3M235.6,394.6l1.4,-0.3M264.1,434.8l2.2,-0.5M204.7,437.1l1.1,2.2M217.1,394.7l0,0.2M274.8,406.2l-0.1,1.4M246,402.9l1.2,-0.2M208.5,423.2l-0.8,1.4M216,413.7l-1.3,1.8M236.6,423.2l0.1,0M227.4,412.1l0.5,1.4M254.7,434l1,-1.1M223.6,410.3l-0,1.7" stroke="#093409" stroke-width="2.4" stroke-linecap="round" filter="url(#b9)"/>
<path d="M189.6,426.2l0.5,1.2M210.8,397.3l-0.2,0.7M195.1,398.4l-0.1,1.1M226.3,424.2l0.1,0.1M199,424.2l-0.3,0.9M282.4,390.1l0.4,1.4M273.1,391.2l0.9,0.7M191.4,431l0.4,0.5M260.4,396.6l0.4,-0M229.2,416l0.7,1.1M266.5,425.6l0.7,0.4M250.6,422.4l0.8,-0.2M224.4,407.3l0.1,0.6M260.4,395.4l1.4,-0.2M224.4,411.6l0.1,1M206,421.4l-0.6,0.7M196,414.2l-0.1,0.2M238.5,441.1l0.5,-1.2M260.1,416.5l1.1,0.6M206.5,391.9l-0,0M229.5,397.1l0.7,0.4M214.3,405.9l-0.6,0.8M258.3,426l1.2,-0.1M215.2,422.9l-0.4,1.3M269.8,415.3l0.2,0.8" stroke="#136614" stroke-width="1.8" stroke-linecap="round" filter="url(#b9)"/>
</g>
<clipPath id="c23"><rect x="187" y="441" width="96.8" height="48.1"/></clipPath>
<g clip-path="url(#c23)"><rect x="187" y="441" width="96.8" height="48.1" fill="#020702"/>
<path d="M203.9,474.6l1,0.4M282.1,475l0.8,-0.2M199.9,454.8l1.3,1.7M285.2,478.9l0.3,-0.2M257.8,451.2l-0.6,1.9M212.5,449.7l0.4,-0.2M276.8,451.4l0.3,0M198.6,454.6l0.5,1M203.1,471.5l2.1,1.3M268.2,474.8l0.2,0.4M249.9,470l-0.3,0.4M270,448.8l1.5,1M255.8,473.2l-1.1,2M205.8,454.7l1.7,0.5M262.5,464.7l-0.6,1.4M220.4,483.2l1.3,-1.4M184.7,485.9l0.8,2.1M192.5,477.2l0.3,2.3M213.8,456.6l2.2,-0.4M253.4,484.9l0.5,1.8M212.9,476.3l2.2,-0.8M194.4,455.3l0,0.5M205.2,481.8l0.4,-0.1M273,460.1l1.4,1.3M198.5,468.4l0.3,1M189.9,467.7l-1.2,2.1M210.5,485.1l1.3,-1.3M212.2,485.4l0.3,-0.4M212.5,471.8l1.3,-0.1M237.1,468.2l0.4,1.3" stroke="#08300a" stroke-width="2.6" stroke-linecap="round" filter="url(#b9)"/>
<path d="M273.9,472.5l1.2,0.7M213.6,451.6l0.7,-0.3M206,490.6l0.3,-0.4M268.1,456l0.3,1M233,462l0.3,0.4M279.4,446.8l0.5,-0.2M220.5,477.5l0.6,-0.3M275.4,459.3l0.3,0.2M225.9,474.7l0,-0M285.3,485l0,-0M197.4,480.5l0.8,0.7M213.3,456l0.7,-0.1M222,480.1l0.5,-0.3M244.5,470.5l-0.2,0.6M213.1,440.8l0.3,-0.8M239.3,456.1l0.1,0.7M229.7,455.3l0.3,0.1M219.7,483.1l0.7,-0.8M272,485.4l0.9,-0.1M273.2,451.3l0.3,0.1M275.1,470.9l0.8,0.4M260.2,445l0.3,1.2M254.2,464.1l-0.4,0.4M227.1,477.3l0.5,-0M240,452.8l0.2,1M224.5,484.9l0.8,-0.8M206.4,462.5l0.3,0.1M242.1,480.3l0.2,0.5M226.9,485l0.2,-0.2M285.3,479.9l0.9,-0.7M236.6,479.2l0.3,0.3M236.6,473.9l0.3,0.5M255.7,460.8l-0.1,0.1M240.5,489.5l0.8,0.4M249.5,450.3l-0.2,0.7M247.3,485.8l0.2,0.5M254.6,457l-0.6,0.8M191.9,484.5l0.1,0.2M186.9,477.4l-0.1,0.4M236.8,458.1l0.1,0.4M229.4,474.5l0.8,0.2M216.4,462.5l0.2,-0M221,441.1l0.5,-1.3M186.7,475.4l-0.1,0.1M222.7,441.5l0.5,-1M280.3,488.5l0.7,-1.1M281,488.8l0.4,-0.7M225.3,490.5l0.6,-1.3M282.4,454.4l0.9,-0.2M244.8,480.2l0.1,0.7M283.2,440.3l0.4,-1.2M238,457.5l0.2,0.9M198.9,462.1l0.4,1.4M216.1,489.2l0.4,-1.4M248.8,483.2l0.2,1" stroke="#126414" stroke-width="2.2" stroke-linecap="round" filter="url(#b9)"/>
<path d="M265.3,473.4l0,0.3M212.4,468.9l0.4,-0M261.1,454.4l-0,0.1M260,483.3l0.1,0.4M262.4,452.2l-0,0.9M231.9,440.6l1,-0.4M236.3,458.7l0.3,0.8M194.9,466.6l-0.1,1.1M244.4,461.8l-0.4,0.9M210.9,458.7l0.2,0M218.8,453.1l0.6,-0.3M210.9,465l0.9,0.1M255.4,460.3l-0.6,0.6M215.8,488.7l0.3,-1.1M218.8,445.5l0,-0M236.3,451.6l0.2,0.2M219.4,476.9l0.2,-0.1M249,450.4l-0.1,0.3M216,447.7l0.8,-0.8M240.8,482.1l0.4,0.5M259.8,482.2l0.2,0.7M272.6,455.5l0.3,0.3M191.2,471.8l-0.2,0.5M285.3,454.6l0.3,-0.1M198.7,483.4l1.1,0.4M262.2,447.7l0.2,1.1M209.6,454.5l0.3,-0M247.7,450.1l-0.2,0.9M219.5,484.9l0.4,-0.6M275.3,441.9l0.9,-0.5M194.7,472.2l0,1.1M194.1,452.5l0.1,0.8M267.4,489.1l0.7,0.1M204.2,485.3l0.7,-0.2M210.1,474.9l0.5,-0.1" stroke="#1e9620" stroke-width="2.0" stroke-linecap="round" filter="url(#b9)"/>
</g>
<clipPath id="c24"><rect x="187" y="490.4" width="96.8" height="47.4"/></clipPath>
<g clip-path="url(#c24)"><rect x="187" y="490.4" width="96.8" height="47.4" fill="#020a02"/>
<path d="M199.1,506.3l-0,0M229.6,508.8l1,0.6M275.5,494.8l0.1,0.4M235.5,520.5l0.2,0.4M237.3,499.8l0.6,-0.3M203.9,502.7l0.3,0.9M261.5,526.1l-1,1.5M185.2,492l0.1,1M207.7,539.3l0.8,0.6M281.2,531l-1.6,0.6M190,532.5l-1.2,0.9M189.9,528.6l-0.1,0M267,519.6l-1.1,0.3M192.4,531.3l-0.8,0.6M277.4,496.9l-0,0.8M233.3,514.1l0.1,0.1M188.1,497.3l-0.2,1.5M281.4,489.9l0.1,1.2M241.4,519.7l0.3,1.3M255.8,532.2l0.4,1.1M229.3,517.2l0.5,1.2M196.6,538.3l0.1,1.1M237.3,535l1.4,0.1M221,518.9l0,0.4M209.6,506.9l0.2,1M233.6,526.8l0.4,0.4M276.5,508.7l-0.2,0.1M209.8,537.1l1.5,1.1M212.1,532.6l1.1,1.6M220,488.7l0.5,-0.3M233.7,504.3l1.6,0M198.5,538.8l0.4,1.5M210.3,488.6l0.1,0M232.4,505.7l1,0.2M231.5,493.4l0.6,-0.7M218,510.8l0.6,1.6M206.7,492.9l1.6,0.4M284,530.2l-1.8,0.4M278.9,529.9l-0.1,0M194.7,504.7l-0.5,0.9M285.4,521.2l-0.3,-0.2M216.7,518.5l-0.1,0.5M276.8,524.8l-1.2,-0.1M256,517l-0.5,0.9M248.6,514.3l0.1,1.1M233.3,517.4l0.2,0.5M233.4,502.2l1.2,-0.3M255.7,532.4l0.4,0.9M228.7,535.6l1.5,-0M215.5,492.2l0.9,-0.3M233.1,513.6l0.6,0.8M228.1,529.8l0.5,0.4M193.3,517.3l-1.7,-0.2M237.9,506.4l1.7,0.6M210.1,527.3l-0.3,1.9M260.1,522.3l-0.2,0.2M236.9,539.8l1.2,-0.6M211.9,501.7l1.7,1.1M261.7,490.3l0.6,0.3M280.2,495l-0,1.9" stroke="#08340a" stroke-width="2.8" stroke-linecap="round" filter="url(#b9)"/>
<path d="M211.6,501.4l0.3,0.2M227.6,496.5l0.9,-0.8M272.2,505.7l-0.4,0.5M207.2,535.7l0.5,0.9M199.7,534.8l-0.1,0.9M211.8,528l-0,0.3M259.2,493.5l0.2,0.1M277,531.9l-0.9,0.6M226.5,498.7l0.4,-0.2M278.3,514.6l-0.7,-0.1M191.8,528.1l-0.9,0.2M218.7,503.6l0.1,0M218.8,502.9l0.5,0.1M270.9,500.1l0,0.3M253.4,491.4l1,-0.1M191.3,523.2l-0.8,-0.1M260.7,533.9l0.1,0.6M256.4,505.4l0.1,0.2M222.8,518.7l0.1,0.7M223.6,526.4l0.5,0.9M241.2,531.5l0.4,0.2M264.6,508l-0.2,0.5M261.9,519.6l-0.8,0.6M190.5,492.3l0,0.1M218.4,490l0.6,-0.3M251.1,505.2l0.6,0.6M204.8,512.2l-0.4,0.5M239,509.6l0.1,0.1M230.3,511.5l0.7,0.8M272.8,509.5l-0.6,0.3M199.2,499.2l0.3,1M198.8,539.2l0.3,0.9M248.6,500.2l1.1,0.1M186.8,491.1l0.2,1M257.2,536.9l0,0M189.3,488.6l0.2,0.8M201.8,518.7l-0.4,0.2M203.5,514.7l-0,0M189.5,503.9l-0.4,0.5M255.3,530.5l0,0.2M231,498.6l0.5,-0.3M208.2,500.9l0.5,0.5M284.6,515.7l-0.6,-0.2M201.9,525.3l-0.5,0.3M253.8,529.2l0.2,1M259.5,529.2l-0.1,0.5M251.2,500.9l0.7,0.2M199.9,497.1l0.4,0.6M222.2,515l0.2,0.7M208.3,507.9l0,0.3M207.8,514.3l-0.2,0.2M285,537.5l-0.5,0.8M261.6,510.9l-0.1,0.1M253.8,517.4l-0.4,1M257.7,520.8l-0.2,0.3M251.1,494l0.1,-0M262.4,525.1l-0.5,0.6M199.6,502.3l0,0M202.4,528.7l-0.1,0.2M284.6,526.4l-0.7,-0.1M201.1,511.2l-0.4,0.4M257.7,503.6l0.5,1M197.4,529.1l-0.4,0.3M212.5,504.1l0.1,0.1M238.5,507.5l0.8,0.4M229,511.1l0.2,0.2M228.5,524.4l0.5,0.9M270.6,516.6l-1,0.1M233.6,510.9l0.5,0.5M245.4,528.7l0.3,0.4M264.9,517.5l-0.2,0.1M234.7,506.7l0.6,0.2M240.1,532.4l0.4,0.2M200.5,530.5l-0.2,0.4M215.3,517.6l-0,0.2M277.1,513.8l-1,-0.1M250.3,508l0.3,0.5M210.6,526.5l-0.2,0.9M271.3,516.9l-1.1,0.1M201.2,513l-0.3,0.2M270.1,510.8l-0.8,0.5M207.9,494.5l0.6,0.2M233.8,537.5l1.2,-0.3M201.3,502.2l0,0.2M267.2,521.9l-1,0.3M255.6,507.6l0.2,0.8M265.1,496.9l0.3,0.4M206.3,516l-0.6,0.6M260.3,505.8l0.1,0.9M258.1,526.8l-0.2,0.7M242.5,504.7l0.8,0.2M266.2,534l-0,0M239,504.6l0,0M212.4,516.3l-0.3,0.7M273,510.7l-0,0M243.8,514.6l0.2,0.8M212.7,508.4l0.2,0.7M257.7,512.3l-0,0.1M193.6,522.2l-0.7,-0M271.4,520.8l-1.1,0M216.4,494.5l0,-0M248,507.3l0.5,0.5M224.2,491.3l0.8,-0.8M254.4,521.3l-0.3,0.7M245.7,497.2l1.1,-0.4M248.6,504.2l0.7,0.4M250.7,529.9l0.2,0.5M249.2,536.1l0,0M255.7,498.9l0.4,0.2M265.9,504.6l-0.2,1.2M240.1,488.9l0.1,-0.1M224.4,537.3l0.3,-0M214,501.3l0.2,0.1M248.4,496.1l0.7,-0.2M272.3,491.7l0.4,0.9M198.4,531.8l-0.3,0.5M221.2,522.7l0.2,1.1M186.7,494.9l0,0.7M260.9,491.6l0,0M247,520.9l0,0.3M279.7,499.9l-0.1,0.3M274.2,527.2l-0.5,0.1M280.1,535l-0.3,0.3M195,515l-0.6,0.1M193.7,532.2l-0,0M283.5,506.1l-0.2,0.1M261.8,513.2l-0.2,0.3M283.6,490.1l0.1,1.1M213.6,513.9l-0,0.2M201.1,510.4l-0.8,0.8" stroke="#126214" stroke-width="2.2" stroke-linecap="round" filter="url(#b9)"/>
<path d="M192.2,497.8l0,0.7M250.1,525l0,0.7M190.8,520.6l-0.5,-0.1M191.5,523.2l-0.2,-0M214.8,501.9l0.7,0.3M218.1,494.7l0.9,-0.4M245,531.4l0.7,0.6M263.9,513.8l-0,0M234.2,539.7l0.2,-0.1M279.6,494.1l0.1,0.7M232.4,490.3l0.5,-0.6M238.6,538.2l0.6,-0.2M264.2,497.2l0.2,0.2M221,528.6l0.1,0.2M215.4,492.5l0.7,-0.2M249.5,531.5l0.4,0.5M214.8,527.6l0,0.2M209.8,502.1l0.2,0.2M217,502.1l0.3,0.1M278.7,509.6l-0.8,0.2M224.9,530.7l0.5,0.4M245.8,517.8l0.1,0.9M245.2,497.5l0.5,-0.2M192.2,513.6l-0.3,0M210.7,522.9l-0.2,0.4M236.7,513.7l0.4,0.7M273.4,532l-0.3,0.3M253.1,522.6l-0.1,0.4M247.4,502.6l0,0M214,502.5l0.1,0M268.1,517.6l-0.3,0.1M243.1,522l0.2,0.8M206.5,501.8l0.5,0.8M214.1,519.5l-0.2,0.6M282.9,508.2l-0.5,0.1" stroke="#1e9420" stroke-width="1.9" stroke-linecap="round" filter="url(#b9)"/>
</g>
<clipPath id="c25"><rect x="285" y="392" width="97.6" height="47.8"/></clipPath>
<g clip-path="url(#c25)"><rect x="285" y="392" width="97.6" height="47.8" fill="#3e7cb0"/>
<path d="M325.5,400.3l-3.6,-0M350.6,430.5l3.4,1.8M361.4,426.2l0,3.8M343.4,425.5l2.9,2.4M353.3,427.9l3.3,2.4M366,419l-1.9,3.5M336.9,417.7l3,1.4M351.8,415.5l1.3,3.2M355.7,401.7l-3.8,2.1M310.7,421.7l-2.2,2.8M312.2,433.8l1.2,3M375.5,424.6l-2.5,2.7M368.4,397.2l-3.1,-3M309,418.2l-3.2,0.6M372.8,409.5l-3,1.3M305.3,392.4l-1.6,-3M327.9,390.8l-2.7,2.5M305.3,420l-2.4,2.1M339.3,419.3l3,1.5M298,432.8l-2.6,2.6M383,420l-2.3,2.2M320.3,414.2l-2.2,3M296.4,396.4l-3.5,-2M363,397.3l-3.7,-1.1M365.2,428.9l2.7,2.6M291,415.9l-3.6,2M369.4,424.1l-1.7,3.2M284.2,405.2l-3,0.6M365.6,408.3l-2.6,3.2M356.8,421.4l0,4M304.8,428.2l-0.5,3.5M368.7,399.2l-3.5,-2.2" stroke="#70aad6" stroke-width="2.8" stroke-linecap="round" fill="none" filter="url(#b6)" opacity="0.7" transform="translate(0.5,0.6)"/>
<path d="M325.5,400.3l-3.6,-0M350.6,430.5l3.4,1.8M361.4,426.2l0,3.8M343.4,425.5l2.9,2.4M353.3,427.9l3.3,2.4M366,419l-1.9,3.5M336.9,417.7l3,1.4M351.8,415.5l1.3,3.2M355.7,401.7l-3.8,2.1M310.7,421.7l-2.2,2.8M312.2,433.8l1.2,3M375.5,424.6l-2.5,2.7M368.4,397.2l-3.1,-3M309,418.2l-3.2,0.6M372.8,409.5l-3,1.3M305.3,392.4l-1.6,-3M327.9,390.8l-2.7,2.5M305.3,420l-2.4,2.1M339.3,419.3l3,1.5M298,432.8l-2.6,2.6M383,420l-2.3,2.2M320.3,414.2l-2.2,3M296.4,396.4l-3.5,-2M363,397.3l-3.7,-1.1M365.2,428.9l2.7,2.6M291,415.9l-3.6,2M369.4,424.1l-1.7,3.2M284.2,405.2l-3,0.6M365.6,408.3l-2.6,3.2M356.8,421.4l0,4M304.8,428.2l-0.5,3.5M368.7,399.2l-3.5,-2.2" stroke="#1a466e" stroke-width="1.6" stroke-linecap="round" fill="none" filter="url(#b3)"/>
</g>
<clipPath id="c26"><rect x="285" y="441" width="97.6" height="48.1"/></clipPath>
<g clip-path="url(#c26)"><rect x="285" y="441" width="97.6" height="48.1" fill="#3876ac"/>
<path d="M300.6,447.5l2.5,2.1M354.4,455.7l-0.2,2.8M377.6,466.9l2.1,-2.6M361.3,458.7l2.3,1.8M374.8,455.9l3.8,0.4M381.7,477.6l-1.3,-2.8M326.4,488.2l1.8,2.3M310.3,444.5l1.2,3.3M301.2,457l1.3,3.2M346.5,472.8l3,1.1M352.5,466.6l3.6,1.6M349.5,475.3l2.8,0.2M332.4,437.4l1.7,2.8M307.8,475.4l2.3,-1.6M363.4,463.7l3,0.2M283.6,442.6l2.4,-1.2M320.6,465.3l1.1,2.9M362.3,473.8l2.3,-1.5M334.8,469.2l2.5,1.7M296.2,475.4l0.8,-2.4M344,452.5l-3.1,1.7M299,478.6l0.1,-3.5M306.6,477.6l3.1,-1.2M301.3,455.4l1.5,2.9M343.7,461l0.7,2.6M358.4,438.3l3.6,1.5M351.6,442.1l0.3,2.7M332.8,467.6l0.6,2.5M299.5,461.3l3.6,-1.5M384.5,482l-1.4,-3.3M327.6,437.3l0.2,3.8M344.6,454.3l0.4,2.7M286.9,467.1l2.7,-0.7M314.3,455.2l-0.6,3.2M381.4,475.3l2.1,-2.9M322.7,467.4l1.5,2.3M357.8,485l3.3,-0.7M286.1,451.9l2.8,0.8M357.9,452.9l-0.9,3.6M291.7,480.5l0.8,-3.5M303.2,489.5l3.5,-1.8M367.7,447.2l2,2.4M292.2,447.9l3.2,1.5M342.5,458.8l-1.8,2.4M299.6,469l3.1,-1.2M303.9,464.6l2.9,-0.4M368.4,446.2l2.9,0.4M352.5,488l2.7,0.5M312.6,487.7l3.1,-0M379.7,456.1l2.5,-0.5M363.1,453.2l1.3,2.2M346.6,489.6l0.7,3.7M287.2,456.4l3.6,1.2M358.4,438.6l3.1,0.3M317.6,482l3.4,0.2M355.7,485l3,0.5M349.2,487.9l3.7,-0.8M329.9,482.2l1.4,2.7M306.5,480l1.4,-3.1M285.1,487.2l-1.8,-2.4M336.9,452.5l-3.5,0.9M317.3,462.2l1.7,2.5M363.2,442.2l2.5,2.6M289.5,490.6l1.7,-2.1M337.4,488.8l2.9,2.1M328.9,436.9l2.3,2.5M292.5,442.6l3.9,-0.3M359.5,453.2l0.2,3.9M290,447.9l2.3,-1.2M295.2,447.8l1.9,2.1" stroke="#68a6d6" stroke-width="2.8" stroke-linecap="round" fill="none" filter="url(#b6)" opacity="0.7" transform="translate(0.5,0.6)"/>
<path d="M300.6,447.5l2.5,2.1M354.4,455.7l-0.2,2.8M377.6,466.9l2.1,-2.6M361.3,458.7l2.3,1.8M374.8,455.9l3.8,0.4M381.7,477.6l-1.3,-2.8M326.4,488.2l1.8,2.3M310.3,444.5l1.2,3.3M301.2,457l1.3,3.2M346.5,472.8l3,1.1M352.5,466.6l3.6,1.6M349.5,475.3l2.8,0.2M332.4,437.4l1.7,2.8M307.8,475.4l2.3,-1.6M363.4,463.7l3,0.2M283.6,442.6l2.4,-1.2M320.6,465.3l1.1,2.9M362.3,473.8l2.3,-1.5M334.8,469.2l2.5,1.7M296.2,475.4l0.8,-2.4M344,452.5l-3.1,1.7M299,478.6l0.1,-3.5M306.6,477.6l3.1,-1.2M301.3,455.4l1.5,2.9M343.7,461l0.7,2.6M358.4,438.3l3.6,1.5M351.6,442.1l0.3,2.7M332.8,467.6l0.6,2.5M299.5,461.3l3.6,-1.5M384.5,482l-1.4,-3.3M327.6,437.3l0.2,3.8M344.6,454.3l0.4,2.7M286.9,467.1l2.7,-0.7M314.3,455.2l-0.6,3.2M381.4,475.3l2.1,-2.9M322.7,467.4l1.5,2.3M357.8,485l3.3,-0.7M286.1,451.9l2.8,0.8M357.9,452.9l-0.9,3.6M291.7,480.5l0.8,-3.5M303.2,489.5l3.5,-1.8M367.7,447.2l2,2.4M292.2,447.9l3.2,1.5M342.5,458.8l-1.8,2.4M299.6,469l3.1,-1.2M303.9,464.6l2.9,-0.4M368.4,446.2l2.9,0.4M352.5,488l2.7,0.5M312.6,487.7l3.1,-0M379.7,456.1l2.5,-0.5M363.1,453.2l1.3,2.2M346.6,489.6l0.7,3.7M287.2,456.4l3.6,1.2M358.4,438.6l3.1,0.3M317.6,482l3.4,0.2M355.7,485l3,0.5M349.2,487.9l3.7,-0.8M329.9,482.2l1.4,2.7M306.5,480l1.4,-3.1M285.1,487.2l-1.8,-2.4M336.9,452.5l-3.5,0.9M317.3,462.2l1.7,2.5M363.2,442.2l2.5,2.6M289.5,490.6l1.7,-2.1M337.4,488.8l2.9,2.1M328.9,436.9l2.3,2.5M292.5,442.6l3.9,-0.3M359.5,453.2l0.2,3.9M290,447.9l2.3,-1.2M295.2,447.8l1.9,2.1" stroke="#18406a" stroke-width="1.6" stroke-linecap="round" fill="none" filter="url(#b3)"/>
</g>
<clipPath id="c27"><rect x="285" y="490.4" width="97.6" height="47.4"/></clipPath>
<g clip-path="url(#c27)"><rect x="285" y="490.4" width="97.6" height="47.4" fill="#3470a6"/>
<path d="M311.8,521.7l1,1.6M310.8,515.2l-0.1,1.5M307.5,529.8l1.1,0.8M380.3,496.8l-1,1.7M311.4,502.9l-1.2,1.2M316.2,491.2l-2,1.5M317.7,504l-0.8,1.7M306.8,528l1.2,1.9M331.3,489.2l0.4,2.4M377.8,536.4l1.9,1.1M347.6,513.1l0.1,1.6M334.8,511.4l1.8,-0.4M292.1,516.6l0.5,1.6M287.7,503.3l-2.5,0.6M374.1,522.9l1,1M320.2,526.9l2.1,-0.9M368.8,518.2l0.3,2.2M319.4,525.8l1.9,-0.5M364.9,526.5l-0.5,1.9M321.5,535.3l2.4,-0.1M372.8,539.6l0.1,2.1M363.9,499l-1.3,0.7M328,526.3l1.8,-1.3M356.5,490.2l-2.1,-0.1M317.5,497.1l-1.3,1.2M349.8,538.1l0.2,1.7M350,522l2,1.4M361.2,523.5l-1.3,1.4M376.8,495.3l-2.1,-0.5M292,530.2l0.9,2.1M315.5,539.1l1.1,1.9M311.7,510.7l0.5,1.6M369,537.5l0.1,1.7M346.4,496.5l-1.2,1.5M296.4,537.3l-0,1.6M366.5,536.2l-0.2,1.5M379.2,498l-1.7,1.3M283.1,504.7l-2,1.5M289.9,510.1l-1.1,1.3M352.8,503.8l-2.2,0.9M287.2,506.3l-1.1,1.1M286.9,528.9l-0.3,1.4M373.6,532l1.5,1.1M300.4,491l-1,-1.1M377.6,503l-1,1.5M282,514.6l0.2,2.5M328.9,530.2l0.8,-1.5M292.2,499.5l-1.8,0.7M375.9,493.5l-2,0.8M357.1,528.3l0.1,1.5M363.8,531.8l-0.6,1.5M379.3,526.6l2.1,-1.1M325.9,534.6l1.4,-0.9M293.1,498.4l-1.7,-0.8M339.6,487.3l-0.4,1.5M356.1,532.6l0.8,2M371.9,509.3l-1,1.1M359.7,526.4l-0.4,2.2M287.4,507.2l-0.5,1.7M336.7,526.4l1.5,-1.5M302.3,526.4l-0.8,2.3M289,520.3l-0.4,1.9M354.1,530.6l0.8,1.6M317.9,494.4l-0.5,2.1M311,507.3l0.8,2.2M378.8,492l-2.1,-0.3M360.6,537.5l-1.4,1.8M374.3,534.5l0.5,2.4M292.2,521.5l-0.2,2.1M309,532.2l0.5,1.9M346.7,507.2l-0.3,2.6M310.4,525.8l1,1.2M341.1,500l-0.1,2.1M293,494.3l-0.7,-1.5M352,512.2l-0.5,1.9M356.1,502.2l-1.9,1.5M382,512.1l0.8,1.4M340.6,496l0.7,1.9M374.6,521.9l1.1,1.3M324.7,534.3l2,-0.2M320.7,506.7l1.7,0.1M376.9,530.3l1.3,1.8M371.9,513.5l-1.2,2.3M369.3,505.3l-1.8,0.5M338.7,529.6l2.3,0.8M375.2,527.7l0.8,1.9M315.8,520.9l1.6,1M372.9,494.9l-2.1,-0.2M341,512.2l2.2,1.3M354.1,490.8l-1.5,-0.6M327.6,500.2l1,1.3M358.1,518.6l-0.3,1.6M381.1,536.3l2,-0.1M372,513l-0.2,1.6M383.1,494.7l-1.1,1.1M369.3,489.7l-1.9,-1.4M354.1,523.4l1,1.9M315.5,537l2.5,0.5M349.3,516.1l0.2,1.5M384.2,514l2,1M346,538.9l1.8,0.9M381,493.6l-2.1,1M380.3,504.6l0.4,2M311,497.8l-1.8,0.1M354.9,501.3l-1.6,0.1M343.6,501.8l-0.3,1.5M303.5,510l-1.5,0.6M314.6,496.9l-0.7,2.2M349,506.4l1.4,1.9M370,512.9l-0.2,2.3M346.5,505l-0.3,1.5M353.8,508.8l-0.7,1.9M314.3,510.8l1.3,1.4M381.5,534.7l2.3,-0.6M375,502.4l0,1.8M288.1,506.1l-0.4,2.4M379.2,507.5l1.1,1.1M340,497.3l0.4,1.4M294.5,518.3l-0.6,2.1M380.5,503.9l-1.3,2M357.6,493.9l-1.6,0.6M307.1,535.9l0.4,1.4M287.6,531.4l0.4,2M359.2,539.7l-0.9,1.3M372.8,510.5l-0.8,2.1M335.2,492l1.9,1.6M374.8,488.7l-1.8,0.1M314.3,525.2l0.9,1.2M322.4,500.3l1.5,1.7M298.6,507.9l-2.2,0.3M372.3,536.5l0,2.2M371.5,539.2l-0,1.7M360.6,503.2l-2.3,0.9M330.3,519.4l1.2,-1M304.6,527.7l-0.3,2M342.4,527.8l1.7,0.1M371.6,495.1l-1.9,-0.2M355.5,500l-2.4,0.5M308.5,504l-1.2,0.9M352.6,507.8l-0,1.6M304.8,511.2l-0.6,2.1M332.2,491l1.3,1.8M320.1,495.2l-1.9,1.7M302.7,527.2l-0.9,2.2M367.6,529.5l-1.1,1.5M329.4,531l1.2,-1.4M304.6,515.2l-1.5,1.3M321.5,500.8l0.1,1.8M384,533l2.2,-0.2M375.7,497.2l-1.5,1M358.1,531.5l-0.9,2M309.1,539.7l-0,1.4M309,526.2l1.1,1M303.8,504.1l-2.1,-0M332.4,496.3l0.8,1.3M329.3,508.8l2.5,-0.7M378.5,525.5l0.5,2.1M348.4,520.4l1.2,1.2M380.7,508.8l0.2,1.8M361,511.7l-1.2,1M323,506.7l2.2,1M345.2,520l1.3,1.1M341.1,499.3l0.4,2.2M287.3,536.9l-0.4,1.6M338.5,539.5l2.2,-0.5M318.8,530.3l2.5,0.1M329.3,516l1.7,0.3M302.9,495.1l-2.3,-0.1M381.1,513.4l1.1,1.1M374.9,504.5l-0.7,1.6" stroke="#609ece" stroke-width="2.8" stroke-linecap="round" fill="none" filter="url(#b6)" opacity="0.7" transform="translate(0.5,0.6)"/>
<path d="M311.8,521.7l1,1.6M310.8,515.2l-0.1,1.5M307.5,529.8l1.1,0.8M380.3,496.8l-1,1.7M311.4,502.9l-1.2,1.2M316.2,491.2l-2,1.5M317.7,504l-0.8,1.7M306.8,528l1.2,1.9M331.3,489.2l0.4,2.4M377.8,536.4l1.9,1.1M347.6,513.1l0.1,1.6M334.8,511.4l1.8,-0.4M292.1,516.6l0.5,1.6M287.7,503.3l-2.5,0.6M374.1,522.9l1,1M320.2,526.9l2.1,-0.9M368.8,518.2l0.3,2.2M319.4,525.8l1.9,-0.5M364.9,526.5l-0.5,1.9M321.5,535.3l2.4,-0.1M372.8,539.6l0.1,2.1M363.9,499l-1.3,0.7M328,526.3l1.8,-1.3M356.5,490.2l-2.1,-0.1M317.5,497.1l-1.3,1.2M349.8,538.1l0.2,1.7M350,522l2,1.4M361.2,523.5l-1.3,1.4M376.8,495.3l-2.1,-0.5M292,530.2l0.9,2.1M315.5,539.1l1.1,1.9M311.7,510.7l0.5,1.6M369,537.5l0.1,1.7M346.4,496.5l-1.2,1.5M296.4,537.3l-0,1.6M366.5,536.2l-0.2,1.5M379.2,498l-1.7,1.3M283.1,504.7l-2,1.5M289.9,510.1l-1.1,1.3M352.8,503.8l-2.2,0.9M287.2,506.3l-1.1,1.1M286.9,528.9l-0.3,1.4M373.6,532l1.5,1.1M300.4,491l-1,-1.1M377.6,503l-1,1.5M282,514.6l0.2,2.5M328.9,530.2l0.8,-1.5M292.2,499.5l-1.8,0.7M375.9,493.5l-2,0.8M357.1,528.3l0.1,1.5M363.8,531.8l-0.6,1.5M379.3,526.6l2.1,-1.1M325.9,534.6l1.4,-0.9M293.1,498.4l-1.7,-0.8M339.6,487.3l-0.4,1.5M356.1,532.6l0.8,2M371.9,509.3l-1,1.1M359.7,526.4l-0.4,2.2M287.4,507.2l-0.5,1.7M336.7,526.4l1.5,-1.5M302.3,526.4l-0.8,2.3M289,520.3l-0.4,1.9M354.1,530.6l0.8,1.6M317.9,494.4l-0.5,2.1M311,507.3l0.8,2.2M378.8,492l-2.1,-0.3M360.6,537.5l-1.4,1.8M374.3,534.5l0.5,2.4M292.2,521.5l-0.2,2.1M309,532.2l0.5,1.9M346.7,507.2l-0.3,2.6M310.4,525.8l1,1.2M341.1,500l-0.1,2.1M293,494.3l-0.7,-1.5M352,512.2l-0.5,1.9M356.1,502.2l-1.9,1.5M382,512.1l0.8,1.4M340.6,496l0.7,1.9M374.6,521.9l1.1,1.3M324.7,534.3l2,-0.2M320.7,506.7l1.7,0.1M376.9,530.3l1.3,1.8M371.9,513.5l-1.2,2.3M369.3,505.3l-1.8,0.5M338.7,529.6l2.3,0.8M375.2,527.7l0.8,1.9M315.8,520.9l1.6,1M372.9,494.9l-2.1,-0.2M341,512.2l2.2,1.3M354.1,490.8l-1.5,-0.6M327.6,500.2l1,1.3M358.1,518.6l-0.3,1.6M381.1,536.3l2,-0.1M372,513l-0.2,1.6M383.1,494.7l-1.1,1.1M369.3,489.7l-1.9,-1.4M354.1,523.4l1,1.9M315.5,537l2.5,0.5M349.3,516.1l0.2,1.5M384.2,514l2,1M346,538.9l1.8,0.9M381,493.6l-2.1,1M380.3,504.6l0.4,2M311,497.8l-1.8,0.1M354.9,501.3l-1.6,0.1M343.6,501.8l-0.3,1.5M303.5,510l-1.5,0.6M314.6,496.9l-0.7,2.2M349,506.4l1.4,1.9M370,512.9l-0.2,2.3M346.5,505l-0.3,1.5M353.8,508.8l-0.7,1.9M314.3,510.8l1.3,1.4M381.5,534.7l2.3,-0.6M375,502.4l0,1.8M288.1,506.1l-0.4,2.4M379.2,507.5l1.1,1.1M340,497.3l0.4,1.4M294.5,518.3l-0.6,2.1M380.5,503.9l-1.3,2M357.6,493.9l-1.6,0.6M307.1,535.9l0.4,1.4M287.6,531.4l0.4,2M359.2,539.7l-0.9,1.3M372.8,510.5l-0.8,2.1M335.2,492l1.9,1.6M374.8,488.7l-1.8,0.1M314.3,525.2l0.9,1.2M322.4,500.3l1.5,1.7M298.6,507.9l-2.2,0.3M372.3,536.5l0,2.2M371.5,539.2l-0,1.7M360.6,503.2l-2.3,0.9M330.3,519.4l1.2,-1M304.6,527.7l-0.3,2M342.4,527.8l1.7,0.1M371.6,495.1l-1.9,-0.2M355.5,500l-2.4,0.5M308.5,504l-1.2,0.9M352.6,507.8l-0,1.6M304.8,511.2l-0.6,2.1M332.2,491l1.3,1.8M320.1,495.2l-1.9,1.7M302.7,527.2l-0.9,2.2M367.6,529.5l-1.1,1.5M329.4,531l1.2,-1.4M304.6,515.2l-1.5,1.3M321.5,500.8l0.1,1.8M384,533l2.2,-0.2M375.7,497.2l-1.5,1M358.1,531.5l-0.9,2M309.1,539.7l-0,1.4M309,526.2l1.1,1M303.8,504.1l-2.1,-0M332.4,496.3l0.8,1.3M329.3,508.8l2.5,-0.7M378.5,525.5l0.5,2.1M348.4,520.4l1.2,1.2M380.7,508.8l0.2,1.8M361,511.7l-1.2,1M323,506.7l2.2,1M345.2,520l1.3,1.1M341.1,499.3l0.4,2.2M287.3,536.9l-0.4,1.6M338.5,539.5l2.2,-0.5M318.8,530.3l2.5,0.1M329.3,516l1.7,0.3M302.9,495.1l-2.3,-0.1M381.1,513.4l1.1,1.1M374.9,504.5l-0.7,1.6" stroke="#143a60" stroke-width="1.6" stroke-linecap="round" fill="none" filter="url(#b3)"/>
</g>
<rect x="364.2" y="354.8" width="14.2" height="2" fill="#fff"/>
<text x="371.5" y="365.1" font-family="'Liberation Sans', Arial, sans-serif" font-size="8.2" font-weight="bold" font-style="normal" text-anchor="middle" fill="#fff" >5 µm</text>
<rect x="364.2" y="525.3" width="14.2" height="2" fill="#fff"/>
<text x="371.5" y="535.6" font-family="'Liberation Sans', Arial, sans-serif" font-size="8.2" font-weight="bold" font-style="normal" text-anchor="middle" fill="#fff" >5 µm</text>
<text x="136.9" y="168" font-family="'Liberation Sans', Arial, sans-serif" font-size="8.5" font-weight="bold" font-style="normal" text-anchor="middle" fill="#000" >merge</text>
<text x="236.4" y="168" font-family="'Liberation Sans', Arial, sans-serif" font-size="8.5" font-weight="bold" font-style="normal" text-anchor="middle" fill="#1ecb1e" >YFP-ParB</text>
<text x="335.9" y="168" font-family="'Liberation Sans', Arial, sans-serif" font-size="8.7" font-weight="bold" font-style="normal" text-anchor="middle" fill="#000" >brightfield</text>
<text x="135.9" y="388.5" font-family="'Liberation Sans', Arial, sans-serif" font-size="8.5" font-weight="bold" font-style="normal" text-anchor="middle" fill="#000" >merge</text>
<text x="235.4" y="388.5" font-family="'Liberation Sans', Arial, sans-serif" font-size="8.5" font-weight="bold" font-style="normal" text-anchor="middle" fill="#1ecb1e" >YFP-ParB</text>
<text x="334.9" y="388.5" font-family="'Liberation Sans', Arial, sans-serif" font-size="8.7" font-weight="bold" font-style="normal" text-anchor="middle" fill="#000" >brightfield</text>
<text x="53.2" y="161.9" font-family="'Liberation Sans', Arial, sans-serif" font-size="13" font-weight="bold" font-style="normal" text-anchor="start" fill="#000" >C</text>
<text x="53.4" y="382.1" font-family="'Liberation Sans', Arial, sans-serif" font-size="13" font-weight="bold" font-style="normal" text-anchor="start" fill="#000" >E</text>
<text x="61" y="199.3" font-family="'Liberation Sans', Arial, sans-serif" font-size="8.6" font-weight="bold" font-style="normal" text-anchor="start" fill="#000" >T=3h</text>
<text x="61" y="248.5" font-family="'Liberation Sans', Arial, sans-serif" font-size="8.6" font-weight="bold" font-style="normal" text-anchor="start" fill="#000" >T=7h</text>
<text x="61" y="298" font-family="'Liberation Sans', Arial, sans-serif" font-size="8.6" font-weight="bold" font-style="normal" text-anchor="start" fill="#000" >T=12h</text>
<text x="61" y="347.1" font-family="'Liberation Sans', Arial, sans-serif" font-size="8.6" font-weight="bold" font-style="normal" text-anchor="start" fill="#000" >T=24h</text>
<text x="86.3" y="419.6" font-family="'Liberation Sans', Arial, sans-serif" font-size="8.6" font-weight="bold" font-style="normal" text-anchor="end" fill="#000" >T=3h</text>
<text x="86.3" y="468.4" font-family="'Liberation Sans', Arial, sans-serif" font-size="8.6" font-weight="bold" font-style="normal" text-anchor="end" fill="#000" >T=24h</text>
<text x="86.3" y="517.8" font-family="'Liberation Sans', Arial, sans-serif" font-size="8.6" font-weight="bold" font-style="normal" text-anchor="end" fill="#000" >T=48h</text>
<text x="391.8" y="162" font-family="'Liberation Sans', Arial, sans-serif" font-size="13" font-weight="bold" font-style="normal" text-anchor="start" fill="#000" >D</text>
<text x="391.8" y="382.1" font-family="'Liberation Sans', Arial, sans-serif" font-size="13" font-weight="bold" font-style="normal" text-anchor="start" fill="#000" >F</text>
<rect x="428.6" y="173.2" width="52.7" height="41.1" fill="#fff" stroke="#111" stroke-width="1.1"/>
<rect x="439.6" y="213.8" width="5.2" height="0.5" fill="#5fcf3a" stroke="#111" stroke-width="0.7"/>
<rect x="449.9" y="188" width="5.2" height="26.3" fill="#5fcf3a" stroke="#111" stroke-width="0.7"/>
<rect x="460.1" y="206.9" width="5.2" height="7.4" fill="#5fcf3a" stroke="#111" stroke-width="0.7"/>
<rect x="470.4" y="209" width="5.2" height="5.3" fill="#5fcf3a" stroke="#111" stroke-width="0.7"/>
<line x1="426.8" y1="214.3" x2="428.6" y2="214.3" stroke="#111" stroke-width="0.7"/>
<text x="426.3" y="216.5" font-family="'Liberation Sans', Arial, sans-serif" font-size="6.2" font-weight="bold" font-style="normal" text-anchor="end" fill="#000" stroke="#111" stroke-width="0.2">0.0</text>
<line x1="426.8" y1="206.1" x2="428.6" y2="206.1" stroke="#111" stroke-width="0.7"/>
<text x="426.3" y="208.3" font-family="'Liberation Sans', Arial, sans-serif" font-size="6.2" font-weight="bold" font-style="normal" text-anchor="end" fill="#000" stroke="#111" stroke-width="0.2">0.2</text>
<line x1="426.8" y1="197.9" x2="428.6" y2="197.9" stroke="#111" stroke-width="0.7"/>
<text x="426.3" y="200.1" font-family="'Liberation Sans', Arial, sans-serif" font-size="6.2" font-weight="bold" font-style="normal" text-anchor="end" fill="#000" stroke="#111" stroke-width="0.2">0.4</text>
<line x1="426.8" y1="189.6" x2="428.6" y2="189.6" stroke="#111" stroke-width="0.7"/>
<text x="426.3" y="191.8" font-family="'Liberation Sans', Arial, sans-serif" font-size="6.2" font-weight="bold" font-style="normal" text-anchor="end" fill="#000" stroke="#111" stroke-width="0.2">0.6</text>
<line x1="426.8" y1="181.4" x2="428.6" y2="181.4" stroke="#111" stroke-width="0.7"/>
<text x="426.3" y="183.6" font-family="'Liberation Sans', Arial, sans-serif" font-size="6.2" font-weight="bold" font-style="normal" text-anchor="end" fill="#000" stroke="#111" stroke-width="0.2">0.8</text>
<line x1="426.8" y1="173.2" x2="428.6" y2="173.2" stroke="#111" stroke-width="0.7"/>
<text x="426.3" y="175.4" font-family="'Liberation Sans', Arial, sans-serif" font-size="6.2" font-weight="bold" font-style="normal" text-anchor="end" fill="#000" stroke="#111" stroke-width="0.2">1.0</text>
<line x1="432.4" y1="214.3" x2="432.4" y2="215.8" stroke="#111" stroke-width="0.7"/>
<text x="433" y="220.8" font-family="'Liberation Sans', Arial, sans-serif" font-size="6.5" font-weight="bold" font-style="normal" text-anchor="middle" fill="#000" stroke="#111" stroke-width="0.2">0</text>
<line x1="442.5" y1="214.3" x2="442.5" y2="215.8" stroke="#111" stroke-width="0.7"/>
<text x="443.1" y="220.8" font-family="'Liberation Sans', Arial, sans-serif" font-size="6.5" font-weight="bold" font-style="normal" text-anchor="middle" fill="#000" stroke="#111" stroke-width="0.2">1</text>
<line x1="452.6" y1="214.3" x2="452.6" y2="215.8" stroke="#111" stroke-width="0.7"/>
<text x="453.2" y="220.8" font-family="'Liberation Sans', Arial, sans-serif" font-size="6.5" font-weight="bold" font-style="normal" text-anchor="middle" fill="#000" stroke="#111" stroke-width="0.2">2</text>
<line x1="462.7" y1="214.3" x2="462.7" y2="215.8" stroke="#111" stroke-width="0.7"/>
<text x="463.3" y="220.8" font-family="'Liberation Sans', Arial, sans-serif" font-size="6.5" font-weight="bold" font-style="normal" text-anchor="middle" fill="#000" stroke="#111" stroke-width="0.2">3</text>
<line x1="472.8" y1="214.3" x2="472.8" y2="215.8" stroke="#111" stroke-width="0.7"/>
<text x="473.4" y="220.8" font-family="'Liberation Sans', Arial, sans-serif" font-size="6.5" font-weight="bold" font-style="normal" text-anchor="middle" fill="#000" stroke="#111" stroke-width="0.2">4</text>
<text x="480.3" y="179.8" font-family="'Liberation Sans', Arial, sans-serif" font-size="6.4" font-weight="bold" font-style="normal" text-anchor="end" fill="#000" stroke="#111" stroke-width="0.15">n=1296</text>
<rect x="428.6" y="221.7" width="52.7" height="42.1" fill="#fff" stroke="#111" stroke-width="1.1"/>
<rect x="439.6" y="250.3" width="5.2" height="13.5" fill="#5fcf3a" stroke="#111" stroke-width="0.7"/>
<rect x="449.9" y="238.1" width="5.2" height="25.7" fill="#5fcf3a" stroke="#111" stroke-width="0.7"/>
<rect x="460.1" y="260.9" width="5.2" height="2.9" fill="#5fcf3a" stroke="#111" stroke-width="0.7"/>
<line x1="426.8" y1="263.8" x2="428.6" y2="263.8" stroke="#111" stroke-width="0.7"/>
<text x="426.3" y="266" font-family="'Liberation Sans', Arial, sans-serif" font-size="6.2" font-weight="bold" font-style="normal" text-anchor="end" fill="#000" stroke="#111" stroke-width="0.2">0.0</text>
<line x1="426.8" y1="255.4" x2="428.6" y2="255.4" stroke="#111" stroke-width="0.7"/>
<text x="426.3" y="257.6" font-family="'Liberation Sans', Arial, sans-serif" font-size="6.2" font-weight="bold" font-style="normal" text-anchor="end" fill="#000" stroke="#111" stroke-width="0.2">0.2</text>
<line x1="426.8" y1="247" x2="428.6" y2="247" stroke="#111" stroke-width="0.7"/>
<text x="426.3" y="249.2" font-family="'Liberation Sans', Arial, sans-serif" font-size="6.2" font-weight="bold" font-style="normal" text-anchor="end" fill="#000" stroke="#111" stroke-width="0.2">0.4</text>
<line x1="426.8" y1="238.5" x2="428.6" y2="238.5" stroke="#111" stroke-width="0.7"/>
<text x="426.3" y="240.7" font-family="'Liberation Sans', Arial, sans-serif" font-size="6.2" font-weight="bold" font-style="normal" text-anchor="end" fill="#000" stroke="#111" stroke-width="0.2">0.6</text>
<line x1="426.8" y1="230.1" x2="428.6" y2="230.1" stroke="#111" stroke-width="0.7"/>
<text x="426.3" y="232.3" font-family="'Liberation Sans', Arial, sans-serif" font-size="6.2" font-weight="bold" font-style="normal" text-anchor="end" fill="#000" stroke="#111" stroke-width="0.2">0.8</text>
<line x1="426.8" y1="221.7" x2="428.6" y2="221.7" stroke="#111" stroke-width="0.7"/>
<text x="426.3" y="223.9" font-family="'Liberation Sans', Arial, sans-serif" font-size="6.2" font-weight="bold" font-style="normal" text-anchor="end" fill="#000" stroke="#111" stroke-width="0.2">1.0</text>
<line x1="432.4" y1="263.8" x2="432.4" y2="265.3" stroke="#111" stroke-width="0.7"/>
<text x="433" y="270.3" font-family="'Liberation Sans', Arial, sans-serif" font-size="6.5" font-weight="bold" font-style="normal" text-anchor="middle" fill="#000" stroke="#111" stroke-width="0.2">0</text>
<line x1="442.5" y1="263.8" x2="442.5" y2="265.3" stroke="#111" stroke-width="0.7"/>
<text x="443.1" y="270.3" font-family="'Liberation Sans', Arial, sans-serif" font-size="6.5" font-weight="bold" font-style="normal" text-anchor="middle" fill="#000" stroke="#111" stroke-width="0.2">1</text>
<line x1="452.6" y1="263.8" x2="452.6" y2="265.3" stroke="#111" stroke-width="0.7"/>
<text x="453.2" y="270.3" font-family="'Liberation Sans', Arial, sans-serif" font-size="6.5" font-weight="bold" font-style="normal" text-anchor="middle" fill="#000" stroke="#111" stroke-width="0.2">2</text>
<line x1="462.7" y1="263.8" x2="462.7" y2="265.3" stroke="#111" stroke-width="0.7"/>
<text x="463.3" y="270.3" font-family="'Liberation Sans', Arial, sans-serif" font-size="6.5" font-weight="bold" font-style="normal" text-anchor="middle" fill="#000" stroke="#111" stroke-width="0.2">3</text>
<line x1="472.8" y1="263.8" x2="472.8" y2="265.3" stroke="#111" stroke-width="0.7"/>
<text x="473.4" y="270.3" font-family="'Liberation Sans', Arial, sans-serif" font-size="6.5" font-weight="bold" font-style="normal" text-anchor="middle" fill="#000" stroke="#111" stroke-width="0.2">4</text>
<text x="480.3" y="228.3" font-family="'Liberation Sans', Arial, sans-serif" font-size="6.4" font-weight="bold" font-style="normal" text-anchor="end" fill="#000" stroke="#111" stroke-width="0.15">n=1029</text>
<rect x="428.6" y="270.8" width="52.7" height="42.1" fill="#fff" stroke="#111" stroke-width="1.1"/>
<rect x="429.4" y="304.9" width="5.2" height="8" fill="#5fcf3a" stroke="#111" stroke-width="0.7"/>
<rect x="439.6" y="283.9" width="5.2" height="29" fill="#5fcf3a" stroke="#111" stroke-width="0.7"/>
<rect x="449.9" y="309.3" width="5.2" height="3.6" fill="#5fcf3a" stroke="#111" stroke-width="0.7"/>
<rect x="460.1" y="312.6" width="5.2" height="0.3" fill="#5fcf3a" stroke="#111" stroke-width="0.7"/>
<rect x="470.4" y="312.7" width="5.2" height="0.2" fill="#5fcf3a" stroke="#111" stroke-width="0.7"/>
<line x1="426.8" y1="312.9" x2="428.6" y2="312.9" stroke="#111" stroke-width="0.7"/>
<text x="426.3" y="315.1" font-family="'Liberation Sans', Arial, sans-serif" font-size="6.2" font-weight="bold" font-style="normal" text-anchor="end" fill="#000" stroke="#111" stroke-width="0.2">0.0</text>
<line x1="426.8" y1="304.5" x2="428.6" y2="304.5" stroke="#111" stroke-width="0.7"/>
<text x="426.3" y="306.7" font-family="'Liberation Sans', Arial, sans-serif" font-size="6.2" font-weight="bold" font-style="normal" text-anchor="end" fill="#000" stroke="#111" stroke-width="0.2">0.2</text>
<line x1="426.8" y1="296.1" x2="428.6" y2="296.1" stroke="#111" stroke-width="0.7"/>
<text x="426.3" y="298.3" font-family="'Liberation Sans', Arial, sans-serif" font-size="6.2" font-weight="bold" font-style="normal" text-anchor="end" fill="#000" stroke="#111" stroke-width="0.2">0.4</text>
<line x1="426.8" y1="287.6" x2="428.6" y2="287.6" stroke="#111" stroke-width="0.7"/>
<text x="426.3" y="289.8" font-family="'Liberation Sans', Arial, sans-serif" font-size="6.2" font-weight="bold" font-style="normal" text-anchor="end" fill="#000" stroke="#111" stroke-width="0.2">0.6</text>
<line x1="426.8" y1="279.2" x2="428.6" y2="279.2" stroke="#111" stroke-width="0.7"/>
<text x="426.3" y="281.4" font-family="'Liberation Sans', Arial, sans-serif" font-size="6.2" font-weight="bold" font-style="normal" text-anchor="end" fill="#000" stroke="#111" stroke-width="0.2">0.8</text>
<line x1="426.8" y1="270.8" x2="428.6" y2="270.8" stroke="#111" stroke-width="0.7"/>
<text x="426.3" y="273" font-family="'Liberation Sans', Arial, sans-serif" font-size="6.2" font-weight="bold" font-style="normal" text-anchor="end" fill="#000" stroke="#111" stroke-width="0.2">1.0</text>
<line x1="432.4" y1="312.9" x2="432.4" y2="314.4" stroke="#111" stroke-width="0.7"/>
<text x="433" y="319.4" font-family="'Liberation Sans', Arial, sans-serif" font-size="6.5" font-weight="bold" font-style="normal" text-anchor="middle" fill="#000" stroke="#111" stroke-width="0.2">0</text>
<line x1="442.5" y1="312.9" x2="442.5" y2="314.4" stroke="#111" stroke-width="0.7"/>
<text x="443.1" y="319.4" font-family="'Liberation Sans', Arial, sans-serif" font-size="6.5" font-weight="bold" font-style="normal" text-anchor="middle" fill="#000" stroke="#111" stroke-width="0.2">1</text>
<line x1="452.6" y1="312.9" x2="452.6" y2="314.4" stroke="#111" stroke-width="0.7"/>
<text x="453.2" y="319.4" font-family="'Liberation Sans', Arial, sans-serif" font-size="6.5" font-weight="bold" font-style="normal" text-anchor="middle" fill="#000" stroke="#111" stroke-width="0.2">2</text>
<line x1="462.7" y1="312.9" x2="462.7" y2="314.4" stroke="#111" stroke-width="0.7"/>
<text x="463.3" y="319.4" font-family="'Liberation Sans', Arial, sans-serif" font-size="6.5" font-weight="bold" font-style="normal" text-anchor="middle" fill="#000" stroke="#111" stroke-width="0.2">3</text>
<line x1="472.8" y1="312.9" x2="472.8" y2="314.4" stroke="#111" stroke-width="0.7"/>
<text x="473.4" y="319.4" font-family="'Liberation Sans', Arial, sans-serif" font-size="6.5" font-weight="bold" font-style="normal" text-anchor="middle" fill="#000" stroke="#111" stroke-width="0.2">4</text>
<text x="480.3" y="277.4" font-family="'Liberation Sans', Arial, sans-serif" font-size="6.4" font-weight="bold" font-style="normal" text-anchor="end" fill="#000" stroke="#111" stroke-width="0.15">n=1191</text>
<rect x="428.6" y="320.6" width="52.7" height="42.3" fill="#fff" stroke="#111" stroke-width="1.1"/>
<rect x="429.4" y="321.4" width="5.2" height="41.5" fill="#5fcf3a" stroke="#111" stroke-width="0.7"/>
<rect x="439.6" y="362.5" width="5.2" height="0.4" fill="#5fcf3a" stroke="#111" stroke-width="0.7"/>
<line x1="426.8" y1="362.9" x2="428.6" y2="362.9" stroke="#111" stroke-width="0.7"/>
<text x="426.3" y="365.1" font-family="'Liberation Sans', Arial, sans-serif" font-size="6.2" font-weight="bold" font-style="normal" text-anchor="end" fill="#000" stroke="#111" stroke-width="0.2">0.0</text>
<line x1="426.8" y1="354.4" x2="428.6" y2="354.4" stroke="#111" stroke-width="0.7"/>
<text x="426.3" y="356.6" font-family="'Liberation Sans', Arial, sans-serif" font-size="6.2" font-weight="bold" font-style="normal" text-anchor="end" fill="#000" stroke="#111" stroke-width="0.2">0.2</text>
<line x1="426.8" y1="346" x2="428.6" y2="346" stroke="#111" stroke-width="0.7"/>
<text x="426.3" y="348.2" font-family="'Liberation Sans', Arial, sans-serif" font-size="6.2" font-weight="bold" font-style="normal" text-anchor="end" fill="#000" stroke="#111" stroke-width="0.2">0.4</text>
<line x1="426.8" y1="337.5" x2="428.6" y2="337.5" stroke="#111" stroke-width="0.7"/>
<text x="426.3" y="339.7" font-family="'Liberation Sans', Arial, sans-serif" font-size="6.2" font-weight="bold" font-style="normal" text-anchor="end" fill="#000" stroke="#111" stroke-width="0.2">0.6</text>
<line x1="426.8" y1="329.1" x2="428.6" y2="329.1" stroke="#111" stroke-width="0.7"/>
<text x="426.3" y="331.3" font-family="'Liberation Sans', Arial, sans-serif" font-size="6.2" font-weight="bold" font-style="normal" text-anchor="end" fill="#000" stroke="#111" stroke-width="0.2">0.8</text>
<line x1="426.8" y1="320.6" x2="428.6" y2="320.6" stroke="#111" stroke-width="0.7"/>
<text x="426.3" y="322.8" font-family="'Liberation Sans', Arial, sans-serif" font-size="6.2" font-weight="bold" font-style="normal" text-anchor="end" fill="#000" stroke="#111" stroke-width="0.2">1.0</text>
<line x1="432.4" y1="362.9" x2="432.4" y2="364.4" stroke="#111" stroke-width="0.7"/>
<text x="433" y="369.4" font-family="'Liberation Sans', Arial, sans-serif" font-size="6.5" font-weight="bold" font-style="normal" text-anchor="middle" fill="#000" stroke="#111" stroke-width="0.2">0</text>
<line x1="442.5" y1="362.9" x2="442.5" y2="364.4" stroke="#111" stroke-width="0.7"/>
<text x="443.1" y="369.4" font-family="'Liberation Sans', Arial, sans-serif" font-size="6.5" font-weight="bold" font-style="normal" text-anchor="middle" fill="#000" stroke="#111" stroke-width="0.2">1</text>
<line x1="452.6" y1="362.9" x2="452.6" y2="364.4" stroke="#111" stroke-width="0.7"/>
<text x="453.2" y="369.4" font-family="'Liberation Sans', Arial, sans-serif" font-size="6.5" font-weight="bold" font-style="normal" text-anchor="middle" fill="#000" stroke="#111" stroke-width="0.2">2</text>
<line x1="462.7" y1="362.9" x2="462.7" y2="364.4" stroke="#111" stroke-width="0.7"/>
<text x="463.3" y="369.4" font-family="'Liberation Sans', Arial, sans-serif" font-size="6.5" font-weight="bold" font-style="normal" text-anchor="middle" fill="#000" stroke="#111" stroke-width="0.2">3</text>
<line x1="472.8" y1="362.9" x2="472.8" y2="364.4" stroke="#111" stroke-width="0.7"/>
<text x="473.4" y="369.4" font-family="'Liberation Sans', Arial, sans-serif" font-size="6.5" font-weight="bold" font-style="normal" text-anchor="middle" fill="#000" stroke="#111" stroke-width="0.2">4</text>
<text x="480.3" y="327.2" font-family="'Liberation Sans', Arial, sans-serif" font-size="6.4" font-weight="bold" font-style="normal" text-anchor="end" fill="#000" stroke="#111" stroke-width="0.15">n=984</text>
<rect x="428.6" y="392.8" width="52.7" height="41.3" fill="#fff" stroke="#111" stroke-width="1.1"/>
<rect x="429.4" y="430" width="5.2" height="4.1" fill="#5fcf3a" stroke="#111" stroke-width="0.7"/>
<rect x="439.6" y="411.8" width="5.2" height="22.3" fill="#5fcf3a" stroke="#111" stroke-width="0.7"/>
<rect x="449.9" y="420.5" width="5.2" height="13.6" fill="#5fcf3a" stroke="#111" stroke-width="0.7"/>
<rect x="460.1" y="433.7" width="5.2" height="0.4" fill="#5fcf3a" stroke="#111" stroke-width="0.7"/>
<line x1="426.8" y1="434.1" x2="428.6" y2="434.1" stroke="#111" stroke-width="0.7"/>
<text x="426.3" y="436.3" font-family="'Liberation Sans', Arial, sans-serif" font-size="6.2" font-weight="bold" font-style="normal" text-anchor="end" fill="#000" stroke="#111" stroke-width="0.2">0.0</text>
<line x1="426.8" y1="425.8" x2="428.6" y2="425.8" stroke="#111" stroke-width="0.7"/>
<text x="426.3" y="428" font-family="'Liberation Sans', Arial, sans-serif" font-size="6.2" font-weight="bold" font-style="normal" text-anchor="end" fill="#000" stroke="#111" stroke-width="0.2">0.2</text>
<line x1="426.8" y1="417.6" x2="428.6" y2="417.6" stroke="#111" stroke-width="0.7"/>
<text x="426.3" y="419.8" font-family="'Liberation Sans', Arial, sans-serif" font-size="6.2" font-weight="bold" font-style="normal" text-anchor="end" fill="#000" stroke="#111" stroke-width="0.2">0.4</text>
<line x1="426.8" y1="409.3" x2="428.6" y2="409.3" stroke="#111" stroke-width="0.7"/>
<text x="426.3" y="411.5" font-family="'Liberation Sans', Arial, sans-serif" font-size="6.2" font-weight="bold" font-style="normal" text-anchor="end" fill="#000" stroke="#111" stroke-width="0.2">0.6</text>
<line x1="426.8" y1="401.1" x2="428.6" y2="401.1" stroke="#111" stroke-width="0.7"/>
<text x="426.3" y="403.3" font-family="'Liberation Sans', Arial, sans-serif" font-size="6.2" font-weight="bold" font-style="normal" text-anchor="end" fill="#000" stroke="#111" stroke-width="0.2">0.8</text>
<line x1="426.8" y1="392.8" x2="428.6" y2="392.8" stroke="#111" stroke-width="0.7"/>
<text x="426.3" y="395" font-family="'Liberation Sans', Arial, sans-serif" font-size="6.2" font-weight="bold" font-style="normal" text-anchor="end" fill="#000" stroke="#111" stroke-width="0.2">1.0</text>
<line x1="432.4" y1="434.1" x2="432.4" y2="435.6" stroke="#111" stroke-width="0.7"/>
<text x="433" y="440.6" font-family="'Liberation Sans', Arial, sans-serif" font-size="6.5" font-weight="bold" font-style="normal" text-anchor="middle" fill="#000" stroke="#111" stroke-width="0.2">0</text>
<line x1="442.5" y1="434.1" x2="442.5" y2="435.6" stroke="#111" stroke-width="0.7"/>
<text x="443.1" y="440.6" font-family="'Liberation Sans', Arial, sans-serif" font-size="6.5" font-weight="bold" font-style="normal" text-anchor="middle" fill="#000" stroke="#111" stroke-width="0.2">1</text>
<line x1="452.6" y1="434.1" x2="452.6" y2="435.6" stroke="#111" stroke-width="0.7"/>
<text x="453.2" y="440.6" font-family="'Liberation Sans', Arial, sans-serif" font-size="6.5" font-weight="bold" font-style="normal" text-anchor="middle" fill="#000" stroke="#111" stroke-width="0.2">2</text>
<line x1="462.7" y1="434.1" x2="462.7" y2="435.6" stroke="#111" stroke-width="0.7"/>
<text x="463.3" y="440.6" font-family="'Liberation Sans', Arial, sans-serif" font-size="6.5" font-weight="bold" font-style="normal" text-anchor="middle" fill="#000" stroke="#111" stroke-width="0.2">3</text>
<line x1="472.8" y1="434.1" x2="472.8" y2="435.6" stroke="#111" stroke-width="0.7"/>
<text x="473.4" y="440.6" font-family="'Liberation Sans', Arial, sans-serif" font-size="6.5" font-weight="bold" font-style="normal" text-anchor="middle" fill="#000" stroke="#111" stroke-width="0.2">4</text>
<text x="480.3" y="399.4" font-family="'Liberation Sans', Arial, sans-serif" font-size="6.4" font-weight="bold" font-style="normal" text-anchor="end" fill="#000" stroke="#111" stroke-width="0.15">n=1482</text>
<rect x="428.6" y="441.6" width="52.7" height="41.7" fill="#fff" stroke="#111" stroke-width="1.1"/>
<rect x="429.4" y="475.8" width="5.2" height="7.5" fill="#5fcf3a" stroke="#111" stroke-width="0.7"/>
<rect x="439.6" y="459.5" width="5.2" height="23.8" fill="#5fcf3a" stroke="#111" stroke-width="0.7"/>
<rect x="449.9" y="474.5" width="5.2" height="8.8" fill="#5fcf3a" stroke="#111" stroke-width="0.7"/>
<rect x="460.1" y="482.9" width="5.2" height="0.4" fill="#5fcf3a" stroke="#111" stroke-width="0.7"/>
<line x1="426.8" y1="483.3" x2="428.6" y2="483.3" stroke="#111" stroke-width="0.7"/>
<text x="426.3" y="485.5" font-family="'Liberation Sans', Arial, sans-serif" font-size="6.2" font-weight="bold" font-style="normal" text-anchor="end" fill="#000" stroke="#111" stroke-width="0.2">0.0</text>
<line x1="426.8" y1="475" x2="428.6" y2="475" stroke="#111" stroke-width="0.7"/>
<text x="426.3" y="477.2" font-family="'Liberation Sans', Arial, sans-serif" font-size="6.2" font-weight="bold" font-style="normal" text-anchor="end" fill="#000" stroke="#111" stroke-width="0.2">0.2</text>
<line x1="426.8" y1="466.6" x2="428.6" y2="466.6" stroke="#111" stroke-width="0.7"/>
<text x="426.3" y="468.8" font-family="'Liberation Sans', Arial, sans-serif" font-size="6.2" font-weight="bold" font-style="normal" text-anchor="end" fill="#000" stroke="#111" stroke-width="0.2">0.4</text>
<line x1="426.8" y1="458.3" x2="428.6" y2="458.3" stroke="#111" stroke-width="0.7"/>
<text x="426.3" y="460.5" font-family="'Liberation Sans', Arial, sans-serif" font-size="6.2" font-weight="bold" font-style="normal" text-anchor="end" fill="#000" stroke="#111" stroke-width="0.2">0.6</text>
<line x1="426.8" y1="449.9" x2="428.6" y2="449.9" stroke="#111" stroke-width="0.7"/>
<text x="426.3" y="452.1" font-family="'Liberation Sans', Arial, sans-serif" font-size="6.2" font-weight="bold" font-style="normal" text-anchor="end" fill="#000" stroke="#111" stroke-width="0.2">0.8</text>
<line x1="426.8" y1="441.6" x2="428.6" y2="441.6" stroke="#111" stroke-width="0.7"/>
<text x="426.3" y="443.8" font-family="'Liberation Sans', Arial, sans-serif" font-size="6.2" font-weight="bold" font-style="normal" text-anchor="end" fill="#000" stroke="#111" stroke-width="0.2">1.0</text>
<line x1="432.4" y1="483.3" x2="432.4" y2="484.8" stroke="#111" stroke-width="0.7"/>
<text x="433" y="489.8" font-family="'Liberation Sans', Arial, sans-serif" font-size="6.5" font-weight="bold" font-style="normal" text-anchor="middle" fill="#000" stroke="#111" stroke-width="0.2">0</text>
<line x1="442.5" y1="483.3" x2="442.5" y2="484.8" stroke="#111" stroke-width="0.7"/>
<text x="443.1" y="489.8" font-family="'Liberation Sans', Arial, sans-serif" font-size="6.5" font-weight="bold" font-style="normal" text-anchor="middle" fill="#000" stroke="#111" stroke-width="0.2">1</text>
<line x1="452.6" y1="483.3" x2="452.6" y2="484.8" stroke="#111" stroke-width="0.7"/>
<text x="453.2" y="489.8" font-family="'Liberation Sans', Arial, sans-serif" font-size="6.5" font-weight="bold" font-style="normal" text-anchor="middle" fill="#000" stroke="#111" stroke-width="0.2">2</text>
<line x1="462.7" y1="483.3" x2="462.7" y2="484.8" stroke="#111" stroke-width="0.7"/>
<text x="463.3" y="489.8" font-family="'Liberation Sans', Arial, sans-serif" font-size="6.5" font-weight="bold" font-style="normal" text-anchor="middle" fill="#000" stroke="#111" stroke-width="0.2">3</text>
<line x1="472.8" y1="483.3" x2="472.8" y2="484.8" stroke="#111" stroke-width="0.7"/>
<text x="473.4" y="489.8" font-family="'Liberation Sans', Arial, sans-serif" font-size="6.5" font-weight="bold" font-style="normal" text-anchor="middle" fill="#000" stroke="#111" stroke-width="0.2">4</text>
<text x="480.3" y="448.2" font-family="'Liberation Sans', Arial, sans-serif" font-size="6.4" font-weight="bold" font-style="normal" text-anchor="end" fill="#000" stroke="#111" stroke-width="0.15">n=1824</text>
<rect x="428.6" y="490.8" width="52.7" height="42.1" fill="#fff" stroke="#111" stroke-width="1.1"/>
<rect x="429.4" y="527.8" width="5.2" height="5.1" fill="#5fcf3a" stroke="#111" stroke-width="0.7"/>
<rect x="439.6" y="503" width="5.2" height="29.9" fill="#5fcf3a" stroke="#111" stroke-width="0.7"/>
<rect x="449.9" y="527.8" width="5.2" height="5.1" fill="#5fcf3a" stroke="#111" stroke-width="0.7"/>
<rect x="460.1" y="532.7" width="5.2" height="0.2" fill="#5fcf3a" stroke="#111" stroke-width="0.7"/>
<line x1="426.8" y1="532.9" x2="428.6" y2="532.9" stroke="#111" stroke-width="0.7"/>
<text x="426.3" y="535.1" font-family="'Liberation Sans', Arial, sans-serif" font-size="6.2" font-weight="bold" font-style="normal" text-anchor="end" fill="#000" stroke="#111" stroke-width="0.2">0.0</text>
<line x1="426.8" y1="524.5" x2="428.6" y2="524.5" stroke="#111" stroke-width="0.7"/>
<text x="426.3" y="526.7" font-family="'Liberation Sans', Arial, sans-serif" font-size="6.2" font-weight="bold" font-style="normal" text-anchor="end" fill="#000" stroke="#111" stroke-width="0.2">0.2</text>
<line x1="426.8" y1="516.1" x2="428.6" y2="516.1" stroke="#111" stroke-width="0.7"/>
<text x="426.3" y="518.3" font-family="'Liberation Sans', Arial, sans-serif" font-size="6.2" font-weight="bold" font-style="normal" text-anchor="end" fill="#000" stroke="#111" stroke-width="0.2">0.4</text>
<line x1="426.8" y1="507.6" x2="428.6" y2="507.6" stroke="#111" stroke-width="0.7"/>
<text x="426.3" y="509.8" font-family="'Liberation Sans', Arial, sans-serif" font-size="6.2" font-weight="bold" font-style="normal" text-anchor="end" fill="#000" stroke="#111" stroke-width="0.2">0.6</text>
<line x1="426.8" y1="499.2" x2="428.6" y2="499.2" stroke="#111" stroke-width="0.7"/>
<text x="426.3" y="501.4" font-family="'Liberation Sans', Arial, sans-serif" font-size="6.2" font-weight="bold" font-style="normal" text-anchor="end" fill="#000" stroke="#111" stroke-width="0.2">0.8</text>
<line x1="426.8" y1="490.8" x2="428.6" y2="490.8" stroke="#111" stroke-width="0.7"/>
<text x="426.3" y="493" font-family="'Liberation Sans', Arial, sans-serif" font-size="6.2" font-weight="bold" font-style="normal" text-anchor="end" fill="#000" stroke="#111" stroke-width="0.2">1.0</text>
<line x1="432.4" y1="532.9" x2="432.4" y2="534.4" stroke="#111" stroke-width="0.7"/>
<text x="433" y="539.4" font-family="'Liberation Sans', Arial, sans-serif" font-size="6.5" font-weight="bold" font-style="normal" text-anchor="middle" fill="#000" stroke="#111" stroke-width="0.2">0</text>
<line x1="442.5" y1="532.9" x2="442.5" y2="534.4" stroke="#111" stroke-width="0.7"/>
<text x="443.1" y="539.4" font-family="'Liberation Sans', Arial, sans-serif" font-size="6.5" font-weight="bold" font-style="normal" text-anchor="middle" fill="#000" stroke="#111" stroke-width="0.2">1</text>
<line x1="452.6" y1="532.9" x2="452.6" y2="534.4" stroke="#111" stroke-width="0.7"/>
<text x="453.2" y="539.4" font-family="'Liberation Sans', Arial, sans-serif" font-size="6.5" font-weight="bold" font-style="normal" text-anchor="middle" fill="#000" stroke="#111" stroke-width="0.2">2</text>
<line x1="462.7" y1="532.9" x2="462.7" y2="534.4" stroke="#111" stroke-width="0.7"/>
<text x="463.3" y="539.4" font-family="'Liberation Sans', Arial, sans-serif" font-size="6.5" font-weight="bold" font-style="normal" text-anchor="middle" fill="#000" stroke="#111" stroke-width="0.2">3</text>
<line x1="472.8" y1="532.9" x2="472.8" y2="534.4" stroke="#111" stroke-width="0.7"/>
<text x="473.4" y="539.4" font-family="'Liberation Sans', Arial, sans-serif" font-size="6.5" font-weight="bold" font-style="normal" text-anchor="middle" fill="#000" stroke="#111" stroke-width="0.2">4</text>
<text x="480.3" y="497.4" font-family="'Liberation Sans', Arial, sans-serif" font-size="6.4" font-weight="bold" font-style="normal" text-anchor="end" fill="#000" stroke="#111" stroke-width="0.15">n=1829</text>
<text transform="translate(408.2,268.5) rotate(-90)" font-family="'Liberation Sans', Arial, sans-serif" font-size="8.5" font-weight="bold" text-anchor="middle" fill="#111" letter-spacing="0.4">Proportion</text>
<text transform="translate(408.2,462.3) rotate(-90)" font-family="'Liberation Sans', Arial, sans-serif" font-size="8.5" font-weight="bold" text-anchor="middle" fill="#111" letter-spacing="0.4">Proportion</text>
<text x="451.6" y="375.8" font-family="'Liberation Sans', Arial, sans-serif" font-size="6.8" font-weight="bold" font-style="normal" text-anchor="middle" fill="#000" letter-spacing="0.35">Nr of foci per cell</text>
<text x="451.6" y="545.3" font-family="'Liberation Sans', Arial, sans-serif" font-size="6.8" font-weight="bold" font-style="normal" text-anchor="middle" fill="#000" letter-spacing="0.35">Nr of foci per cell</text>
</svg>
</body></html>
